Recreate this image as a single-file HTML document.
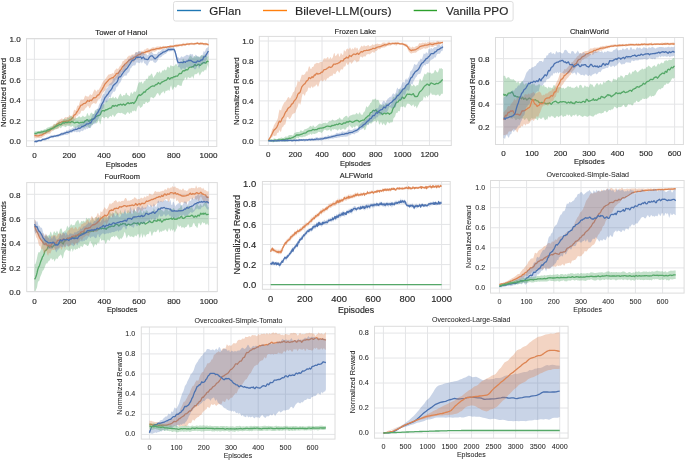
<!DOCTYPE html>
<html><head><meta charset="utf-8"><style>html,body{margin:0;padding:0;background:#fff;width:685px;height:460px;overflow:hidden}svg{display:block}</style></head>
<body><svg width="685" height="460" viewBox="0 0 685 460" style="font-family:'Liberation Sans', sans-serif"><rect width="685" height="460" fill="#fff"/><g opacity="0.999"><clipPath id="clip1"><rect x="26.50" y="38.50" width="190.30" height="108.00"/></clipPath>
<line x1="34.40" y1="38.50" x2="34.40" y2="146.50" stroke="#e4e5e7" stroke-width="1.00"/>
<line x1="69.22" y1="38.50" x2="69.22" y2="146.50" stroke="#e4e5e7" stroke-width="1.00"/>
<line x1="104.04" y1="38.50" x2="104.04" y2="146.50" stroke="#e4e5e7" stroke-width="1.00"/>
<line x1="138.86" y1="38.50" x2="138.86" y2="146.50" stroke="#e4e5e7" stroke-width="1.00"/>
<line x1="173.68" y1="38.50" x2="173.68" y2="146.50" stroke="#e4e5e7" stroke-width="1.00"/>
<line x1="208.50" y1="38.50" x2="208.50" y2="146.50" stroke="#e4e5e7" stroke-width="1.00"/>
<line x1="26.50" y1="140.80" x2="216.80" y2="140.80" stroke="#e4e5e7" stroke-width="1.00"/>
<line x1="26.50" y1="120.42" x2="216.80" y2="120.42" stroke="#e4e5e7" stroke-width="1.00"/>
<line x1="26.50" y1="100.04" x2="216.80" y2="100.04" stroke="#e4e5e7" stroke-width="1.00"/>
<line x1="26.50" y1="79.66" x2="216.80" y2="79.66" stroke="#e4e5e7" stroke-width="1.00"/>
<line x1="26.50" y1="59.28" x2="216.80" y2="59.28" stroke="#e4e5e7" stroke-width="1.00"/>
<line x1="26.50" y1="38.90" x2="216.80" y2="38.90" stroke="#e4e5e7" stroke-width="1.00"/>
<g clip-path="url(#clip1)">
<polygon points="34.4,133.8 35.2,134.0 36.0,133.7 36.8,133.7 37.6,133.5 38.4,133.6 39.2,133.7 40.0,133.0 40.8,133.1 41.6,132.9 42.3,132.2 43.1,131.6 43.9,131.2 44.7,131.4 45.5,130.9 46.3,129.7 47.1,129.0 47.9,128.9 48.7,128.7 49.5,128.6 50.3,127.8 51.1,126.8 51.9,127.0 52.7,126.0 53.5,124.0 54.3,123.8 55.1,124.4 55.9,123.4 56.7,122.2 57.5,121.0 58.2,120.5 59.0,120.6 59.8,119.5 60.6,119.3 61.4,118.6 62.2,118.5 63.0,119.3 63.8,119.1 64.6,117.7 65.4,117.0 66.2,117.4 67.0,117.0 67.8,117.1 68.6,116.8 69.4,114.9 70.2,115.4 71.0,116.7 71.8,115.4 72.6,114.8 73.4,112.2 74.1,109.4 74.9,110.2 75.7,110.6 76.5,108.5 77.3,105.6 78.1,105.9 78.9,105.0 79.7,102.3 80.5,100.1 81.3,99.4 82.1,100.0 82.9,99.6 83.7,99.5 84.5,97.1 85.3,95.5 86.1,96.0 86.9,96.4 87.7,96.6 88.5,96.7 89.3,95.6 90.0,94.2 90.8,94.4 91.6,95.3 92.4,94.2 93.2,92.3 94.0,90.6 94.8,89.3 95.6,90.3 96.4,91.7 97.2,90.3 98.0,89.5 98.8,89.9 99.6,88.2 100.4,87.0 101.2,85.2 102.0,83.4 102.8,82.1 103.6,80.8 104.4,80.0 105.2,79.1 105.9,78.2 106.7,77.0 107.5,75.9 108.3,74.5 109.1,74.7 109.9,74.1 110.7,73.9 111.5,73.9 112.3,72.7 113.1,74.0 113.9,72.8 114.7,70.3 115.5,69.8 116.3,68.6 117.1,68.5 117.9,69.2 118.7,68.1 119.5,66.6 120.3,65.5 121.1,65.0 121.8,63.5 122.6,61.3 123.4,61.0 124.2,60.6 125.0,59.1 125.8,59.4 126.6,58.8 127.4,57.0 128.2,56.4 129.0,55.5 129.8,55.8 130.6,55.8 131.4,54.8 132.2,54.4 133.0,54.5 133.8,54.4 134.6,54.1 135.4,52.5 136.2,51.9 137.0,52.0 137.7,52.6 138.5,52.0 139.3,51.0 140.1,52.5 140.9,51.8 141.7,50.6 142.5,51.1 143.3,50.9 144.1,49.7 144.9,49.5 145.7,49.4 146.5,48.4 147.3,48.0 148.1,48.4 148.9,48.8 149.7,49.0 150.5,48.7 151.3,47.9 152.1,47.4 152.9,47.3 153.6,47.2 154.4,47.4 155.2,47.5 156.0,46.9 156.8,46.6 157.6,46.4 158.4,46.5 159.2,46.7 160.0,46.3 160.8,46.3 161.6,47.0 162.4,46.4 163.2,45.7 164.0,45.9 164.8,46.3 165.6,46.3 166.4,46.1 167.2,46.0 168.0,46.1 168.8,46.0 169.5,45.2 170.3,44.9 171.1,45.2 171.9,45.2 172.7,44.9 173.5,45.5 174.3,45.4 175.1,44.4 175.9,44.3 176.7,43.9 177.5,43.7 178.3,44.0 179.1,44.0 179.9,43.8 180.7,43.9 181.5,44.0 182.3,43.4 183.1,42.8 183.9,43.0 184.7,43.5 185.4,43.6 186.2,43.0 187.0,42.7 187.8,42.7 188.6,42.9 189.4,43.1 190.2,42.9 191.0,42.6 191.8,42.4 192.6,42.8 193.4,43.3 194.2,42.9 195.0,42.6 195.8,43.0 196.6,42.4 197.4,41.8 198.2,42.3 199.0,42.8 199.8,42.4 200.6,42.3 201.3,42.4 202.1,42.3 202.9,43.0 203.7,43.2 204.5,43.0 205.3,42.8 206.1,42.8 206.9,43.3 207.7,43.6 208.5,43.8 208.5,46.1 207.7,45.6 206.9,45.0 206.1,45.3 205.3,45.4 204.5,45.3 203.7,45.3 202.9,45.0 202.1,44.6 201.3,44.7 200.6,44.8 199.8,45.0 199.0,45.0 198.2,44.2 197.4,44.3 196.6,44.4 195.8,44.4 195.0,45.1 194.2,45.2 193.4,45.0 192.6,44.6 191.8,44.6 191.0,44.3 190.2,44.6 189.4,45.4 188.6,45.4 187.8,45.0 187.0,44.8 186.2,45.1 185.4,46.0 184.7,46.1 183.9,45.4 183.1,45.7 182.3,46.4 181.5,46.4 180.7,46.0 179.9,46.2 179.1,46.5 178.3,46.6 177.5,46.9 176.7,47.4 175.9,47.1 175.1,46.7 174.3,47.1 173.5,47.4 172.7,47.7 171.9,48.2 171.1,48.0 170.3,47.9 169.5,48.1 168.8,47.9 168.0,48.0 167.2,48.2 166.4,48.2 165.6,48.2 164.8,48.9 164.0,49.1 163.2,49.1 162.4,49.6 161.6,49.6 160.8,49.7 160.0,50.1 159.2,50.3 158.4,49.7 157.6,49.7 156.8,50.6 156.0,51.1 155.2,51.6 154.4,51.8 153.6,51.4 152.9,51.2 152.1,52.0 151.3,53.0 150.5,53.0 149.7,53.5 148.9,53.8 148.1,53.4 147.3,53.1 146.5,53.3 145.7,54.3 144.9,55.0 144.1,55.2 143.3,55.7 142.5,55.7 141.7,55.7 140.9,56.8 140.1,57.3 139.3,57.4 138.5,58.5 137.7,59.1 137.0,59.0 136.2,58.5 135.4,59.4 134.6,61.3 133.8,62.0 133.0,62.6 132.2,61.7 131.4,61.6 130.6,63.1 129.8,63.0 129.0,63.0 128.2,65.4 127.4,66.2 126.6,67.2 125.8,69.6 125.0,69.3 124.2,70.5 123.4,71.8 122.6,71.9 121.8,71.9 121.1,72.9 120.3,75.8 119.5,77.1 118.7,77.6 117.9,79.1 117.1,79.2 116.3,78.1 115.5,79.2 114.7,81.5 113.9,82.2 113.1,83.3 112.3,83.9 111.5,84.9 110.7,85.2 109.9,84.5 109.1,85.4 108.3,86.5 107.5,86.7 106.7,87.3 105.9,89.7 105.2,90.5 104.4,91.1 103.6,92.1 102.8,92.4 102.0,94.8 101.2,97.6 100.4,98.5 99.6,99.1 98.8,99.2 98.0,99.8 97.2,101.7 96.4,103.4 95.6,103.7 94.8,103.5 94.0,103.1 93.2,103.2 92.4,104.0 91.6,104.6 90.8,106.6 90.0,108.0 89.3,108.2 88.5,106.3 87.7,105.5 86.9,107.3 86.1,107.4 85.3,108.6 84.5,109.8 83.7,110.7 82.9,110.8 82.1,110.7 81.3,110.7 80.5,113.0 79.7,114.6 78.9,113.5 78.1,115.4 77.3,116.0 76.5,115.5 75.7,118.8 74.9,120.5 74.1,119.8 73.4,121.8 72.6,122.5 71.8,122.5 71.0,123.9 70.2,124.4 69.4,124.5 68.6,124.6 67.8,124.4 67.0,124.5 66.2,125.0 65.4,125.3 64.6,125.0 63.8,124.4 63.0,125.4 62.2,126.3 61.4,125.9 60.6,125.4 59.8,125.8 59.0,128.1 58.2,128.9 57.5,128.1 56.7,128.9 55.9,129.7 55.1,129.0 54.3,129.3 53.5,130.2 52.7,131.0 51.9,131.3 51.1,132.0 50.3,133.4 49.5,133.8 48.7,133.7 47.9,133.8 47.1,134.5 46.3,134.4 45.5,134.6 44.7,135.6 43.9,136.2 43.1,136.6 42.3,137.1 41.6,137.9 40.8,137.8 40.0,137.9 39.2,138.1 38.4,137.9 37.6,137.9 36.8,138.3 36.0,138.5 35.2,138.0 34.4,137.8" fill="#dd8452" fill-opacity="0.35"/>
<polyline points="34.4,135.7 35.2,135.7 36.0,135.7 36.8,135.9 37.6,135.9 38.4,135.9 39.2,135.7 40.0,135.2 40.8,135.1 41.6,135.1 42.3,134.6 43.1,134.1 43.9,133.7 44.7,133.4 45.5,132.9 46.3,132.2 47.1,131.8 47.9,131.5 48.7,131.0 49.5,130.6 50.3,130.1 51.1,129.4 51.9,128.8 52.7,128.1 53.5,127.2 54.3,126.6 55.1,126.4 55.9,125.8 56.7,124.6 57.5,123.8 58.2,123.6 59.0,123.2 59.8,122.8 60.6,122.6 61.4,121.9 62.2,121.8 63.0,121.9 63.8,121.4 64.6,121.4 65.4,121.5 66.2,121.2 67.0,121.0 67.8,121.2 68.6,120.9 69.4,120.0 70.2,120.0 71.0,119.5 71.8,118.4 72.6,117.9 73.4,116.5 74.1,115.0 74.9,114.9 75.7,114.1 76.5,112.5 77.3,111.5 78.1,110.3 78.9,108.9 79.7,107.5 80.5,105.7 81.3,105.1 82.1,104.9 82.9,104.2 83.7,103.6 84.5,103.4 85.3,103.3 86.1,102.5 86.9,101.5 87.7,100.5 88.5,101.0 89.3,101.4 90.0,100.2 90.8,100.4 91.6,100.5 92.4,99.4 93.2,98.3 94.0,97.6 94.8,97.8 95.6,97.6 96.4,97.0 97.2,95.6 98.0,95.0 98.8,94.8 99.6,93.5 100.4,92.1 101.2,90.8 102.0,89.6 102.8,88.1 103.6,86.7 104.4,85.1 105.2,83.7 105.9,83.1 106.7,82.1 107.5,81.3 108.3,80.3 109.1,79.4 109.9,78.8 110.7,78.6 111.5,78.0 112.3,77.6 113.1,77.9 113.9,76.8 114.7,75.9 115.5,75.2 116.3,73.6 117.1,73.3 117.9,73.6 118.7,72.5 119.5,71.2 120.3,70.3 121.1,69.4 121.8,68.0 122.6,66.6 123.4,66.0 124.2,65.2 125.0,64.0 125.8,63.5 126.6,62.7 127.4,61.9 128.2,61.1 129.0,60.2 129.8,59.8 130.6,59.4 131.4,58.9 132.2,58.8 133.0,58.5 133.8,57.4 134.6,57.2 135.4,56.7 136.2,56.2 137.0,55.8 137.7,55.2 138.5,54.9 139.3,54.3 140.1,54.4 140.9,53.9 141.7,53.0 142.5,52.9 143.3,52.9 144.1,52.6 144.9,52.4 145.7,51.9 146.5,51.6 147.3,51.5 148.1,51.2 148.9,51.0 149.7,50.8 150.5,50.3 151.3,49.9 152.1,49.8 152.9,49.5 153.6,49.5 154.4,49.4 155.2,49.2 156.0,48.9 156.8,48.7 157.6,48.6 158.4,48.6 159.2,48.5 160.0,48.0 160.8,47.8 161.6,48.0 162.4,47.7 163.2,47.3 164.0,47.4 164.8,47.4 165.6,47.2 166.4,47.3 167.2,47.0 168.0,46.7 168.8,46.7 169.5,46.7 170.3,46.5 171.1,46.4 171.9,46.3 172.7,46.3 173.5,46.3 174.3,45.9 175.1,45.7 175.9,45.8 176.7,45.6 177.5,45.6 178.3,45.5 179.1,45.3 179.9,45.2 180.7,45.1 181.5,45.0 182.3,44.8 183.1,44.6 183.9,44.6 184.7,44.6 185.4,44.7 186.2,44.5 187.0,44.1 187.8,44.2 188.6,44.1 189.4,44.0 190.2,43.9 191.0,43.8 191.8,43.9 192.6,43.8 193.4,43.8 194.2,43.8 195.0,43.6 195.8,43.5 196.6,43.3 197.4,43.2 198.2,43.5 199.0,43.9 199.8,43.6 200.6,43.5 201.3,43.6 202.1,43.4 202.9,43.6 203.7,44.0 204.5,43.9 205.3,43.8 206.1,44.0 206.9,44.2 207.7,44.4 208.5,44.8" fill="none" stroke="#dd8452" stroke-width="1.30" stroke-linejoin="round"/>
<polygon points="34.4,132.0 35.2,131.3 36.0,131.2 36.8,131.3 37.6,131.0 38.4,130.9 39.2,130.9 40.0,130.9 40.8,130.2 41.6,129.9 42.3,130.3 43.1,130.2 43.9,129.6 44.7,129.3 45.5,129.3 46.3,128.6 47.1,127.8 47.9,127.5 48.7,127.3 49.5,126.9 50.3,126.6 51.1,126.4 51.9,125.8 52.7,125.7 53.5,125.2 54.3,124.3 55.1,124.3 55.9,123.8 56.7,123.6 57.5,122.9 58.2,122.3 59.0,121.3 59.8,121.3 60.6,122.8 61.4,122.2 62.2,121.0 63.0,120.1 63.8,119.1 64.6,118.5 65.4,118.9 66.2,119.5 67.0,118.4 67.8,117.3 68.6,117.9 69.4,117.5 70.2,116.4 71.0,115.8 71.8,116.3 72.6,117.1 73.4,117.0 74.1,118.2 74.9,119.2 75.7,118.1 76.5,118.0 77.3,117.7 78.1,117.2 78.9,116.2 79.7,116.5 80.5,117.6 81.3,117.2 82.1,116.5 82.9,115.4 83.7,116.4 84.5,116.9 85.3,116.6 86.1,116.4 86.9,113.7 87.7,113.1 88.5,115.5 89.3,115.9 90.0,114.4 90.8,113.1 91.6,112.6 92.4,113.4 93.2,113.9 94.0,113.9 94.8,110.5 95.6,110.2 96.4,111.7 97.2,108.9 98.0,108.5 98.8,109.0 99.6,108.6 100.4,107.0 101.2,104.8 102.0,105.0 102.8,104.8 103.6,103.9 104.4,104.6 105.2,102.7 105.9,100.8 106.7,100.4 107.5,101.0 108.3,100.3 109.1,98.4 109.9,97.8 110.7,97.4 111.5,98.2 112.3,97.7 113.1,96.3 113.9,98.2 114.7,98.3 115.5,96.8 116.3,97.8 117.1,99.1 117.9,98.5 118.7,96.5 119.5,95.1 120.3,93.4 121.1,94.5 121.8,96.0 122.6,96.4 123.4,95.1 124.2,95.0 125.0,95.6 125.8,92.9 126.6,92.7 127.4,94.9 128.2,95.1 129.0,95.9 129.8,96.3 130.6,92.9 131.4,92.0 132.2,93.9 133.0,93.3 133.8,91.6 134.6,91.6 135.4,92.1 136.2,90.9 137.0,87.9 137.7,85.4 138.5,83.1 139.3,82.0 140.1,82.7 140.9,82.1 141.7,81.6 142.5,83.8 143.3,83.3 144.1,80.8 144.9,81.5 145.7,79.8 146.5,78.4 147.3,79.6 148.1,77.4 148.9,75.2 149.7,75.9 150.5,74.9 151.3,73.4 152.1,73.9 152.9,76.6 153.6,77.9 154.4,75.9 155.2,75.2 156.0,74.1 156.8,72.2 157.6,71.8 158.4,72.9 159.2,71.5 160.0,71.4 160.8,73.6 161.6,71.9 162.4,70.3 163.2,70.7 164.0,70.0 164.8,69.3 165.6,70.6 166.4,69.9 167.2,67.3 168.0,66.6 168.8,67.6 169.5,68.2 170.3,65.5 171.1,65.2 171.9,66.3 172.7,66.0 173.5,66.5 174.3,65.7 175.1,64.9 175.9,63.8 176.7,64.4 177.5,66.2 178.3,65.8 179.1,63.7 179.9,62.2 180.7,61.8 181.5,61.7 182.3,60.5 183.1,58.6 183.9,59.4 184.7,62.4 185.4,63.0 186.2,62.4 187.0,60.4 187.8,59.6 188.6,58.5 189.4,56.4 190.2,55.8 191.0,55.5 191.8,57.0 192.6,58.0 193.4,58.1 194.2,56.1 195.0,56.0 195.8,57.4 196.6,55.7 197.4,56.6 198.2,57.1 199.0,56.6 199.8,57.8 200.6,56.0 201.3,55.3 202.1,55.1 202.9,55.8 203.7,55.3 204.5,54.5 205.3,55.5 206.1,54.7 206.9,56.1 207.7,57.0 208.5,55.2 208.5,68.2 207.7,64.5 206.9,67.4 206.1,70.7 205.3,69.6 204.5,70.2 203.7,71.8 202.9,71.4 202.1,71.4 201.3,72.7 200.6,74.0 199.8,75.7 199.0,73.7 198.2,71.9 197.4,73.6 196.6,74.0 195.8,74.4 195.0,73.8 194.2,75.4 193.4,79.1 192.6,76.6 191.8,76.2 191.0,77.9 190.2,77.4 189.4,78.2 188.6,77.2 187.8,77.3 187.0,79.8 186.2,79.2 185.4,77.1 184.7,78.5 183.9,80.6 183.1,80.5 182.3,82.9 181.5,86.0 180.7,85.7 179.9,85.8 179.1,85.3 178.3,84.8 177.5,84.9 176.7,86.4 175.9,87.9 175.1,87.0 174.3,86.7 173.5,88.6 172.7,90.2 171.9,88.2 171.1,85.3 170.3,87.2 169.5,91.1 168.8,90.5 168.0,89.4 167.2,91.1 166.4,90.7 165.6,90.8 164.8,93.7 164.0,92.4 163.2,91.1 162.4,92.4 161.6,92.7 160.8,94.1 160.0,95.5 159.2,95.5 158.4,93.5 157.6,93.1 156.8,93.8 156.0,95.3 155.2,96.7 154.4,97.3 153.6,98.4 152.9,97.7 152.1,97.8 151.3,97.0 150.5,97.6 149.7,101.6 148.9,102.1 148.1,102.4 147.3,103.3 146.5,101.8 145.7,102.1 144.9,104.1 144.1,103.9 143.3,103.7 142.5,106.2 141.7,107.1 140.9,107.5 140.1,107.9 139.3,105.5 138.5,105.6 137.7,106.6 137.0,108.5 136.2,111.5 135.4,111.3 134.6,110.3 133.8,111.6 133.0,110.5 132.2,111.3 131.4,113.3 130.6,112.1 129.8,113.9 129.0,113.6 128.2,112.3 127.4,112.2 126.6,113.2 125.8,114.8 125.0,114.8 124.2,114.2 123.4,113.8 122.6,113.4 121.8,112.7 121.1,113.1 120.3,113.3 119.5,113.0 118.7,112.8 117.9,113.1 117.1,113.6 116.3,114.2 115.5,115.4 114.7,116.8 113.9,116.6 113.1,114.5 112.3,114.9 111.5,117.2 110.7,115.7 109.9,116.5 109.1,117.1 108.3,118.5 107.5,118.6 106.7,116.9 105.9,117.0 105.2,117.2 104.4,118.6 103.6,117.8 102.8,116.9 102.0,117.1 101.2,120.1 100.4,124.5 99.6,122.8 98.8,119.3 98.0,121.4 97.2,122.7 96.4,123.6 95.6,122.4 94.8,122.2 94.0,123.5 93.2,123.8 92.4,125.1 91.6,124.7 90.8,126.1 90.0,127.9 89.3,128.0 88.5,127.3 87.7,126.3 86.9,126.5 86.1,127.0 85.3,126.4 84.5,127.9 83.7,128.3 82.9,127.0 82.1,127.9 81.3,127.4 80.5,126.3 79.7,127.7 78.9,129.4 78.1,128.3 77.3,126.4 76.5,127.2 75.7,128.2 74.9,127.2 74.1,127.6 73.4,126.7 72.6,125.7 71.8,126.3 71.0,127.0 70.2,126.3 69.4,125.7 68.6,125.9 67.8,125.8 67.0,125.9 66.2,126.7 65.4,127.2 64.6,126.6 63.8,126.5 63.0,125.9 62.2,126.3 61.4,127.8 60.6,128.3 59.8,127.3 59.0,127.3 58.2,127.9 57.5,128.9 56.7,129.0 55.9,128.5 55.1,129.6 54.3,130.1 53.5,130.6 52.7,130.3 51.9,129.7 51.1,130.2 50.3,131.5 49.5,132.1 48.7,132.5 47.9,132.5 47.1,132.6 46.3,133.6 45.5,133.4 44.7,133.0 43.9,133.7 43.1,134.1 42.3,134.0 41.6,133.9 40.8,134.0 40.0,134.3 39.2,134.2 38.4,133.9 37.6,134.3 36.8,135.0 36.0,134.9 35.2,134.6 34.4,135.1" fill="#55a868" fill-opacity="0.36"/>
<polyline points="34.4,133.6 35.2,133.5 36.0,133.5 36.8,133.2 37.6,132.7 38.4,132.4 39.2,132.5 40.0,132.5 40.8,132.1 41.6,131.9 42.3,132.0 43.1,131.7 43.9,131.3 44.7,131.2 45.5,131.2 46.3,131.0 47.1,130.4 47.9,130.0 48.7,129.9 49.5,129.4 50.3,129.0 51.1,128.8 51.9,128.5 52.7,128.3 53.5,128.0 54.3,127.6 55.1,126.9 55.9,126.2 56.7,126.1 57.5,125.7 58.2,125.2 59.0,124.7 59.8,124.7 60.6,124.8 61.4,124.3 62.2,123.3 63.0,122.7 63.8,123.1 64.6,123.0 65.4,122.3 66.2,122.3 67.0,122.8 67.8,122.3 68.6,122.0 69.4,122.2 70.2,122.4 71.0,122.1 71.8,121.5 72.6,121.8 73.4,122.1 74.1,122.9 74.9,122.9 75.7,122.3 76.5,122.4 77.3,122.1 78.1,122.3 78.9,123.1 79.7,122.8 80.5,122.3 81.3,122.5 82.1,122.3 82.9,122.1 83.7,122.6 84.5,121.8 85.3,120.7 86.1,120.5 86.9,119.6 87.7,119.8 88.5,121.1 89.3,121.2 90.0,120.6 90.8,120.1 91.6,119.2 92.4,119.4 93.2,118.9 94.0,118.2 94.8,117.8 95.6,116.7 96.4,116.5 97.2,116.0 98.0,115.6 98.8,115.3 99.6,115.2 100.4,114.4 101.2,112.3 102.0,110.9 102.8,110.6 103.6,110.7 104.4,111.1 105.2,110.3 105.9,109.6 106.7,109.8 107.5,109.4 108.3,108.9 109.1,108.5 109.9,108.1 110.7,108.0 111.5,107.8 112.3,105.9 113.1,105.5 113.9,106.4 114.7,105.9 115.5,105.3 116.3,105.8 117.1,106.1 117.9,105.0 118.7,104.7 119.5,104.9 120.3,104.2 121.1,104.4 121.8,105.0 122.6,104.8 123.4,104.0 124.2,104.5 125.0,105.3 125.8,104.5 126.6,103.8 127.4,103.1 128.2,102.7 129.0,103.5 129.8,103.6 130.6,102.9 131.4,103.3 132.2,102.7 133.0,102.6 133.8,103.5 134.6,102.6 135.4,101.4 136.2,100.3 137.0,98.2 137.7,96.6 138.5,95.2 139.3,94.7 140.1,95.5 140.9,95.1 141.7,94.2 142.5,93.8 143.3,92.6 144.1,91.8 144.9,92.3 145.7,91.2 146.5,89.8 147.3,89.5 148.1,88.9 148.9,88.2 149.7,87.8 150.5,87.0 151.3,86.4 152.1,86.3 152.9,85.8 153.6,86.2 154.4,86.1 155.2,85.1 156.0,84.5 156.8,84.7 157.6,83.6 158.4,82.6 159.2,83.5 160.0,84.0 160.8,83.2 161.6,82.1 162.4,82.0 163.2,81.5 164.0,81.2 164.8,80.6 165.6,80.3 166.4,80.2 167.2,79.1 168.0,77.6 168.8,78.1 169.5,79.2 170.3,78.7 171.1,77.8 171.9,77.6 172.7,77.8 173.5,76.9 174.3,76.7 175.1,76.8 175.9,76.1 176.7,76.2 177.5,76.2 178.3,75.0 179.1,73.8 179.9,73.3 180.7,73.7 181.5,73.3 182.3,71.7 183.1,70.8 183.9,70.7 184.7,70.9 185.4,70.2 186.2,69.6 187.0,70.0 187.8,69.7 188.6,68.2 189.4,67.4 190.2,67.1 191.0,67.2 191.8,67.0 192.6,66.7 193.4,66.9 194.2,65.2 195.0,64.5 195.8,65.6 196.6,65.7 197.4,65.1 198.2,64.3 199.0,64.4 199.8,65.5 200.6,65.1 201.3,64.1 202.1,63.7 202.9,62.9 203.7,62.6 204.5,62.7 205.3,63.1 206.1,62.9 206.9,61.3 207.7,61.2 208.5,61.9" fill="none" stroke="#55a868" stroke-width="1.30" stroke-linejoin="round"/>
<polygon points="34.4,140.8 35.2,140.4 36.0,139.8 36.8,139.9 37.6,140.3 38.4,139.8 39.2,139.2 40.0,139.4 40.8,139.8 41.6,139.2 42.3,138.2 43.1,138.5 43.9,138.5 44.7,138.2 45.5,138.0 46.3,137.4 47.1,136.9 47.9,136.6 48.7,136.7 49.5,136.4 50.3,135.5 51.1,135.2 51.9,135.1 52.7,135.2 53.5,135.4 54.3,134.7 55.1,134.7 55.9,135.2 56.7,134.5 57.5,134.0 58.2,134.1 59.0,134.0 59.8,133.8 60.6,133.3 61.4,132.6 62.2,132.2 63.0,132.6 63.8,132.0 64.6,131.4 65.4,131.7 66.2,130.7 67.0,130.1 67.8,130.7 68.6,130.1 69.4,129.4 70.2,129.3 71.0,128.9 71.8,128.4 72.6,128.0 73.4,127.5 74.1,127.4 74.9,127.0 75.7,126.4 76.5,127.0 77.3,125.8 78.1,124.7 78.9,125.0 79.7,124.3 80.5,123.6 81.3,123.8 82.1,122.8 82.9,123.1 83.7,122.2 84.5,120.3 85.3,121.0 86.1,120.8 86.9,119.9 87.7,119.2 88.5,119.9 89.3,118.8 90.0,118.7 90.8,119.7 91.6,116.8 92.4,114.9 93.2,113.8 94.0,114.1 94.8,112.9 95.6,109.9 96.4,109.2 97.2,108.9 98.0,108.4 98.8,105.3 99.6,103.6 100.4,102.7 101.2,98.7 102.0,96.2 102.8,94.6 103.6,94.0 104.4,94.0 105.2,91.1 105.9,89.6 106.7,88.2 107.5,87.5 108.3,86.8 109.1,84.3 109.9,83.8 110.7,83.3 111.5,82.5 112.3,81.4 113.1,79.3 113.9,78.0 114.7,78.0 115.5,76.5 116.3,75.7 117.1,75.3 117.9,73.3 118.7,71.9 119.5,69.6 120.3,69.8 121.1,71.1 121.8,70.3 122.6,68.5 123.4,65.2 124.2,64.0 125.0,63.8 125.8,63.9 126.6,63.6 127.4,61.6 128.2,59.4 129.0,59.1 129.8,58.6 130.6,56.7 131.4,56.8 132.2,55.7 133.0,55.0 133.8,56.5 134.6,55.4 135.4,52.6 136.2,52.1 137.0,53.0 137.7,52.2 138.5,50.8 139.3,51.4 140.1,50.7 140.9,51.5 141.7,53.5 142.5,52.6 143.3,52.2 144.1,53.7 144.9,54.5 145.7,53.9 146.5,54.1 147.3,55.2 148.1,55.2 148.9,53.7 149.7,53.1 150.5,52.7 151.3,52.2 152.1,52.2 152.9,53.0 153.6,54.2 154.4,54.1 155.2,53.9 156.0,54.0 156.8,54.0 157.6,52.7 158.4,51.5 159.2,51.9 160.0,51.4 160.8,50.8 161.6,50.0 162.4,49.6 163.2,48.8 164.0,49.0 164.8,49.4 165.6,49.0 166.4,48.2 167.2,47.7 168.0,47.6 168.8,47.0 169.5,46.9 170.3,47.4 171.1,47.8 171.9,47.8 172.7,47.7 173.5,47.2 174.3,47.8 175.1,49.6 175.9,52.3 176.7,55.3 177.5,57.5 178.3,57.3 179.1,58.1 179.9,58.6 180.7,57.0 181.5,56.3 182.3,56.8 183.1,57.5 183.9,56.2 184.7,56.2 185.4,55.7 186.2,55.1 187.0,54.8 187.8,54.9 188.6,55.6 189.4,55.1 190.2,53.8 191.0,54.3 191.8,54.4 192.6,53.9 193.4,56.0 194.2,57.7 195.0,55.5 195.8,54.4 196.6,55.5 197.4,56.3 198.2,56.6 199.0,56.4 199.8,57.1 200.6,55.9 201.3,55.0 202.1,56.2 202.9,53.8 203.7,51.1 204.5,51.9 205.3,50.7 206.1,48.3 206.9,48.2 207.7,47.2 208.5,46.5 208.5,54.6 207.7,56.3 206.9,58.9 206.1,60.3 205.3,63.9 204.5,63.4 203.7,63.1 202.9,64.7 202.1,64.3 201.3,64.2 200.6,64.6 199.8,67.6 199.0,69.0 198.2,66.2 197.4,64.5 196.6,67.8 195.8,69.6 195.0,68.8 194.2,69.5 193.4,67.0 192.6,66.4 191.8,68.4 191.0,66.7 190.2,66.2 189.4,66.2 188.6,67.3 187.8,67.9 187.0,67.0 186.2,67.2 185.4,69.9 184.7,69.9 183.9,68.1 183.1,68.9 182.3,68.3 181.5,70.1 180.7,69.4 179.9,67.4 179.1,66.9 178.3,67.3 177.5,65.1 176.7,61.0 175.9,57.7 175.1,54.2 174.3,51.8 173.5,50.9 172.7,51.1 171.9,51.2 171.1,50.9 170.3,51.3 169.5,51.4 168.8,51.2 168.0,51.5 167.2,52.2 166.4,53.3 165.6,54.1 164.8,54.0 164.0,54.7 163.2,55.3 162.4,55.6 161.6,56.8 160.8,57.3 160.0,57.5 159.2,57.6 158.4,58.5 157.6,60.4 156.8,61.8 156.0,62.6 155.2,63.1 154.4,62.4 153.6,62.2 152.9,60.7 152.1,60.5 151.3,60.9 150.5,60.4 149.7,61.5 148.9,62.6 148.1,64.6 147.3,65.7 146.5,65.6 145.7,64.1 144.9,63.6 144.1,62.9 143.3,60.2 142.5,62.4 141.7,63.4 140.9,61.3 140.1,62.9 139.3,63.3 138.5,62.8 137.7,62.8 137.0,61.9 136.2,63.0 135.4,65.3 134.6,65.4 133.8,65.3 133.0,65.8 132.2,66.2 131.4,67.7 130.6,67.9 129.8,70.4 129.0,72.5 128.2,72.4 127.4,73.6 126.6,75.4 125.8,75.7 125.0,75.3 124.2,75.9 123.4,76.8 122.6,77.6 121.8,78.7 121.1,81.0 120.3,82.4 119.5,83.2 118.7,84.2 117.9,86.5 117.1,86.5 116.3,87.5 115.5,90.4 114.7,91.8 113.9,91.6 113.1,91.9 112.3,93.5 111.5,94.5 110.7,97.2 109.9,97.1 109.1,97.1 108.3,100.5 107.5,101.4 106.7,102.1 105.9,103.1 105.2,101.7 104.4,103.7 103.6,107.7 102.8,109.1 102.0,109.6 101.2,112.2 100.4,114.4 99.6,115.5 98.8,117.7 98.0,119.6 97.2,120.5 96.4,121.3 95.6,123.6 94.8,124.3 94.0,123.3 93.2,124.5 92.4,125.2 91.6,125.9 90.8,127.7 90.0,128.2 89.3,127.6 88.5,127.9 87.7,129.1 86.9,128.6 86.1,128.8 85.3,130.0 84.5,129.3 83.7,130.0 82.9,131.2 82.1,130.8 81.3,130.8 80.5,131.5 79.7,132.4 78.9,132.1 78.1,131.4 77.3,132.3 76.5,132.2 75.7,131.4 74.9,132.0 74.1,132.3 73.4,131.5 72.6,132.2 71.8,133.1 71.0,132.8 70.2,132.9 69.4,133.8 68.6,134.1 67.8,134.4 67.0,134.9 66.2,134.8 65.4,135.0 64.6,135.1 63.8,135.1 63.0,135.4 62.2,135.6 61.4,136.0 60.6,136.3 59.8,136.0 59.0,136.5 58.2,137.2 57.5,137.1 56.7,137.2 55.9,137.2 55.1,137.0 54.3,137.3 53.5,138.0 52.7,138.2 51.9,137.6 51.1,137.8 50.3,138.0 49.5,138.5 48.7,139.5 47.9,139.4 47.1,139.3 46.3,140.2 45.5,140.4 44.7,140.8 43.9,141.1 43.1,140.4 42.3,140.8 41.6,141.5 40.8,141.7 40.0,141.5 39.2,141.4 38.4,141.7 37.6,142.3 36.8,142.7 36.0,142.2 35.2,142.1 34.4,142.6" fill="#4c72b0" fill-opacity="0.30"/>
<polyline points="34.4,141.6 35.2,141.5 36.0,141.5 36.8,141.5 37.6,141.2 38.4,140.6 39.2,140.6 40.0,140.6 40.8,140.6 41.6,140.3 42.3,139.6 43.1,139.4 43.9,139.3 44.7,139.1 45.5,139.0 46.3,138.7 47.1,138.4 47.9,138.3 48.7,137.8 49.5,137.4 50.3,137.1 51.1,136.9 51.9,136.7 52.7,136.7 53.5,136.4 54.3,136.1 55.1,136.1 55.9,136.0 56.7,135.7 57.5,135.6 58.2,135.5 59.0,135.2 59.8,134.8 60.6,134.4 61.4,133.9 62.2,133.9 63.0,134.0 63.8,133.4 64.6,133.1 65.4,133.0 66.2,132.5 67.0,132.2 67.8,132.3 68.6,132.2 69.4,131.7 70.2,131.2 71.0,131.2 71.8,131.1 72.6,130.5 73.4,130.0 74.1,129.9 74.9,129.6 75.7,129.2 76.5,129.3 77.3,129.1 78.1,128.4 78.9,128.2 79.7,128.4 80.5,128.0 81.3,127.1 82.1,126.3 82.9,126.6 83.7,126.0 84.5,125.4 85.3,125.4 86.1,124.4 86.9,123.9 87.7,123.8 88.5,123.9 89.3,123.3 90.0,122.6 90.8,123.1 91.6,121.3 92.4,119.6 93.2,119.1 94.0,118.8 94.8,118.0 95.6,115.8 96.4,114.3 97.2,113.1 98.0,112.3 98.8,110.5 99.6,109.1 100.4,108.0 101.2,105.6 102.0,103.9 102.8,102.7 103.6,101.1 104.4,99.0 105.2,97.2 105.9,96.7 106.7,95.5 107.5,94.5 108.3,93.8 109.1,92.0 109.9,91.1 110.7,90.3 111.5,89.2 112.3,87.9 113.1,85.7 113.9,84.9 114.7,84.4 115.5,83.4 116.3,82.8 117.1,81.9 117.9,79.9 118.7,77.5 119.5,76.8 120.3,76.9 121.1,75.8 121.8,74.6 122.6,73.5 123.4,72.3 124.2,71.4 125.0,70.3 125.8,69.5 126.6,68.7 127.4,67.9 128.2,66.7 129.0,65.3 129.8,64.1 130.6,62.8 131.4,61.7 132.2,60.3 133.0,60.1 133.8,60.1 134.6,59.5 135.4,58.6 136.2,57.4 137.0,57.0 137.7,57.5 138.5,57.1 139.3,57.3 140.1,57.2 140.9,57.0 141.7,58.6 142.5,57.8 143.3,56.9 144.1,58.3 144.9,59.1 145.7,59.1 146.5,59.3 147.3,59.6 148.1,59.3 148.9,58.0 149.7,56.9 150.5,56.1 151.3,55.9 152.1,55.8 152.9,56.5 153.6,57.5 154.4,58.3 155.2,58.9 156.0,58.1 156.8,57.5 157.6,56.8 158.4,55.6 159.2,55.0 160.0,54.4 160.8,53.8 161.6,53.4 162.4,52.8 163.2,52.1 164.0,51.9 164.8,51.8 165.6,51.3 166.4,50.8 167.2,50.4 168.0,49.7 168.8,49.4 169.5,49.6 170.3,49.5 171.1,49.5 171.9,49.4 172.7,49.4 173.5,49.3 174.3,49.8 175.1,51.7 175.9,54.6 176.7,58.0 177.5,61.1 178.3,62.7 179.1,62.7 179.9,62.6 180.7,62.3 181.5,62.3 182.3,62.6 183.1,62.7 183.9,61.4 184.7,62.0 185.4,62.4 186.2,61.1 187.0,61.1 187.8,61.1 188.6,60.3 189.4,60.5 190.2,60.5 191.0,60.5 191.8,61.1 192.6,61.6 193.4,62.1 194.2,62.3 195.0,62.1 195.8,62.7 196.6,62.0 197.4,60.8 198.2,61.1 199.0,61.4 199.8,61.3 200.6,60.5 201.3,59.8 202.1,60.1 202.9,59.3 203.7,56.8 204.5,56.9 205.3,56.5 206.1,54.7 206.9,53.8 207.7,52.2 208.5,51.1" fill="none" stroke="#4c72b0" stroke-width="1.30" stroke-linejoin="round"/>
</g>
<rect x="26.50" y="38.50" width="190.30" height="108.00" fill="none" stroke="#dcdcdc" stroke-width="1.00"/>
<text x="34.40" y="158.10" font-size="8.10" text-anchor="middle" textLength="4.5" lengthAdjust="spacingAndGlyphs" fill="#262626" stroke="#262626" stroke-width="0.15">0</text>
<text x="69.22" y="158.10" font-size="8.10" text-anchor="middle" textLength="13.5" lengthAdjust="spacingAndGlyphs" fill="#262626" stroke="#262626" stroke-width="0.15">200</text>
<text x="104.04" y="158.10" font-size="8.10" text-anchor="middle" textLength="13.5" lengthAdjust="spacingAndGlyphs" fill="#262626" stroke="#262626" stroke-width="0.15">400</text>
<text x="138.86" y="158.10" font-size="8.10" text-anchor="middle" textLength="13.5" lengthAdjust="spacingAndGlyphs" fill="#262626" stroke="#262626" stroke-width="0.15">600</text>
<text x="173.68" y="158.10" font-size="8.10" text-anchor="middle" textLength="13.5" lengthAdjust="spacingAndGlyphs" fill="#262626" stroke="#262626" stroke-width="0.15">800</text>
<text x="208.50" y="158.10" font-size="8.10" text-anchor="middle" textLength="18.0" lengthAdjust="spacingAndGlyphs" fill="#262626" stroke="#262626" stroke-width="0.15">1000</text>
<text x="20.70" y="144.00" font-size="8.10" text-anchor="end" textLength="11.3" lengthAdjust="spacingAndGlyphs" fill="#262626" stroke="#262626" stroke-width="0.15">0.0</text>
<text x="20.70" y="123.62" font-size="8.10" text-anchor="end" textLength="11.3" lengthAdjust="spacingAndGlyphs" fill="#262626" stroke="#262626" stroke-width="0.15">0.2</text>
<text x="20.70" y="103.24" font-size="8.10" text-anchor="end" textLength="11.3" lengthAdjust="spacingAndGlyphs" fill="#262626" stroke="#262626" stroke-width="0.15">0.4</text>
<text x="20.70" y="82.86" font-size="8.10" text-anchor="end" textLength="11.3" lengthAdjust="spacingAndGlyphs" fill="#262626" stroke="#262626" stroke-width="0.15">0.6</text>
<text x="20.70" y="62.48" font-size="8.10" text-anchor="end" textLength="11.3" lengthAdjust="spacingAndGlyphs" fill="#262626" stroke="#262626" stroke-width="0.15">0.8</text>
<text x="20.70" y="42.10" font-size="8.10" text-anchor="end" textLength="11.3" lengthAdjust="spacingAndGlyphs" fill="#262626" stroke="#262626" stroke-width="0.15">1.0</text>
<text x="121.35" y="34.60" font-size="8.10" text-anchor="middle" textLength="52.1" lengthAdjust="spacingAndGlyphs" fill="#262626" stroke="#262626" stroke-width="0.15">Tower of Hanoi</text>
<text x="121.50" y="167.00" font-size="8.10" text-anchor="middle" textLength="31.4" lengthAdjust="spacingAndGlyphs" fill="#262626" stroke="#262626" stroke-width="0.15">Episodes</text>
<text x="0" y="0" font-size="8.10" text-anchor="middle" textLength="69.0" lengthAdjust="spacingAndGlyphs" fill="#262626" stroke="#262626" stroke-width="0.15" transform="translate(5.92,92.40) rotate(-90)">Normalized Reward</text>
<clipPath id="clip2"><rect x="259.30" y="36.40" width="192.00" height="109.10"/></clipPath>
<line x1="268.30" y1="36.40" x2="268.30" y2="145.50" stroke="#e4e5e7" stroke-width="1.00"/>
<line x1="295.16" y1="36.40" x2="295.16" y2="145.50" stroke="#e4e5e7" stroke-width="1.00"/>
<line x1="322.02" y1="36.40" x2="322.02" y2="145.50" stroke="#e4e5e7" stroke-width="1.00"/>
<line x1="348.88" y1="36.40" x2="348.88" y2="145.50" stroke="#e4e5e7" stroke-width="1.00"/>
<line x1="375.74" y1="36.40" x2="375.74" y2="145.50" stroke="#e4e5e7" stroke-width="1.00"/>
<line x1="402.60" y1="36.40" x2="402.60" y2="145.50" stroke="#e4e5e7" stroke-width="1.00"/>
<line x1="429.46" y1="36.40" x2="429.46" y2="145.50" stroke="#e4e5e7" stroke-width="1.00"/>
<line x1="259.30" y1="140.80" x2="451.30" y2="140.80" stroke="#e4e5e7" stroke-width="1.00"/>
<line x1="259.30" y1="120.84" x2="451.30" y2="120.84" stroke="#e4e5e7" stroke-width="1.00"/>
<line x1="259.30" y1="100.88" x2="451.30" y2="100.88" stroke="#e4e5e7" stroke-width="1.00"/>
<line x1="259.30" y1="80.92" x2="451.30" y2="80.92" stroke="#e4e5e7" stroke-width="1.00"/>
<line x1="259.30" y1="60.96" x2="451.30" y2="60.96" stroke="#e4e5e7" stroke-width="1.00"/>
<line x1="259.30" y1="41.00" x2="451.30" y2="41.00" stroke="#e4e5e7" stroke-width="1.00"/>
<g clip-path="url(#clip2)">
<polygon points="268.3,140.5 269.1,138.7 269.9,136.9 270.7,134.4 271.5,131.6 272.3,129.1 273.1,127.9 273.9,125.6 274.7,123.9 275.5,122.8 276.3,121.6 277.1,120.3 277.9,118.0 278.7,113.2 279.5,109.6 280.3,110.1 281.1,110.4 281.9,107.6 282.6,105.8 283.4,104.3 284.2,102.4 285.0,102.0 285.8,101.2 286.6,100.1 287.4,98.3 288.2,96.9 289.0,97.3 289.8,98.7 290.6,97.8 291.4,95.9 292.2,94.7 293.0,92.3 293.8,91.9 294.6,90.4 295.4,87.2 296.2,86.8 297.0,84.2 297.8,80.2 298.6,81.7 299.4,82.1 300.2,79.7 301.0,77.6 301.8,74.7 302.6,74.8 303.4,75.1 304.2,74.4 305.0,74.0 305.8,71.9 306.6,71.3 307.4,71.8 308.2,69.0 309.0,66.2 309.8,66.7 310.6,69.0 311.3,68.9 312.1,67.0 312.9,67.1 313.7,66.2 314.5,63.9 315.3,63.7 316.1,63.3 316.9,62.7 317.7,63.1 318.5,63.3 319.3,62.8 320.1,62.1 320.9,62.0 321.7,62.0 322.5,61.7 323.3,59.5 324.1,58.1 324.9,58.7 325.7,58.5 326.5,58.4 327.3,57.2 328.1,57.1 328.9,59.5 329.7,58.2 330.5,56.8 331.3,58.8 332.1,58.6 332.9,57.1 333.7,53.9 334.5,52.8 335.3,56.3 336.1,55.8 336.9,54.7 337.7,53.5 338.5,53.4 339.3,57.0 340.0,55.7 340.8,52.9 341.6,53.4 342.4,55.1 343.2,54.4 344.0,49.4 344.8,51.2 345.6,51.6 346.4,49.2 347.2,48.8 348.0,48.4 348.8,49.8 349.6,47.8 350.4,47.8 351.2,49.9 352.0,48.7 352.8,48.2 353.6,49.6 354.4,47.7 355.2,47.0 356.0,49.1 356.8,47.8 357.6,48.1 358.4,50.8 359.2,49.6 360.0,48.0 360.8,46.8 361.6,45.5 362.4,46.4 363.2,46.4 364.0,45.0 364.8,46.1 365.6,46.3 366.4,45.9 367.2,45.7 368.0,44.9 368.7,45.3 369.5,46.4 370.3,45.9 371.1,45.6 371.9,45.2 372.7,44.1 373.5,45.1 374.3,44.9 375.1,44.1 375.9,44.4 376.7,43.8 377.5,43.6 378.3,44.0 379.1,43.9 379.9,44.1 380.7,44.3 381.5,43.8 382.3,42.8 383.1,42.4 383.9,42.6 384.7,42.4 385.5,42.7 386.3,43.0 387.1,42.5 387.9,42.4 388.7,41.5 389.5,41.7 390.3,42.7 391.1,42.4 391.9,42.2 392.7,42.4 393.5,42.8 394.3,42.7 395.1,41.9 395.9,41.9 396.7,42.1 397.4,41.7 398.2,41.9 399.0,42.4 399.8,42.8 400.6,43.1 401.4,42.7 402.2,42.5 403.0,43.3 403.8,43.5 404.6,43.2 405.4,43.7 406.2,43.8 407.0,43.9 407.8,45.2 408.6,46.5 409.4,46.3 410.2,46.8 411.0,48.0 411.8,47.2 412.6,46.5 413.4,47.3 414.2,47.5 415.0,47.0 415.8,46.2 416.6,45.9 417.4,46.1 418.2,45.2 419.0,43.6 419.8,43.1 420.6,43.6 421.4,43.3 422.2,42.8 423.0,42.6 423.8,42.9 424.6,42.8 425.4,42.3 426.1,42.9 426.9,42.7 427.7,42.1 428.5,42.2 429.3,41.6 430.1,41.8 430.9,42.2 431.7,41.9 432.5,41.9 433.3,41.7 434.1,41.7 434.9,42.3 435.7,41.9 436.5,41.4 437.3,40.9 438.1,40.7 438.9,41.4 439.7,41.6 440.5,41.6 441.3,42.0 442.1,41.2 442.9,41.1 442.9,43.7 442.1,43.3 441.3,43.3 440.5,44.4 439.7,44.8 438.9,44.6 438.1,44.7 437.3,45.5 436.5,45.9 435.7,45.8 434.9,45.7 434.1,46.0 433.3,46.9 432.5,47.0 431.7,46.9 430.9,46.7 430.1,46.5 429.3,46.6 428.5,47.5 427.7,48.3 426.9,48.3 426.1,48.5 425.4,48.8 424.6,48.5 423.8,48.0 423.0,48.8 422.2,48.9 421.4,49.3 420.6,50.0 419.8,49.6 419.0,50.4 418.2,50.8 417.4,51.2 416.6,52.2 415.8,52.6 415.0,52.9 414.2,52.5 413.4,52.9 412.6,52.9 411.8,53.4 411.0,53.5 410.2,52.9 409.4,52.3 408.6,51.3 407.8,49.6 407.0,47.6 406.2,46.7 405.4,46.6 404.6,46.3 403.8,45.9 403.0,45.0 402.2,44.4 401.4,44.7 400.6,44.7 399.8,44.6 399.0,44.3 398.2,44.2 397.4,44.6 396.7,45.6 395.9,45.5 395.1,44.9 394.3,44.7 393.5,43.8 392.7,43.9 391.9,44.6 391.1,45.3 390.3,45.8 389.5,45.6 388.7,45.8 387.9,46.1 387.1,46.1 386.3,46.4 385.5,47.1 384.7,47.4 383.9,47.6 383.1,47.6 382.3,47.7 381.5,47.8 380.7,48.5 379.9,49.4 379.1,49.1 378.3,49.0 377.5,49.9 376.7,51.0 375.9,50.7 375.1,51.6 374.3,53.0 373.5,52.4 372.7,51.7 371.9,52.5 371.1,53.3 370.3,53.7 369.5,54.4 368.7,54.0 368.0,54.3 367.2,54.3 366.4,54.8 365.6,56.4 364.8,56.4 364.0,56.2 363.2,56.8 362.4,57.7 361.6,57.1 360.8,56.3 360.0,57.4 359.2,60.7 358.4,61.4 357.6,61.6 356.8,62.7 356.0,60.9 355.2,60.4 354.4,60.1 353.6,60.9 352.8,62.2 352.0,62.9 351.2,64.0 350.4,62.0 349.6,62.0 348.8,64.0 348.0,64.9 347.2,64.5 346.4,62.4 345.6,65.7 344.8,67.1 344.0,66.0 343.2,68.4 342.4,69.7 341.6,69.2 340.8,69.4 340.0,71.2 339.3,72.9 338.5,71.8 337.7,70.6 336.9,71.2 336.1,72.4 335.3,74.3 334.5,74.0 333.7,73.3 332.9,74.7 332.1,76.3 331.3,75.6 330.5,76.2 329.7,76.4 328.9,77.2 328.1,78.6 327.3,77.9 326.5,79.4 325.7,80.9 324.9,80.1 324.1,79.4 323.3,81.1 322.5,81.5 321.7,80.5 320.9,80.4 320.1,80.7 319.3,83.3 318.5,86.3 317.7,86.8 316.9,84.7 316.1,84.4 315.3,86.3 314.5,86.6 313.7,86.4 312.9,88.2 312.1,87.1 311.3,86.3 310.6,88.3 309.8,88.3 309.0,87.3 308.2,88.0 307.4,91.1 306.6,91.7 305.8,92.6 305.0,95.5 304.2,95.4 303.4,93.7 302.6,94.0 301.8,97.5 301.0,102.0 300.2,105.0 299.4,103.3 298.6,103.2 297.8,106.5 297.0,108.3 296.2,109.7 295.4,112.4 294.6,113.3 293.8,113.2 293.0,114.1 292.2,114.5 291.4,116.5 290.6,117.9 289.8,119.1 289.0,118.7 288.2,117.0 287.4,117.1 286.6,118.3 285.8,122.8 285.0,124.9 284.2,124.5 283.4,126.6 282.6,127.0 281.9,128.0 281.1,131.4 280.3,131.8 279.5,129.7 278.7,132.4 277.9,132.8 277.1,133.0 276.3,135.7 275.5,135.6 274.7,136.3 273.9,135.8 273.1,135.6 272.3,137.3 271.5,137.5 270.7,138.1 269.9,139.8 269.1,140.5 268.3,140.9" fill="#dd8452" fill-opacity="0.35"/>
<polyline points="268.3,140.6 269.1,139.1 269.9,137.9 270.7,136.6 271.5,135.0 272.3,133.5 273.1,131.8 273.9,130.1 274.7,129.6 275.5,128.8 276.3,127.9 277.1,126.6 277.9,124.7 278.7,122.4 279.5,121.2 280.3,122.1 281.1,121.1 281.9,118.9 282.6,117.8 283.4,116.9 284.2,115.2 285.0,113.3 285.8,111.8 286.6,111.1 287.4,109.4 288.2,108.1 289.0,107.6 289.8,107.0 290.6,106.2 291.4,104.4 292.2,103.9 293.0,103.3 293.8,101.4 294.6,100.5 295.4,99.6 296.2,98.6 297.0,96.8 297.8,94.3 298.6,93.2 299.4,93.0 300.2,92.0 301.0,89.4 301.8,86.9 302.6,85.9 303.4,84.9 304.2,84.1 305.0,83.6 305.8,82.2 306.6,80.9 307.4,80.6 308.2,79.6 309.0,77.6 309.8,78.0 310.6,78.6 311.3,77.5 312.1,76.7 312.9,77.5 313.7,76.4 314.5,74.9 315.3,75.1 316.1,73.8 316.9,73.2 317.7,74.1 318.5,73.8 319.3,73.6 320.1,73.6 320.9,72.6 321.7,72.2 322.5,72.1 323.3,70.7 324.1,69.7 324.9,69.6 325.7,69.3 326.5,69.0 327.3,68.1 328.1,67.8 328.9,67.1 329.7,67.0 330.5,67.5 331.3,67.2 332.1,66.7 332.9,65.4 333.7,64.1 334.5,64.2 335.3,64.3 336.1,63.8 336.9,63.7 337.7,63.6 338.5,62.8 339.3,62.6 340.0,62.1 340.8,60.9 341.6,60.8 342.4,60.9 343.2,60.8 344.0,59.1 344.8,58.6 345.6,58.4 346.4,57.1 347.2,57.6 348.0,58.0 348.8,57.0 349.6,55.4 350.4,56.0 351.2,56.5 352.0,55.4 352.8,54.8 353.6,54.1 354.4,54.2 355.2,54.5 356.0,54.4 356.8,53.5 357.6,53.1 358.4,54.4 359.2,53.9 360.0,52.9 360.8,51.9 361.6,51.7 362.4,52.1 363.2,51.5 364.0,50.7 364.8,50.7 365.6,50.7 366.4,50.2 367.2,50.4 368.0,50.3 368.7,50.0 369.5,50.0 370.3,49.5 371.1,49.4 371.9,49.1 372.7,48.3 373.5,48.4 374.3,48.6 375.1,48.4 375.9,47.9 376.7,47.4 377.5,47.2 378.3,46.9 379.1,46.8 379.9,46.6 380.7,46.5 381.5,46.1 382.3,45.6 383.1,45.5 383.9,45.1 384.7,44.7 385.5,45.0 386.3,44.8 387.1,44.5 387.9,44.2 388.7,43.7 389.5,43.7 390.3,43.9 391.1,43.8 391.9,43.7 392.7,43.5 393.5,43.4 394.3,43.5 395.1,43.4 395.9,43.4 396.7,43.6 397.4,43.4 398.2,43.4 399.0,43.6 399.8,43.9 400.6,43.9 401.4,43.9 402.2,43.8 403.0,44.1 403.8,44.4 404.6,44.6 405.4,45.1 406.2,45.6 407.0,46.1 407.8,47.0 408.6,48.3 409.4,49.4 410.2,49.9 411.0,50.5 411.8,50.5 412.6,50.0 413.4,50.1 414.2,49.9 415.0,49.9 415.8,49.5 416.6,49.0 417.4,48.4 418.2,48.1 419.0,47.4 419.8,46.6 420.6,46.4 421.4,46.2 422.2,45.9 423.0,45.8 423.8,45.6 424.6,45.2 425.4,45.1 426.1,45.2 426.9,45.1 427.7,44.9 428.5,44.7 429.3,44.2 430.1,44.0 430.9,44.2 431.7,44.5 432.5,44.5 433.3,44.4 434.1,43.9 434.9,43.7 435.7,43.7 436.5,43.5 437.3,43.4 438.1,43.0 438.9,43.0 439.7,43.1 440.5,43.0 441.3,42.7 442.1,42.6 442.9,42.7" fill="none" stroke="#dd8452" stroke-width="1.30" stroke-linejoin="round"/>
<polygon points="268.3,140.3 269.1,140.0 269.9,139.5 270.7,139.5 271.5,139.2 272.3,139.2 273.1,139.1 273.9,138.4 274.7,138.6 275.5,138.8 276.3,139.6 277.1,139.4 277.9,138.7 278.7,137.9 279.5,137.9 280.3,137.9 281.1,137.5 281.9,137.5 282.6,137.9 283.4,138.0 284.2,137.4 285.0,137.1 285.8,136.3 286.6,136.8 287.4,136.7 288.2,135.7 289.0,135.3 289.8,135.0 290.6,134.9 291.4,134.9 292.2,135.3 293.0,135.7 293.8,134.0 294.6,132.7 295.4,132.8 296.2,132.2 297.0,131.9 297.8,131.9 298.6,132.0 299.4,132.2 300.2,130.9 301.0,130.1 301.8,131.0 302.6,131.3 303.4,130.8 304.2,129.7 305.0,129.0 305.8,129.2 306.6,128.8 307.4,128.2 308.2,128.3 309.0,127.1 309.8,126.5 310.6,125.8 311.3,126.3 312.1,126.9 312.9,125.3 313.7,125.7 314.5,127.1 315.3,127.0 316.1,126.3 316.9,125.7 317.7,124.9 318.5,124.2 319.3,123.7 320.1,123.6 320.9,124.0 321.7,124.2 322.5,123.6 323.3,123.1 324.1,122.8 324.9,122.9 325.7,122.5 326.5,123.2 327.3,123.3 328.1,122.0 328.9,121.4 329.7,120.7 330.5,121.3 331.3,121.1 332.1,119.6 332.9,119.7 333.7,120.4 334.5,120.8 335.3,120.4 336.1,120.3 336.9,119.7 337.7,118.9 338.5,119.0 339.3,117.4 340.0,117.7 340.8,119.3 341.6,119.5 342.4,119.7 343.2,118.3 344.0,117.2 344.8,116.7 345.6,116.1 346.4,115.7 347.2,116.0 348.0,117.9 348.8,117.0 349.6,116.0 350.4,115.6 351.2,115.2 352.0,115.1 352.8,114.5 353.6,114.6 354.4,114.4 355.2,114.4 356.0,113.6 356.8,112.8 357.6,113.9 358.4,114.6 359.2,112.6 360.0,112.6 360.8,114.3 361.6,114.7 362.4,115.1 363.2,113.3 364.0,111.8 364.8,111.4 365.6,108.5 366.4,105.9 367.2,107.2 368.0,107.3 368.7,105.7 369.5,105.1 370.3,103.0 371.1,102.8 371.9,101.3 372.7,99.1 373.5,99.5 374.3,99.5 375.1,98.5 375.9,98.7 376.7,100.4 377.5,99.8 378.3,99.7 379.1,101.7 379.9,103.8 380.7,103.9 381.5,104.7 382.3,105.5 383.1,103.7 383.9,104.8 384.7,104.9 385.5,103.3 386.3,103.1 387.1,103.9 387.9,102.6 388.7,103.1 389.5,106.0 390.3,105.4 391.1,104.2 391.9,101.2 392.7,97.5 393.5,96.4 394.3,97.8 395.1,96.6 395.9,94.5 396.7,93.1 397.4,93.9 398.2,93.3 399.0,89.6 399.8,89.4 400.6,89.7 401.4,89.2 402.2,89.2 403.0,89.3 403.8,88.2 404.6,86.2 405.4,86.3 406.2,84.9 407.0,83.6 407.8,82.9 408.6,82.5 409.4,84.0 410.2,83.9 411.0,84.5 411.8,86.2 412.6,85.9 413.4,84.5 414.2,85.0 415.0,86.3 415.8,86.6 416.6,85.3 417.4,84.9 418.2,85.5 419.0,82.1 419.8,78.7 420.6,78.9 421.4,80.9 422.2,80.8 423.0,77.4 423.8,75.7 424.6,73.6 425.4,74.3 426.1,74.5 426.9,72.8 427.7,72.3 428.5,72.4 429.3,73.1 430.1,72.3 430.9,73.2 431.7,73.7 432.5,73.2 433.3,73.3 434.1,72.1 434.9,70.1 435.7,70.2 436.5,71.8 437.3,72.4 438.1,72.0 438.9,69.8 439.7,68.0 440.5,68.8 441.3,68.1 442.1,69.0 442.9,69.3 442.9,94.0 442.1,93.5 441.3,94.0 440.5,95.2 439.7,96.2 438.9,95.6 438.1,94.2 437.3,94.7 436.5,95.3 435.7,95.4 434.9,95.0 434.1,94.6 433.3,94.7 432.5,94.8 431.7,94.4 430.9,92.3 430.1,94.2 429.3,95.3 428.5,95.6 427.7,97.7 426.9,95.9 426.1,95.7 425.4,98.6 424.6,97.2 423.8,96.3 423.0,99.7 422.2,100.8 421.4,100.8 420.6,101.7 419.8,102.0 419.0,103.9 418.2,105.2 417.4,107.0 416.6,108.5 415.8,105.6 415.0,106.6 414.2,107.0 413.4,104.2 412.6,104.9 411.8,106.2 411.0,105.4 410.2,104.8 409.4,104.0 408.6,103.7 407.8,103.4 407.0,104.1 406.2,105.7 405.4,107.8 404.6,107.5 403.8,106.3 403.0,106.7 402.2,107.1 401.4,106.6 400.6,107.1 399.8,111.3 399.0,111.3 398.2,111.0 397.4,113.0 396.7,112.7 395.9,113.4 395.1,116.4 394.3,117.4 393.5,118.3 392.7,122.0 391.9,122.5 391.1,122.3 390.3,122.4 389.5,123.4 388.7,123.1 387.9,121.6 387.1,122.6 386.3,124.5 385.5,125.4 384.7,124.7 383.9,123.0 383.1,124.1 382.3,125.2 381.5,122.5 380.7,122.1 379.9,124.2 379.1,124.5 378.3,120.8 377.5,120.2 376.7,122.8 375.9,121.4 375.1,120.7 374.3,121.3 373.5,121.5 372.7,122.2 371.9,122.7 371.1,123.9 370.3,123.3 369.5,122.9 368.7,124.3 368.0,124.5 367.2,124.7 366.4,126.7 365.6,129.2 364.8,130.3 364.0,129.4 363.2,127.4 362.4,128.2 361.6,128.6 360.8,125.8 360.0,127.6 359.2,130.5 358.4,128.1 357.6,125.8 356.8,125.7 356.0,125.6 355.2,127.3 354.4,127.6 353.6,126.3 352.8,127.7 352.0,128.1 351.2,127.0 350.4,126.3 349.6,124.9 348.8,125.7 348.0,127.6 347.2,126.7 346.4,128.2 345.6,129.5 344.8,129.7 344.0,129.1 343.2,128.5 342.4,128.9 341.6,129.4 340.8,129.9 340.0,129.8 339.3,128.4 338.5,129.8 337.7,131.0 336.9,129.4 336.1,129.7 335.3,129.3 334.5,129.0 333.7,129.8 332.9,129.2 332.1,129.4 331.3,131.4 330.5,131.0 329.7,129.3 328.9,129.9 328.1,130.3 327.3,130.4 326.5,130.6 325.7,130.1 324.9,129.6 324.1,129.9 323.3,131.1 322.5,132.1 321.7,132.9 320.9,132.6 320.1,131.9 319.3,132.0 318.5,131.8 317.7,132.5 316.9,133.3 316.1,133.2 315.3,133.7 314.5,133.9 313.7,134.0 312.9,133.3 312.1,134.4 311.3,134.8 310.6,133.5 309.8,134.4 309.0,134.8 308.2,134.8 307.4,135.7 306.6,135.7 305.8,136.0 305.0,137.1 304.2,136.6 303.4,136.7 302.6,137.3 301.8,137.3 301.0,137.3 300.2,136.9 299.4,137.0 298.6,138.6 297.8,138.1 297.0,137.6 296.2,138.6 295.4,139.1 294.6,140.7 293.8,140.2 293.0,140.1 292.2,141.3 291.4,141.1 290.6,141.0 289.8,141.2 289.0,141.0 288.2,141.1 287.4,141.5 286.6,141.4 285.8,141.4 285.0,141.9 284.2,141.5 283.4,141.5 282.6,141.5 281.9,141.3 281.1,141.2 280.3,141.1 279.5,141.3 278.7,141.7 277.9,142.1 277.1,142.1 276.3,141.7 275.5,141.8 274.7,141.5 273.9,141.9 273.1,142.5 272.3,142.0 271.5,141.5 270.7,141.2 269.9,141.0 269.1,140.7 268.3,140.9" fill="#55a868" fill-opacity="0.36"/>
<polyline points="268.3,140.7 269.1,140.6 269.9,140.5 270.7,140.5 271.5,140.5 272.3,140.6 273.1,140.8 273.9,140.5 274.7,140.1 275.5,140.2 276.3,140.2 277.1,140.2 277.9,140.2 278.7,140.0 279.5,139.8 280.3,139.8 281.1,139.8 281.9,139.6 282.6,139.5 283.4,139.4 284.2,139.6 285.0,139.5 285.8,138.9 286.6,138.9 287.4,139.1 288.2,138.7 289.0,138.4 289.8,138.2 290.6,138.3 291.4,138.0 292.2,137.6 293.0,137.5 293.8,136.9 294.6,136.5 295.4,136.1 296.2,135.1 297.0,134.8 297.8,135.0 298.6,135.0 299.4,135.0 300.2,134.7 301.0,134.4 301.8,134.1 302.6,133.8 303.4,133.3 304.2,133.1 305.0,133.1 305.8,132.9 306.6,132.2 307.4,131.6 308.2,131.2 309.0,130.7 309.8,130.8 310.6,130.7 311.3,130.7 312.1,130.1 312.9,129.3 313.7,129.6 314.5,130.0 315.3,129.6 316.1,129.6 316.9,129.7 317.7,128.9 318.5,128.5 319.3,128.6 320.1,128.2 320.9,128.1 321.7,128.1 322.5,127.8 323.3,127.9 324.1,127.4 324.9,127.3 325.7,126.7 326.5,126.4 327.3,126.2 328.1,126.2 328.9,126.4 329.7,126.3 330.5,126.6 331.3,126.1 332.1,125.3 332.9,125.6 333.7,125.3 334.5,124.9 335.3,125.1 336.1,124.5 336.9,124.2 337.7,124.7 338.5,124.2 339.3,123.3 340.0,123.7 340.8,124.0 341.6,124.3 342.4,124.2 343.2,123.3 344.0,122.8 344.8,123.1 345.6,123.0 346.4,122.0 347.2,121.7 348.0,122.3 348.8,121.6 349.6,121.1 350.4,121.4 351.2,121.7 352.0,122.2 352.8,122.3 353.6,121.8 354.4,121.4 355.2,120.9 356.0,120.5 356.8,120.5 357.6,120.5 358.4,120.9 359.2,121.8 360.0,121.5 360.8,120.8 361.6,120.7 362.4,120.2 363.2,120.2 364.0,120.2 364.8,119.2 365.6,118.1 366.4,117.6 367.2,116.8 368.0,115.8 368.7,115.8 369.5,114.9 370.3,112.9 371.1,112.5 371.9,112.2 372.7,110.7 373.5,110.2 374.3,110.8 375.1,110.4 375.9,109.9 376.7,111.1 377.5,111.6 378.3,111.7 379.1,112.1 379.9,112.9 380.7,112.9 381.5,113.4 382.3,114.6 383.1,114.0 383.9,113.2 384.7,113.1 385.5,113.8 386.3,113.8 387.1,113.2 387.9,112.9 388.7,113.6 389.5,114.3 390.3,113.3 391.1,113.2 391.9,112.1 392.7,109.3 393.5,107.6 394.3,106.9 395.1,104.9 395.9,103.1 396.7,102.2 397.4,102.1 398.2,101.8 399.0,100.3 399.8,99.9 400.6,100.0 401.4,98.7 402.2,97.1 403.0,97.4 403.8,98.6 404.6,98.1 405.4,96.8 406.2,95.6 407.0,94.4 407.8,94.0 408.6,94.3 409.4,94.1 410.2,94.3 411.0,94.7 411.8,94.8 412.6,94.0 413.4,93.7 414.2,95.5 415.0,96.6 415.8,96.5 416.6,96.7 417.4,96.3 418.2,95.0 419.0,93.1 419.8,91.7 420.6,91.2 421.4,90.4 422.2,89.6 423.0,88.3 423.8,87.2 424.6,86.0 425.4,85.6 426.1,85.0 426.9,84.1 427.7,84.2 428.5,84.9 429.3,85.4 430.1,84.2 430.9,83.0 431.7,83.2 432.5,83.5 433.3,83.8 434.1,84.3 434.9,84.4 435.7,83.8 436.5,83.3 437.3,83.7 438.1,83.7 438.9,83.0 439.7,82.2 440.5,82.2 441.3,80.9 442.1,79.8 442.9,79.8" fill="none" stroke="#55a868" stroke-width="1.30" stroke-linejoin="round"/>
<polygon points="268.3,140.6 269.1,140.8 269.9,140.4 270.7,140.5 271.5,140.0 272.3,139.9 273.1,140.3 273.9,140.0 274.7,140.5 275.5,141.1 276.3,140.5 277.1,140.1 277.9,139.8 278.7,139.7 279.5,140.0 280.3,140.3 281.1,140.8 281.9,140.5 282.6,140.1 283.4,139.9 284.2,139.6 285.0,140.1 285.8,139.7 286.6,139.1 287.4,139.3 288.2,139.6 289.0,139.9 289.8,139.8 290.6,139.8 291.4,140.0 292.2,139.8 293.0,139.5 293.8,139.4 294.6,139.5 295.4,139.4 296.2,139.1 297.0,139.7 297.8,140.1 298.6,139.3 299.4,138.7 300.2,138.9 301.0,139.1 301.8,139.1 302.6,139.0 303.4,138.7 304.2,139.0 305.0,139.2 305.8,138.7 306.6,138.7 307.4,139.2 308.2,138.8 309.0,138.2 309.8,138.4 310.6,138.3 311.3,137.9 312.1,137.7 312.9,138.2 313.7,138.4 314.5,138.3 315.3,137.8 316.1,137.2 316.9,137.2 317.7,137.3 318.5,138.1 319.3,137.7 320.1,137.2 320.9,137.3 321.7,137.2 322.5,137.0 323.3,136.8 324.1,137.0 324.9,136.4 325.7,136.2 326.5,136.5 327.3,135.8 328.1,135.1 328.9,135.3 329.7,135.9 330.5,135.6 331.3,134.8 332.1,134.7 332.9,134.9 333.7,134.8 334.5,134.6 335.3,134.0 336.1,133.2 336.9,132.8 337.7,133.1 338.5,133.2 339.3,132.7 340.0,132.6 340.8,132.7 341.6,131.7 342.4,131.3 343.2,131.8 344.0,131.8 344.8,131.8 345.6,131.8 346.4,131.7 347.2,131.0 348.0,130.1 348.8,129.4 349.6,129.6 350.4,129.9 351.2,130.0 352.0,130.1 352.8,129.4 353.6,129.0 354.4,128.5 355.2,128.2 356.0,128.8 356.8,128.5 357.6,127.9 358.4,127.4 359.2,125.3 360.0,124.2 360.8,124.1 361.6,123.0 362.4,122.1 363.2,121.7 364.0,121.0 364.8,120.3 365.6,119.9 366.4,118.9 367.2,118.3 368.0,118.4 368.7,117.4 369.5,115.2 370.3,114.8 371.1,114.7 371.9,112.8 372.7,110.6 373.5,110.2 374.3,110.3 375.1,109.6 375.9,108.9 376.7,108.1 377.5,108.5 378.3,107.8 379.1,105.2 379.9,104.4 380.7,105.4 381.5,104.8 382.3,102.4 383.1,101.3 383.9,100.4 384.7,101.4 385.5,102.8 386.3,100.9 387.1,99.8 387.9,98.4 388.7,98.3 389.5,97.3 390.3,96.5 391.1,97.4 391.9,95.3 392.7,93.8 393.5,93.3 394.3,94.5 395.1,93.9 395.9,92.3 396.7,89.1 397.4,87.4 398.2,89.1 399.0,88.9 399.8,88.4 400.6,87.4 401.4,85.2 402.2,83.1 403.0,82.1 403.8,82.2 404.6,82.8 405.4,79.5 406.2,78.3 407.0,80.2 407.8,78.5 408.6,77.4 409.4,76.1 410.2,71.8 411.0,70.7 411.8,70.3 412.6,68.8 413.4,66.7 414.2,64.0 415.0,64.2 415.8,65.1 416.6,64.8 417.4,64.0 418.2,61.4 419.0,61.8 419.8,60.4 420.6,58.6 421.4,59.0 422.2,58.4 423.0,55.7 423.8,53.3 424.6,54.0 425.4,53.7 426.1,52.1 426.9,53.1 427.7,53.4 428.5,49.1 429.3,49.0 430.1,49.8 430.9,47.8 431.7,48.3 432.5,49.0 433.3,48.0 434.1,47.4 434.9,46.7 435.7,47.3 436.5,46.7 437.3,45.3 438.1,44.7 438.9,44.3 439.7,45.0 440.5,45.9 441.3,45.3 442.1,43.9 442.9,43.7 442.9,49.9 442.1,51.2 441.3,51.0 440.5,52.7 439.7,54.0 438.9,53.5 438.1,54.1 437.3,53.9 436.5,55.2 435.7,57.7 434.9,57.1 434.1,58.1 433.3,58.8 432.5,59.2 431.7,59.7 430.9,59.8 430.1,60.9 429.3,62.0 428.5,63.5 427.7,64.0 426.9,63.9 426.1,64.0 425.4,65.7 424.6,65.0 423.8,65.2 423.0,66.8 422.2,67.7 421.4,70.7 420.6,73.3 419.8,73.9 419.0,74.1 418.2,74.3 417.4,75.1 416.6,76.8 415.8,77.2 415.0,78.8 414.2,80.3 413.4,81.4 412.6,84.6 411.8,84.2 411.0,83.7 410.2,86.6 409.4,89.8 408.6,91.0 407.8,90.3 407.0,90.2 406.2,91.4 405.4,94.8 404.6,95.7 403.8,93.8 403.0,96.1 402.2,99.1 401.4,99.7 400.6,99.6 399.8,100.1 399.0,100.9 398.2,99.3 397.4,100.1 396.7,103.0 395.9,106.4 395.1,107.7 394.3,106.8 393.5,107.3 392.7,108.0 391.9,108.6 391.1,108.2 390.3,107.2 389.5,106.7 388.7,108.5 387.9,110.4 387.1,111.7 386.3,113.1 385.5,112.8 384.7,112.3 383.9,111.5 383.1,113.5 382.3,114.5 381.5,113.2 380.7,114.9 379.9,116.0 379.1,114.5 378.3,116.2 377.5,117.6 376.7,117.0 375.9,118.4 375.1,118.5 374.3,118.9 373.5,119.7 372.7,121.0 371.9,122.0 371.1,122.3 370.3,122.6 369.5,122.5 368.7,125.0 368.0,125.3 367.2,124.2 366.4,125.1 365.6,125.7 364.8,126.5 364.0,127.4 363.2,128.1 362.4,129.1 361.6,129.5 360.8,129.7 360.0,130.0 359.2,131.1 358.4,132.2 357.6,132.5 356.8,133.1 356.0,132.9 355.2,133.5 354.4,134.6 353.6,134.1 352.8,134.0 352.0,134.0 351.2,134.4 350.4,135.3 349.6,135.2 348.8,135.2 348.0,135.7 347.2,136.7 346.4,136.5 345.6,136.8 344.8,136.7 344.0,136.4 343.2,136.9 342.4,136.9 341.6,136.9 340.8,136.8 340.0,137.3 339.3,137.5 338.5,137.4 337.7,137.6 336.9,137.9 336.1,138.0 335.3,137.9 334.5,138.0 333.7,138.4 332.9,138.7 332.1,138.4 331.3,138.4 330.5,138.7 329.7,139.0 328.9,139.3 328.1,139.4 327.3,138.9 326.5,139.2 325.7,139.8 324.9,139.5 324.1,140.0 323.3,140.1 322.5,140.1 321.7,140.7 320.9,140.8 320.1,140.3 319.3,140.2 318.5,141.1 317.7,140.8 316.9,140.5 316.1,140.9 315.3,141.0 314.5,141.0 313.7,140.9 312.9,140.9 312.1,140.6 311.3,140.7 310.6,141.1 309.8,140.9 309.0,140.6 308.2,140.7 307.4,141.0 306.6,140.7 305.8,140.9 305.0,141.7 304.2,141.4 303.4,141.1 302.6,140.9 301.8,140.7 301.0,140.8 300.2,141.0 299.4,141.4 298.6,141.7 297.8,141.6 297.0,141.3 296.2,141.7 295.4,141.6 294.6,141.3 293.8,141.2 293.0,141.5 292.2,141.7 291.4,141.5 290.6,141.3 289.8,141.3 289.0,141.7 288.2,141.9 287.4,141.5 286.6,141.1 285.8,141.1 285.0,141.5 284.2,141.4 283.4,141.2 282.6,141.6 281.9,141.8 281.1,141.4 280.3,141.0 279.5,141.1 278.7,141.4 277.9,141.6 277.1,141.9 276.3,141.6 275.5,140.9 274.7,141.1 273.9,141.7 273.1,141.4 272.3,141.1 271.5,141.7 270.7,141.7 269.9,141.2 269.1,141.3 268.3,141.4" fill="#4c72b0" fill-opacity="0.30"/>
<polyline points="268.3,140.9 269.1,140.9 269.9,140.7 270.7,140.9 271.5,140.9 272.3,140.6 273.1,140.7 273.9,141.0 274.7,140.9 275.5,140.8 276.3,140.8 277.1,140.7 277.9,140.4 278.7,140.7 279.5,140.9 280.3,140.6 281.1,140.6 281.9,140.6 282.6,140.7 283.4,140.5 284.2,140.5 285.0,140.6 285.8,140.5 286.6,140.5 287.4,140.5 288.2,140.4 289.0,140.3 289.8,140.4 290.6,140.4 291.4,140.5 292.2,140.6 293.0,140.6 293.8,140.4 294.6,140.4 295.4,140.5 296.2,140.4 297.0,140.2 297.8,140.4 298.6,140.2 299.4,140.0 300.2,140.2 301.0,140.0 301.8,140.0 302.6,140.1 303.4,139.9 304.2,139.9 305.0,140.1 305.8,139.9 306.6,139.9 307.4,140.0 308.2,139.8 309.0,139.5 309.8,139.6 310.6,139.8 311.3,139.6 312.1,139.5 312.9,139.7 313.7,139.6 314.5,139.4 315.3,139.3 316.1,139.2 316.9,139.0 317.7,139.1 318.5,139.1 319.3,139.2 320.1,139.1 320.9,138.9 321.7,138.9 322.5,138.8 323.3,138.7 324.1,138.4 324.9,137.9 325.7,138.0 326.5,138.0 327.3,137.8 328.1,137.5 328.9,137.3 329.7,137.2 330.5,137.1 331.3,136.9 332.1,136.7 332.9,136.5 333.7,136.2 334.5,136.1 335.3,135.8 336.1,135.5 336.9,135.4 337.7,135.2 338.5,135.1 339.3,135.0 340.0,134.8 340.8,134.7 341.6,134.4 342.4,134.2 343.2,134.3 344.0,134.2 344.8,134.0 345.6,133.6 346.4,133.5 347.2,133.7 348.0,133.4 348.8,132.8 349.6,132.6 350.4,132.6 351.2,132.3 352.0,132.4 352.8,132.1 353.6,131.5 354.4,131.2 355.2,130.9 356.0,130.5 356.8,130.3 357.6,129.7 358.4,129.1 359.2,128.1 360.0,127.4 360.8,127.0 361.6,126.5 362.4,126.0 363.2,125.0 364.0,124.4 364.8,124.2 365.6,123.3 366.4,122.4 367.2,121.3 368.0,120.9 368.7,120.6 369.5,119.1 370.3,118.7 371.1,118.3 371.9,117.2 372.7,115.9 373.5,115.5 374.3,115.7 375.1,114.5 375.9,113.0 376.7,112.7 377.5,113.2 378.3,112.1 379.1,110.9 379.9,110.4 380.7,109.8 381.5,109.7 382.3,109.3 383.1,108.1 383.9,106.9 384.7,107.6 385.5,107.9 386.3,105.8 387.1,105.0 387.9,105.6 388.7,104.8 389.5,103.7 390.3,103.0 391.1,102.5 391.9,101.9 392.7,101.2 393.5,100.2 394.3,99.6 395.1,99.2 395.9,98.1 396.7,96.7 397.4,95.7 398.2,95.5 399.0,94.6 399.8,93.6 400.6,92.5 401.4,91.6 402.2,90.4 403.0,89.0 403.8,88.8 404.6,88.5 405.4,87.0 406.2,85.4 407.0,84.6 407.8,84.2 408.6,83.7 409.4,81.6 410.2,79.2 411.0,77.7 411.8,77.3 412.6,76.0 413.4,74.4 414.2,73.5 415.0,72.0 415.8,71.4 416.6,70.9 417.4,70.4 418.2,69.5 419.0,68.4 419.8,66.8 420.6,65.1 421.4,63.9 422.2,62.8 423.0,62.6 423.8,61.7 424.6,60.7 425.4,59.8 426.1,58.7 426.9,58.5 427.7,57.9 428.5,56.7 429.3,56.2 430.1,55.2 430.9,53.8 431.7,53.7 432.5,53.7 433.3,53.7 434.1,53.0 434.9,51.9 435.7,51.9 436.5,51.1 437.3,49.8 438.1,49.6 438.9,49.4 439.7,48.9 440.5,48.2 441.3,47.9 442.1,47.7 442.9,46.7" fill="none" stroke="#4c72b0" stroke-width="1.30" stroke-linejoin="round"/>
</g>
<rect x="259.30" y="36.40" width="192.00" height="109.10" fill="none" stroke="#dcdcdc" stroke-width="1.00"/>
<text x="268.30" y="157.10" font-size="8.10" text-anchor="middle" textLength="4.5" lengthAdjust="spacingAndGlyphs" fill="#262626" stroke="#262626" stroke-width="0.15">0</text>
<text x="295.16" y="157.10" font-size="8.10" text-anchor="middle" textLength="13.5" lengthAdjust="spacingAndGlyphs" fill="#262626" stroke="#262626" stroke-width="0.15">200</text>
<text x="322.02" y="157.10" font-size="8.10" text-anchor="middle" textLength="13.5" lengthAdjust="spacingAndGlyphs" fill="#262626" stroke="#262626" stroke-width="0.15">400</text>
<text x="348.88" y="157.10" font-size="8.10" text-anchor="middle" textLength="13.5" lengthAdjust="spacingAndGlyphs" fill="#262626" stroke="#262626" stroke-width="0.15">600</text>
<text x="375.74" y="157.10" font-size="8.10" text-anchor="middle" textLength="13.5" lengthAdjust="spacingAndGlyphs" fill="#262626" stroke="#262626" stroke-width="0.15">800</text>
<text x="402.60" y="157.10" font-size="8.10" text-anchor="middle" textLength="18.0" lengthAdjust="spacingAndGlyphs" fill="#262626" stroke="#262626" stroke-width="0.15">1000</text>
<text x="429.46" y="157.10" font-size="8.10" text-anchor="middle" textLength="18.0" lengthAdjust="spacingAndGlyphs" fill="#262626" stroke="#262626" stroke-width="0.15">1200</text>
<text x="253.60" y="144.00" font-size="8.10" text-anchor="end" textLength="11.3" lengthAdjust="spacingAndGlyphs" fill="#262626" stroke="#262626" stroke-width="0.15">0.0</text>
<text x="253.60" y="124.04" font-size="8.10" text-anchor="end" textLength="11.3" lengthAdjust="spacingAndGlyphs" fill="#262626" stroke="#262626" stroke-width="0.15">0.2</text>
<text x="253.60" y="104.08" font-size="8.10" text-anchor="end" textLength="11.3" lengthAdjust="spacingAndGlyphs" fill="#262626" stroke="#262626" stroke-width="0.15">0.4</text>
<text x="253.60" y="84.12" font-size="8.10" text-anchor="end" textLength="11.3" lengthAdjust="spacingAndGlyphs" fill="#262626" stroke="#262626" stroke-width="0.15">0.6</text>
<text x="253.60" y="64.16" font-size="8.10" text-anchor="end" textLength="11.3" lengthAdjust="spacingAndGlyphs" fill="#262626" stroke="#262626" stroke-width="0.15">0.8</text>
<text x="253.60" y="44.20" font-size="8.10" text-anchor="end" textLength="11.3" lengthAdjust="spacingAndGlyphs" fill="#262626" stroke="#262626" stroke-width="0.15">1.0</text>
<text x="355.40" y="33.60" font-size="8.10" text-anchor="middle" textLength="41.6" lengthAdjust="spacingAndGlyphs" fill="#262626" stroke="#262626" stroke-width="0.15">Frozen Lake</text>
<text x="355.40" y="165.90" font-size="8.10" text-anchor="middle" textLength="31.0" lengthAdjust="spacingAndGlyphs" fill="#262626" stroke="#262626" stroke-width="0.15">Episodes</text>
<text x="0" y="0" font-size="8.10" text-anchor="middle" textLength="67.8" lengthAdjust="spacingAndGlyphs" fill="#262626" stroke="#262626" stroke-width="0.15" transform="translate(238.92,91.10) rotate(-90)">Normalized Reward</text>
<clipPath id="clip3"><rect x="495.50" y="37.50" width="187.90" height="107.00"/></clipPath>
<line x1="503.50" y1="37.50" x2="503.50" y2="144.50" stroke="#e4e5e7" stroke-width="1.00"/>
<line x1="532.02" y1="37.50" x2="532.02" y2="144.50" stroke="#e4e5e7" stroke-width="1.00"/>
<line x1="560.54" y1="37.50" x2="560.54" y2="144.50" stroke="#e4e5e7" stroke-width="1.00"/>
<line x1="589.06" y1="37.50" x2="589.06" y2="144.50" stroke="#e4e5e7" stroke-width="1.00"/>
<line x1="617.58" y1="37.50" x2="617.58" y2="144.50" stroke="#e4e5e7" stroke-width="1.00"/>
<line x1="646.10" y1="37.50" x2="646.10" y2="144.50" stroke="#e4e5e7" stroke-width="1.00"/>
<line x1="674.62" y1="37.50" x2="674.62" y2="144.50" stroke="#e4e5e7" stroke-width="1.00"/>
<line x1="495.50" y1="126.94" x2="683.40" y2="126.94" stroke="#e4e5e7" stroke-width="1.00"/>
<line x1="495.50" y1="104.18" x2="683.40" y2="104.18" stroke="#e4e5e7" stroke-width="1.00"/>
<line x1="495.50" y1="81.42" x2="683.40" y2="81.42" stroke="#e4e5e7" stroke-width="1.00"/>
<line x1="495.50" y1="58.66" x2="683.40" y2="58.66" stroke="#e4e5e7" stroke-width="1.00"/>
<g clip-path="url(#clip3)">
<polygon points="503.5,75.7 504.3,75.7 505.1,75.9 505.8,77.9 506.6,78.7 507.4,77.4 508.2,77.3 509.0,77.2 509.8,78.5 510.5,79.3 511.3,79.2 512.1,79.7 512.9,79.3 513.7,79.3 514.4,80.2 515.2,80.8 516.0,81.5 516.8,82.9 517.6,82.0 518.3,81.3 519.1,83.1 519.9,83.8 520.7,83.0 521.5,81.6 522.3,81.1 523.0,81.8 523.8,84.0 524.6,84.8 525.4,83.4 526.2,83.3 526.9,83.5 527.7,84.1 528.5,83.3 529.3,82.3 530.1,83.7 530.8,85.5 531.6,84.1 532.4,83.9 533.2,84.6 534.0,83.1 534.8,84.6 535.5,85.8 536.3,85.5 537.1,85.4 537.9,85.1 538.7,84.2 539.4,84.1 540.2,85.5 541.0,85.2 541.8,85.5 542.6,86.6 543.3,85.0 544.1,85.3 544.9,87.3 545.7,86.8 546.5,87.2 547.3,88.7 548.0,87.4 548.8,86.5 549.6,87.7 550.4,87.4 551.2,87.8 551.9,88.3 552.7,87.6 553.5,85.3 554.3,84.9 555.1,86.1 555.9,87.6 556.6,88.2 557.4,88.0 558.2,87.4 559.0,86.8 559.8,87.3 560.5,87.2 561.3,87.6 562.1,88.6 562.9,87.8 563.7,87.7 564.4,88.9 565.2,88.2 566.0,87.8 566.8,87.4 567.6,86.2 568.4,86.2 569.1,86.8 569.9,86.9 570.7,86.4 571.5,87.7 572.3,88.0 573.0,87.3 573.8,88.4 574.6,87.7 575.4,87.1 576.2,86.7 576.9,85.6 577.7,87.6 578.5,88.3 579.3,85.4 580.1,84.7 580.9,85.0 581.6,85.5 582.4,87.4 583.2,88.2 584.0,86.7 584.8,85.2 585.5,86.1 586.3,86.9 587.1,86.2 587.9,87.1 588.7,87.5 589.5,85.2 590.2,83.4 591.0,84.5 591.8,84.6 592.6,84.8 593.4,86.4 594.1,87.4 594.9,86.1 595.7,84.7 596.5,83.6 597.3,82.9 598.0,84.1 598.8,85.4 599.6,84.3 600.4,83.1 601.2,84.0 602.0,85.0 602.7,84.0 603.5,81.6 604.3,82.4 605.1,82.7 605.9,81.8 606.6,80.9 607.4,80.8 608.2,80.0 609.0,80.0 609.8,81.3 610.5,81.2 611.3,82.2 612.1,82.2 612.9,79.5 613.7,78.5 614.5,79.5 615.2,79.2 616.0,79.7 616.8,79.9 617.6,77.9 618.4,77.0 619.1,77.6 619.9,77.2 620.7,75.2 621.5,75.8 622.3,76.3 623.0,76.8 623.8,78.4 624.6,76.6 625.4,75.0 626.2,75.0 627.0,75.1 627.7,75.2 628.5,73.9 629.3,72.3 630.1,72.7 630.9,74.7 631.6,73.4 632.4,71.6 633.2,71.7 634.0,71.6 634.8,70.2 635.6,70.0 636.3,71.0 637.1,72.0 637.9,72.4 638.7,71.3 639.5,70.7 640.2,69.7 641.0,69.9 641.8,68.7 642.6,68.6 643.4,69.8 644.1,68.6 644.9,68.9 645.7,68.4 646.5,66.9 647.3,67.2 648.1,66.1 648.8,65.6 649.6,66.4 650.4,66.9 651.2,67.9 652.0,67.4 652.7,66.3 653.5,65.9 654.3,64.9 655.1,65.9 655.9,67.0 656.6,66.3 657.4,64.4 658.2,63.3 659.0,64.3 659.8,64.4 660.6,63.2 661.3,62.5 662.1,62.7 662.9,63.6 663.7,62.7 664.5,60.8 665.2,61.0 666.0,60.1 666.8,60.4 667.6,61.1 668.4,60.3 669.2,59.6 669.9,60.0 670.7,60.0 671.5,60.0 672.3,59.3 673.1,58.1 673.8,58.3 674.6,57.5 674.6,77.8 673.8,78.3 673.1,78.7 672.3,77.9 671.5,79.5 670.7,81.1 669.9,82.1 669.2,83.0 668.4,83.8 667.6,83.9 666.8,83.1 666.0,84.3 665.2,84.9 664.5,84.7 663.7,86.3 662.9,88.3 662.1,87.8 661.3,88.4 660.6,89.4 659.8,88.9 659.0,89.3 658.2,90.0 657.4,90.9 656.6,92.3 655.9,93.7 655.1,95.2 654.3,95.6 653.5,96.3 652.7,96.1 652.0,95.9 651.2,97.2 650.4,95.6 649.6,95.9 648.8,97.7 648.1,97.2 647.3,98.5 646.5,98.9 645.7,98.5 644.9,98.9 644.1,99.0 643.4,98.7 642.6,98.6 641.8,99.7 641.0,100.2 640.2,100.5 639.5,101.6 638.7,101.9 637.9,101.9 637.1,101.2 636.3,100.5 635.6,102.6 634.8,102.7 634.0,102.6 633.2,104.8 632.4,105.4 631.6,105.2 630.9,104.3 630.1,104.4 629.3,104.5 628.5,103.9 627.7,105.0 627.0,106.6 626.2,107.0 625.4,107.2 624.6,106.5 623.8,104.7 623.0,104.9 622.3,106.2 621.5,106.7 620.7,107.1 619.9,107.2 619.1,107.0 618.4,107.0 617.6,107.9 616.8,108.4 616.0,107.5 615.2,107.0 614.5,106.5 613.7,107.9 612.9,109.6 612.1,109.3 611.3,109.4 610.5,110.5 609.8,109.9 609.0,110.0 608.2,111.1 607.4,112.1 606.6,112.6 605.9,111.5 605.1,110.8 604.3,111.3 603.5,112.7 602.7,113.0 602.0,113.1 601.2,113.7 600.4,113.2 599.6,113.0 598.8,113.6 598.0,113.6 597.3,114.1 596.5,114.7 595.7,114.4 594.9,115.0 594.1,115.8 593.4,116.8 592.6,116.5 591.8,116.2 591.0,116.0 590.2,115.6 589.5,115.4 588.7,115.9 587.9,117.0 587.1,116.6 586.3,116.6 585.5,116.0 584.8,115.7 584.0,116.0 583.2,116.8 582.4,117.1 581.6,116.3 580.9,116.2 580.1,115.3 579.3,115.0 578.5,115.5 577.7,116.5 576.9,115.9 576.2,114.1 575.4,114.7 574.6,115.7 573.8,115.3 573.0,115.0 572.3,116.0 571.5,116.9 570.7,116.6 569.9,115.1 569.1,114.6 568.4,115.9 567.6,114.7 566.8,114.2 566.0,116.0 565.2,116.2 564.4,115.9 563.7,116.8 562.9,116.9 562.1,115.5 561.3,115.2 560.5,115.7 559.8,116.1 559.0,117.0 558.2,117.3 557.4,116.0 556.6,115.9 555.9,117.5 555.1,117.7 554.3,117.9 553.5,116.7 552.7,116.2 551.9,116.5 551.2,115.5 550.4,117.3 549.6,117.5 548.8,115.8 548.0,117.6 547.3,119.7 546.5,118.9 545.7,119.9 544.9,120.3 544.1,118.5 543.3,117.2 542.6,117.5 541.8,118.8 541.0,118.7 540.2,118.7 539.4,117.7 538.7,117.8 537.9,120.3 537.1,120.1 536.3,118.4 535.5,118.8 534.8,118.6 534.0,118.3 533.2,118.9 532.4,118.6 531.6,117.9 530.8,118.9 530.1,121.0 529.3,121.5 528.5,121.5 527.7,119.7 526.9,118.2 526.2,118.2 525.4,119.3 524.6,120.2 523.8,118.8 523.0,118.2 522.3,118.6 521.5,118.3 520.7,118.4 519.9,119.9 519.1,119.3 518.3,118.9 517.6,118.8 516.8,119.5 516.0,120.2 515.2,119.7 514.4,118.3 513.7,117.6 512.9,118.5 512.1,118.9 511.3,118.3 510.5,118.6 509.8,117.5 509.0,116.6 508.2,117.7 507.4,116.6 506.6,116.7 505.8,118.8 505.1,119.2 504.3,117.2 503.5,116.9" fill="#55a868" fill-opacity="0.36"/>
<polyline points="503.5,93.8 504.3,95.4 505.1,94.6 505.8,95.1 506.6,95.8 507.4,94.9 508.2,93.4 509.0,93.0 509.8,93.1 510.5,93.1 511.3,92.4 512.1,91.9 512.9,93.2 513.7,95.1 514.4,96.2 515.2,95.8 516.0,96.5 516.8,96.8 517.6,96.7 518.3,97.2 519.1,97.2 519.9,97.3 520.7,98.2 521.5,98.8 522.3,97.3 523.0,97.8 523.8,99.4 524.6,98.3 525.4,98.2 526.2,99.3 526.9,100.0 527.7,99.4 528.5,98.3 529.3,98.0 530.1,98.6 530.8,98.9 531.6,99.5 532.4,100.1 533.2,100.1 534.0,100.3 534.8,99.8 535.5,99.6 536.3,100.7 537.1,100.9 537.9,100.9 538.7,102.3 539.4,102.4 540.2,102.8 541.0,103.0 541.8,102.3 542.6,102.6 543.3,102.6 544.1,102.8 544.9,103.1 545.7,103.8 546.5,103.8 547.3,103.4 548.0,103.7 548.8,103.2 549.6,102.8 550.4,103.6 551.2,104.4 551.9,103.6 552.7,102.5 553.5,102.0 554.3,101.7 555.1,101.2 555.9,101.3 556.6,101.9 557.4,102.6 558.2,103.0 559.0,102.7 559.8,102.0 560.5,101.7 561.3,101.8 562.1,102.0 562.9,101.7 563.7,101.6 564.4,101.9 565.2,101.9 566.0,102.4 566.8,103.2 567.6,102.7 568.4,102.1 569.1,102.5 569.9,103.1 570.7,101.9 571.5,102.1 572.3,103.4 573.0,103.0 573.8,103.5 574.6,103.6 575.4,102.1 576.2,101.6 576.9,102.2 577.7,102.3 578.5,102.4 579.3,102.1 580.1,102.2 580.9,102.7 581.6,102.5 582.4,101.6 583.2,101.4 584.0,101.3 584.8,102.3 585.5,101.9 586.3,99.5 587.1,99.3 587.9,100.5 588.7,101.4 589.5,101.0 590.2,100.9 591.0,100.5 591.8,100.1 592.6,99.8 593.4,98.7 594.1,100.1 594.9,100.4 595.7,99.6 596.5,100.3 597.3,100.0 598.0,99.3 598.8,98.2 599.6,98.7 600.4,98.5 601.2,96.5 602.0,96.6 602.7,97.1 603.5,97.2 604.3,97.9 605.1,97.4 605.9,96.4 606.6,96.1 607.4,94.8 608.2,94.6 609.0,95.5 609.8,94.9 610.5,95.6 611.3,96.8 612.1,96.1 612.9,95.6 613.7,94.9 614.5,94.5 615.2,93.8 616.0,92.7 616.8,93.0 617.6,93.7 618.4,93.6 619.1,92.9 619.9,93.5 620.7,93.6 621.5,92.5 622.3,92.4 623.0,91.8 623.8,91.2 624.6,92.2 625.4,92.6 626.2,92.4 627.0,92.0 627.7,91.9 628.5,91.5 629.3,90.6 630.1,90.4 630.9,90.4 631.6,91.4 632.4,90.2 633.2,89.2 634.0,89.1 634.8,88.4 635.6,88.3 636.3,87.2 637.1,86.9 637.9,86.7 638.7,87.2 639.5,86.9 640.2,85.8 641.0,85.8 641.8,85.2 642.6,84.5 643.4,83.2 644.1,83.8 644.9,84.1 645.7,83.1 646.5,82.1 647.3,81.5 648.1,81.4 648.8,81.0 649.6,80.5 650.4,79.3 651.2,79.4 652.0,79.5 652.7,79.5 653.5,79.0 654.3,77.4 655.1,77.4 655.9,76.8 656.6,77.1 657.4,78.2 658.2,77.4 659.0,76.3 659.8,75.2 660.6,74.5 661.3,74.1 662.1,73.3 662.9,73.0 663.7,73.6 664.5,73.6 665.2,71.4 666.0,71.5 666.8,72.3 667.6,69.9 668.4,69.1 669.2,69.9 669.9,69.7 670.7,68.4 671.5,67.3 672.3,67.8 673.1,67.6 673.8,66.5 674.6,65.9" fill="none" stroke="#55a868" stroke-width="1.30" stroke-linejoin="round"/>
<polygon points="503.5,112.5 504.3,111.6 505.1,110.1 505.8,110.3 506.6,109.1 507.4,106.7 508.2,106.0 509.0,106.1 509.8,106.2 510.5,105.1 511.3,103.7 512.1,102.5 512.9,101.9 513.7,100.0 514.4,98.6 515.2,99.7 516.0,100.5 516.8,98.3 517.6,97.6 518.3,97.4 519.1,95.7 519.9,96.5 520.7,97.3 521.5,96.5 522.3,96.5 523.0,96.8 523.8,96.1 524.6,94.4 525.4,94.1 526.2,94.5 526.9,94.2 527.7,94.7 528.5,93.2 529.3,93.7 530.1,95.0 530.8,92.9 531.6,93.3 532.4,93.3 533.2,91.5 534.0,92.5 534.8,93.2 535.5,93.4 536.3,93.2 537.1,92.4 537.9,92.6 538.7,91.7 539.4,91.6 540.2,92.3 541.0,93.1 541.8,95.3 542.6,95.5 543.3,94.5 544.1,95.2 544.9,94.5 545.7,93.4 546.5,93.4 547.3,93.4 548.0,93.0 548.8,91.8 549.6,91.4 550.4,90.9 551.2,91.2 551.9,89.8 552.7,88.5 553.5,89.3 554.3,88.0 555.1,85.8 555.9,83.5 556.6,81.9 557.4,80.5 558.2,79.0 559.0,76.4 559.8,74.1 560.5,73.1 561.3,73.0 562.1,72.7 562.9,71.7 563.7,70.8 564.4,69.0 565.2,69.3 566.0,69.4 566.8,68.3 567.6,67.6 568.4,66.6 569.1,65.5 569.9,65.1 570.7,63.8 571.5,62.2 572.3,62.1 573.0,61.8 573.8,60.5 574.6,59.6 575.4,59.1 576.2,58.0 576.9,56.7 577.7,56.0 578.5,55.7 579.3,54.5 580.1,53.2 580.9,53.4 581.6,53.4 582.4,52.3 583.2,52.1 584.0,51.8 584.8,51.2 585.5,51.1 586.3,50.9 587.1,50.9 587.9,50.7 588.7,50.5 589.5,49.5 590.2,48.4 591.0,48.5 591.8,48.5 592.6,48.4 593.4,47.9 594.1,47.7 594.9,47.6 595.7,47.8 596.5,47.7 597.3,47.5 598.0,47.6 598.8,47.5 599.6,47.0 600.4,46.5 601.2,46.6 602.0,46.4 602.7,45.7 603.5,45.9 604.3,46.1 605.1,45.9 605.9,45.6 606.6,45.5 607.4,45.7 608.2,45.5 609.0,45.5 609.8,45.5 610.5,44.8 611.3,44.7 612.1,44.7 612.9,44.6 613.7,44.5 614.5,44.5 615.2,44.7 616.0,44.7 616.8,44.5 617.6,44.2 618.4,43.9 619.1,44.0 619.9,44.4 620.7,44.5 621.5,44.4 622.3,44.0 623.0,43.8 623.8,44.1 624.6,44.2 625.4,44.0 626.2,43.8 627.0,43.9 627.7,43.9 628.5,43.6 629.3,43.6 630.1,43.5 630.9,43.3 631.6,43.5 632.4,43.5 633.2,43.5 634.0,43.8 634.8,43.8 635.6,43.8 636.3,43.6 637.1,43.4 637.9,43.4 638.7,43.2 639.5,43.8 640.2,43.9 641.0,43.6 641.8,43.6 642.6,43.4 643.4,43.4 644.1,43.0 644.9,43.3 645.7,43.5 646.5,43.2 647.3,43.5 648.1,43.3 648.8,43.0 649.6,43.2 650.4,43.3 651.2,42.6 652.0,42.5 652.7,43.4 653.5,43.4 654.3,43.2 655.1,43.1 655.9,43.0 656.6,43.1 657.4,43.0 658.2,42.9 659.0,43.2 659.8,43.2 660.6,43.0 661.3,42.8 662.1,42.6 662.9,42.8 663.7,42.9 664.5,42.7 665.2,42.4 666.0,42.5 666.8,42.8 667.6,42.6 668.4,42.8 669.2,42.9 669.9,42.7 670.7,42.8 671.5,42.7 672.3,42.5 673.1,42.4 673.8,42.6 674.6,42.7 674.6,44.9 673.8,45.2 673.1,45.1 672.3,44.6 671.5,44.7 670.7,45.1 669.9,45.2 669.2,45.3 668.4,45.0 667.6,44.6 666.8,44.7 666.0,44.7 665.2,44.7 664.5,44.9 663.7,45.1 662.9,45.0 662.1,44.6 661.3,44.8 660.6,45.1 659.8,44.9 659.0,45.1 658.2,45.1 657.4,44.9 656.6,44.8 655.9,45.1 655.1,45.2 654.3,44.9 653.5,45.1 652.7,44.9 652.0,45.0 651.2,45.3 650.4,45.3 649.6,45.4 648.8,45.5 648.1,45.2 647.3,45.3 646.5,45.6 645.7,45.7 644.9,45.7 644.1,45.3 643.4,45.5 642.6,45.7 641.8,45.7 641.0,45.7 640.2,45.8 639.5,45.9 638.7,46.1 637.9,45.9 637.1,45.7 636.3,45.8 635.6,45.8 634.8,45.7 634.0,45.8 633.2,45.9 632.4,46.1 631.6,46.1 630.9,46.0 630.1,45.9 629.3,45.8 628.5,46.0 627.7,46.0 627.0,46.0 626.2,46.5 625.4,46.5 624.6,46.0 623.8,46.0 623.0,46.4 622.3,46.4 621.5,46.5 620.7,46.7 619.9,46.8 619.1,46.7 618.4,46.6 617.6,46.9 616.8,46.8 616.0,46.8 615.2,46.8 614.5,46.9 613.7,47.1 612.9,47.0 612.1,47.3 611.3,47.3 610.5,47.3 609.8,47.7 609.0,48.0 608.2,48.3 607.4,48.6 606.6,48.4 605.9,48.7 605.1,48.9 604.3,49.1 603.5,49.7 602.7,49.8 602.0,50.4 601.2,50.9 600.4,50.5 599.6,50.8 598.8,51.1 598.0,51.7 597.3,52.4 596.5,52.7 595.7,52.9 594.9,52.8 594.1,53.6 593.4,54.8 592.6,54.8 591.8,54.3 591.0,54.8 590.2,55.4 589.5,55.4 588.7,56.2 587.9,56.9 587.1,57.8 586.3,58.1 585.5,58.2 584.8,58.6 584.0,59.1 583.2,59.9 582.4,60.1 581.6,61.1 580.9,62.9 580.1,63.0 579.3,63.4 578.5,64.3 577.7,65.3 576.9,66.5 576.2,67.1 575.4,68.1 574.6,69.1 573.8,70.1 573.0,71.1 572.3,71.5 571.5,72.9 570.7,74.8 569.9,75.3 569.1,76.1 568.4,77.3 567.6,78.0 566.8,78.8 566.0,80.0 565.2,81.0 564.4,81.7 563.7,83.3 562.9,84.6 562.1,85.1 561.3,86.5 560.5,88.5 559.8,89.5 559.0,91.8 558.2,93.2 557.4,92.6 556.6,94.0 555.9,96.7 555.1,97.2 554.3,98.1 553.5,100.3 552.7,100.9 551.9,101.1 551.2,102.0 550.4,103.1 549.6,103.9 548.8,104.6 548.0,106.0 547.3,105.5 546.5,103.9 545.7,104.4 544.9,105.3 544.1,105.6 543.3,105.6 542.6,106.4 541.8,107.8 541.0,110.2 540.2,112.2 539.4,113.8 538.7,115.8 537.9,117.6 537.1,116.0 536.3,116.8 535.5,118.7 534.8,119.1 534.0,120.7 533.2,120.7 532.4,119.8 531.6,120.2 530.8,120.8 530.1,122.2 529.3,123.3 528.5,123.7 527.7,124.3 526.9,123.6 526.2,124.6 525.4,125.7 524.6,124.3 523.8,124.0 523.0,125.9 522.3,126.4 521.5,125.8 520.7,127.4 519.9,128.2 519.1,128.1 518.3,129.9 517.6,132.6 516.8,132.1 516.0,129.9 515.2,130.4 514.4,129.3 513.7,128.7 512.9,130.1 512.1,130.6 511.3,131.4 510.5,131.5 509.8,131.4 509.0,131.3 508.2,132.6 507.4,134.6 506.6,134.2 505.8,134.6 505.1,135.2 504.3,135.1 503.5,135.2" fill="#dd8452" fill-opacity="0.35"/>
<polyline points="503.5,119.8 504.3,118.8 505.1,116.1 505.8,115.2 506.6,115.9 507.4,114.1 508.2,112.2 509.0,112.7 509.8,111.9 510.5,110.9 511.3,111.4 512.1,110.7 512.9,110.8 513.7,112.5 514.4,113.6 515.2,114.2 516.0,114.4 516.8,114.3 517.6,114.1 518.3,114.3 519.1,115.0 519.9,115.0 520.7,113.9 521.5,111.9 522.3,110.7 523.0,111.2 523.8,110.7 524.6,110.6 525.4,110.1 526.2,109.4 526.9,109.1 527.7,108.1 528.5,108.1 529.3,107.5 530.1,106.3 530.8,104.3 531.6,101.7 532.4,99.4 533.2,99.9 534.0,102.5 534.8,104.0 535.5,104.2 536.3,105.1 537.1,106.5 537.9,105.6 538.7,105.7 539.4,104.8 540.2,103.1 541.0,103.7 541.8,103.8 542.6,103.4 543.3,103.0 544.1,101.5 544.9,99.7 545.7,98.7 546.5,98.2 547.3,98.1 548.0,97.8 548.8,97.9 549.6,97.8 550.4,96.4 551.2,95.6 551.9,95.9 552.7,96.0 553.5,94.3 554.3,92.2 555.1,92.0 555.9,91.4 556.6,89.1 557.4,86.7 558.2,85.5 559.0,84.2 559.8,82.6 560.5,80.6 561.3,79.1 562.1,79.1 562.9,78.3 563.7,76.8 564.4,75.4 565.2,75.2 566.0,74.4 566.8,73.5 567.6,72.9 568.4,72.0 569.1,71.3 569.9,70.1 570.7,69.1 571.5,67.9 572.3,66.5 573.0,65.9 573.8,65.6 574.6,64.5 575.4,63.9 576.2,63.9 576.9,62.2 577.7,60.7 578.5,59.8 579.3,59.3 580.1,59.2 580.9,58.5 581.6,57.3 582.4,56.8 583.2,56.4 584.0,56.0 584.8,55.6 585.5,54.6 586.3,53.8 587.1,53.8 587.9,53.7 588.7,53.2 589.5,52.5 590.2,52.3 591.0,52.1 591.8,51.9 592.6,51.8 593.4,51.0 594.1,50.3 594.9,50.3 595.7,50.3 596.5,49.7 597.3,49.4 598.0,49.4 598.8,49.0 599.6,48.7 600.4,48.4 601.2,48.1 602.0,48.1 602.7,48.1 603.5,47.8 604.3,47.8 605.1,47.8 605.9,47.3 606.6,47.2 607.4,47.1 608.2,46.7 609.0,46.7 609.8,46.5 610.5,46.3 611.3,46.1 612.1,46.1 612.9,46.2 613.7,46.0 614.5,45.7 615.2,45.4 616.0,45.7 616.8,45.8 617.6,45.7 618.4,45.6 619.1,45.5 619.9,45.1 620.7,45.3 621.5,45.4 622.3,45.1 623.0,45.3 623.8,45.3 624.6,45.3 625.4,45.2 626.2,45.0 627.0,45.1 627.7,45.1 628.5,44.9 629.3,44.8 630.1,44.7 630.9,44.7 631.6,44.6 632.4,44.6 633.2,44.7 634.0,44.9 634.8,44.8 635.6,44.6 636.3,44.4 637.1,44.7 637.9,44.9 638.7,44.5 639.5,44.6 640.2,44.8 641.0,44.3 641.8,44.1 642.6,44.5 643.4,44.4 644.1,44.2 644.9,44.2 645.7,44.3 646.5,44.4 647.3,44.5 648.1,44.6 648.8,44.3 649.6,44.2 650.4,44.1 651.2,44.1 652.0,44.6 652.7,44.6 653.5,44.3 654.3,44.2 655.1,44.2 655.9,44.3 656.6,44.1 657.4,44.1 658.2,44.1 659.0,44.1 659.8,44.3 660.6,44.1 661.3,44.2 662.1,44.5 662.9,44.1 663.7,44.0 664.5,44.0 665.2,43.9 666.0,44.1 666.8,43.8 667.6,43.7 668.4,44.0 669.2,44.1 669.9,44.2 670.7,43.9 671.5,43.8 672.3,43.8 673.1,44.0 673.8,43.9 674.6,44.0" fill="none" stroke="#dd8452" stroke-width="1.30" stroke-linejoin="round"/>
<polygon points="503.5,98.1 504.3,97.0 505.1,96.4 505.8,95.5 506.6,95.3 507.4,95.3 508.2,94.0 509.0,94.1 509.8,93.4 510.5,91.4 511.3,91.4 512.1,90.7 512.9,89.9 513.7,91.1 514.4,90.2 515.2,88.6 516.0,88.3 516.8,87.7 517.6,86.3 518.3,85.2 519.1,85.7 519.9,84.7 520.7,82.7 521.5,82.4 522.3,82.0 523.0,80.6 523.8,79.5 524.6,77.8 525.4,75.4 526.2,73.2 526.9,71.9 527.7,71.3 528.5,70.2 529.3,69.0 530.1,69.1 530.8,68.7 531.6,67.4 532.4,67.3 533.2,67.2 534.0,66.8 534.8,66.0 535.5,65.9 536.3,64.7 537.1,63.2 537.9,62.9 538.7,62.0 539.4,61.0 540.2,61.0 541.0,61.0 541.8,61.1 542.6,61.9 543.3,61.6 544.1,58.5 544.9,57.9 545.7,58.1 546.5,55.4 547.3,55.5 548.0,55.0 548.8,53.0 549.6,53.0 550.4,52.3 551.2,52.1 551.9,53.9 552.7,53.6 553.5,53.1 554.3,54.1 555.1,54.4 555.9,51.7 556.6,51.1 557.4,52.5 558.2,52.4 559.0,52.2 559.8,51.9 560.5,52.3 561.3,52.9 562.1,53.6 562.9,53.3 563.7,52.2 564.4,50.3 565.2,49.8 566.0,50.0 566.8,50.4 567.6,51.7 568.4,53.0 569.1,53.0 569.9,53.5 570.7,53.8 571.5,51.3 572.3,50.9 573.0,51.3 573.8,51.8 574.6,53.6 575.4,53.7 576.2,53.0 576.9,52.0 577.7,50.4 578.5,51.8 579.3,53.4 580.1,53.0 580.9,53.0 581.6,53.8 582.4,53.6 583.2,52.5 584.0,52.3 584.8,53.4 585.5,53.8 586.3,54.2 587.1,53.5 587.9,53.0 588.7,53.8 589.5,53.4 590.2,53.6 591.0,54.0 591.8,54.8 592.6,52.8 593.4,51.4 594.1,52.3 594.9,51.0 595.7,51.2 596.5,52.1 597.3,52.0 598.0,51.4 598.8,51.0 599.6,51.5 600.4,51.9 601.2,51.8 602.0,50.7 602.7,52.2 603.5,52.9 604.3,51.7 605.1,51.6 605.9,52.6 606.6,51.7 607.4,50.8 608.2,51.4 609.0,51.0 609.8,51.9 610.5,51.7 611.3,51.7 612.1,51.9 612.9,50.8 613.7,50.1 614.5,49.8 615.2,49.8 616.0,48.4 616.8,47.9 617.6,50.0 618.4,50.6 619.1,50.2 619.9,49.9 620.7,49.8 621.5,50.2 622.3,48.7 623.0,48.2 623.8,49.3 624.6,49.4 625.4,49.3 626.2,48.3 627.0,47.9 627.7,48.0 628.5,50.0 629.3,50.3 630.1,48.0 630.9,47.1 631.6,47.6 632.4,49.5 633.2,49.2 634.0,48.5 634.8,49.7 635.6,49.7 636.3,48.2 637.1,47.2 637.9,47.4 638.7,48.4 639.5,47.5 640.2,47.5 641.0,48.8 641.8,48.9 642.6,48.2 643.4,47.2 644.1,47.4 644.9,47.5 645.7,47.9 646.5,47.9 647.3,48.7 648.1,48.3 648.8,47.0 649.6,47.6 650.4,47.9 651.2,47.6 652.0,46.9 652.7,46.8 653.5,47.4 654.3,47.8 655.1,48.4 655.9,48.4 656.6,47.8 657.4,47.6 658.2,47.6 659.0,47.1 659.8,47.0 660.6,47.1 661.3,47.0 662.1,47.0 662.9,47.3 663.7,47.2 664.5,47.8 665.2,47.5 666.0,47.3 666.8,47.5 667.6,47.0 668.4,46.8 669.2,46.8 669.9,47.6 670.7,47.2 671.5,46.8 672.3,47.1 673.1,47.2 673.8,46.8 674.6,46.5 674.6,56.9 673.8,56.1 673.1,56.1 672.3,56.5 671.5,56.2 670.7,56.4 669.9,57.2 669.2,56.8 668.4,56.1 667.6,56.6 666.8,56.9 666.0,56.3 665.2,56.4 664.5,56.2 663.7,56.5 662.9,56.8 662.1,56.0 661.3,56.6 660.6,57.5 659.8,56.3 659.0,56.6 658.2,57.7 657.4,57.4 656.6,57.3 655.9,58.2 655.1,59.4 654.3,58.9 653.5,58.5 652.7,59.3 652.0,58.9 651.2,58.8 650.4,58.4 649.6,57.8 648.8,58.7 648.1,59.1 647.3,59.7 646.5,59.8 645.7,59.2 644.9,59.2 644.1,59.1 643.4,59.3 642.6,59.6 641.8,59.4 641.0,59.4 640.2,59.7 639.5,59.5 638.7,60.1 637.9,60.7 637.1,59.9 636.3,60.5 635.6,60.3 634.8,60.6 634.0,61.3 633.2,60.9 632.4,60.4 631.6,60.5 630.9,62.5 630.1,63.0 629.3,62.6 628.5,62.4 627.7,62.4 627.0,62.2 626.2,62.2 625.4,62.7 624.6,64.0 623.8,64.2 623.0,63.6 622.3,64.5 621.5,64.6 620.7,63.8 619.9,62.6 619.1,62.3 618.4,63.4 617.6,64.1 616.8,65.4 616.0,65.6 615.2,66.1 614.5,67.2 613.7,66.1 612.9,65.6 612.1,66.4 611.3,66.8 610.5,66.9 609.8,65.5 609.0,65.7 608.2,67.7 607.4,67.9 606.6,67.7 605.9,67.9 605.1,68.5 604.3,68.7 603.5,68.9 602.7,69.2 602.0,69.5 601.2,70.9 600.4,72.2 599.6,71.8 598.8,72.1 598.0,72.9 597.3,74.0 596.5,74.4 595.7,73.2 594.9,73.5 594.1,73.8 593.4,74.3 592.6,74.5 591.8,75.3 591.0,76.5 590.2,75.5 589.5,74.8 588.7,76.1 587.9,76.0 587.1,74.9 586.3,74.5 585.5,74.3 584.8,75.6 584.0,75.8 583.2,74.9 582.4,74.7 581.6,75.1 580.9,75.2 580.1,74.2 579.3,73.6 578.5,73.1 577.7,71.7 576.9,73.7 576.2,75.4 575.4,73.4 574.6,72.4 573.8,72.8 573.0,73.5 572.3,73.6 571.5,72.7 570.7,71.9 569.9,72.4 569.1,73.0 568.4,73.5 567.6,74.1 566.8,72.4 566.0,72.3 565.2,73.6 564.4,73.4 563.7,73.8 562.9,72.9 562.1,72.8 561.3,73.1 560.5,72.4 559.8,71.7 559.0,73.3 558.2,73.3 557.4,71.8 556.6,73.5 555.9,72.5 555.1,72.7 554.3,73.8 553.5,72.9 552.7,75.0 551.9,76.3 551.2,75.1 550.4,76.9 549.6,78.2 548.8,78.6 548.0,79.4 547.3,79.1 546.5,79.8 545.7,82.0 544.9,82.7 544.1,82.3 543.3,84.6 542.6,85.8 541.8,85.7 541.0,85.4 540.2,85.6 539.4,88.3 538.7,91.5 537.9,91.4 537.1,91.3 536.3,92.3 535.5,93.0 534.8,94.9 534.0,96.0 533.2,96.7 532.4,97.6 531.6,98.5 530.8,99.7 530.1,102.2 529.3,104.5 528.5,104.5 527.7,105.8 526.9,107.2 526.2,107.6 525.4,110.3 524.6,114.2 523.8,115.7 523.0,116.1 522.3,118.7 521.5,120.8 520.7,122.1 519.9,124.7 519.1,125.7 518.3,125.5 517.6,126.7 516.8,128.3 516.0,129.3 515.2,129.8 514.4,131.1 513.7,132.2 512.9,130.3 512.1,130.9 511.3,134.0 510.5,134.3 509.8,134.9 509.0,137.5 508.2,137.6 507.4,135.4 506.6,135.0 505.8,136.3 505.1,138.8 504.3,138.4 503.5,137.7" fill="#4c72b0" fill-opacity="0.30"/>
<polyline points="503.5,117.8 504.3,118.3 505.1,119.3 505.8,118.2 506.6,118.0 507.4,118.0 508.2,117.7 509.0,117.4 509.8,116.6 510.5,116.7 511.3,116.8 512.1,116.1 512.9,115.8 513.7,115.0 514.4,114.4 515.2,113.0 516.0,109.9 516.8,107.0 517.6,104.5 518.3,103.0 519.1,100.1 519.9,97.6 520.7,96.4 521.5,93.6 522.3,92.7 523.0,91.9 523.8,89.9 524.6,89.3 525.4,88.8 526.2,87.5 526.9,86.3 527.7,85.0 528.5,83.2 529.3,83.5 530.1,83.6 530.8,82.4 531.6,82.3 532.4,82.5 533.2,81.7 534.0,81.1 534.8,81.9 535.5,82.0 536.3,80.8 537.1,81.0 537.9,81.6 538.7,80.1 539.4,78.7 540.2,79.9 541.0,80.7 541.8,78.9 542.6,78.0 543.3,77.4 544.1,76.1 544.9,74.8 545.7,75.0 546.5,75.7 547.3,74.2 548.0,71.8 548.8,70.4 549.6,70.9 550.4,69.6 551.2,67.5 551.9,67.0 552.7,66.6 553.5,65.4 554.3,63.8 555.1,63.2 555.9,62.8 556.6,62.3 557.4,62.2 558.2,62.2 559.0,61.5 559.8,61.0 560.5,61.2 561.3,60.6 562.1,60.3 562.9,60.5 563.7,61.7 564.4,62.1 565.2,61.8 566.0,62.7 566.8,63.1 567.6,62.4 568.4,61.9 569.1,63.3 569.9,64.7 570.7,64.7 571.5,64.8 572.3,64.3 573.0,65.1 573.8,67.1 574.6,66.5 575.4,65.6 576.2,65.4 576.9,65.0 577.7,64.1 578.5,64.6 579.3,65.9 580.1,66.7 580.9,66.3 581.6,64.9 582.4,65.2 583.2,65.0 584.0,64.9 584.8,64.7 585.5,64.6 586.3,65.9 587.1,66.3 587.9,66.6 588.7,67.1 589.5,66.2 590.2,65.0 591.0,64.2 591.8,64.8 592.6,66.1 593.4,66.7 594.1,66.3 594.9,65.7 595.7,66.6 596.5,66.5 597.3,66.0 598.0,67.3 598.8,67.1 599.6,66.0 600.4,66.4 601.2,66.5 602.0,65.2 602.7,63.9 603.5,63.5 604.3,64.6 605.1,65.4 605.9,64.0 606.6,63.9 607.4,64.3 608.2,64.2 609.0,62.4 609.8,60.6 610.5,60.8 611.3,60.9 612.1,60.9 612.9,60.8 613.7,59.9 614.5,59.8 615.2,59.1 616.0,58.8 616.8,59.5 617.6,58.5 618.4,57.9 619.1,58.1 619.9,58.1 620.7,59.2 621.5,58.6 622.3,58.0 623.0,57.6 623.8,57.5 624.6,58.7 625.4,57.7 626.2,56.6 627.0,56.5 627.7,57.1 628.5,56.6 629.3,56.6 630.1,57.0 630.9,56.6 631.6,56.4 632.4,55.6 633.2,55.6 634.0,55.6 634.8,55.0 635.6,55.8 636.3,56.4 637.1,55.8 637.9,55.4 638.7,55.1 639.5,55.5 640.2,55.2 641.0,54.1 641.8,54.4 642.6,55.1 643.4,54.9 644.1,54.5 644.9,54.2 645.7,54.0 646.5,53.8 647.3,53.9 648.1,53.6 648.8,54.1 649.6,54.9 650.4,53.8 651.2,53.9 652.0,53.8 652.7,53.6 653.5,53.7 654.3,53.5 655.1,53.6 655.9,53.2 656.6,53.0 657.4,53.1 658.2,52.4 659.0,52.2 659.8,53.1 660.6,52.7 661.3,52.1 662.1,52.0 662.9,51.6 663.7,52.2 664.5,52.4 665.2,51.7 666.0,52.0 666.8,52.2 667.6,53.0 668.4,53.2 669.2,51.7 669.9,52.1 670.7,52.7 671.5,52.0 672.3,51.7 673.1,51.3 673.8,51.9 674.6,52.3" fill="none" stroke="#4c72b0" stroke-width="1.30" stroke-linejoin="round"/>
</g>
<rect x="495.50" y="37.50" width="187.90" height="107.00" fill="none" stroke="#dcdcdc" stroke-width="1.00"/>
<text x="503.50" y="155.80" font-size="8.10" text-anchor="middle" textLength="4.5" lengthAdjust="spacingAndGlyphs" fill="#262626" stroke="#262626" stroke-width="0.15">0</text>
<text x="532.02" y="155.80" font-size="8.10" text-anchor="middle" textLength="13.5" lengthAdjust="spacingAndGlyphs" fill="#262626" stroke="#262626" stroke-width="0.15">100</text>
<text x="560.54" y="155.80" font-size="8.10" text-anchor="middle" textLength="13.5" lengthAdjust="spacingAndGlyphs" fill="#262626" stroke="#262626" stroke-width="0.15">200</text>
<text x="589.06" y="155.80" font-size="8.10" text-anchor="middle" textLength="13.5" lengthAdjust="spacingAndGlyphs" fill="#262626" stroke="#262626" stroke-width="0.15">300</text>
<text x="617.58" y="155.80" font-size="8.10" text-anchor="middle" textLength="13.5" lengthAdjust="spacingAndGlyphs" fill="#262626" stroke="#262626" stroke-width="0.15">400</text>
<text x="646.10" y="155.80" font-size="8.10" text-anchor="middle" textLength="13.5" lengthAdjust="spacingAndGlyphs" fill="#262626" stroke="#262626" stroke-width="0.15">500</text>
<text x="674.62" y="155.80" font-size="8.10" text-anchor="middle" textLength="13.5" lengthAdjust="spacingAndGlyphs" fill="#262626" stroke="#262626" stroke-width="0.15">600</text>
<text x="489.60" y="130.14" font-size="8.10" text-anchor="end" textLength="11.3" lengthAdjust="spacingAndGlyphs" fill="#262626" stroke="#262626" stroke-width="0.15">0.2</text>
<text x="489.60" y="107.38" font-size="8.10" text-anchor="end" textLength="11.3" lengthAdjust="spacingAndGlyphs" fill="#262626" stroke="#262626" stroke-width="0.15">0.4</text>
<text x="489.60" y="84.62" font-size="8.10" text-anchor="end" textLength="11.3" lengthAdjust="spacingAndGlyphs" fill="#262626" stroke="#262626" stroke-width="0.15">0.6</text>
<text x="489.60" y="61.86" font-size="8.10" text-anchor="end" textLength="11.3" lengthAdjust="spacingAndGlyphs" fill="#262626" stroke="#262626" stroke-width="0.15">0.8</text>
<text x="589.40" y="34.30" font-size="8.10" text-anchor="middle" textLength="39.0" lengthAdjust="spacingAndGlyphs" fill="#262626" stroke="#262626" stroke-width="0.15">ChainWorld</text>
<text x="589.30" y="164.40" font-size="8.10" text-anchor="middle" textLength="30.6" lengthAdjust="spacingAndGlyphs" fill="#262626" stroke="#262626" stroke-width="0.15">Episodes</text>
<text x="0" y="0" font-size="8.10" text-anchor="middle" textLength="65.8" lengthAdjust="spacingAndGlyphs" fill="#262626" stroke="#262626" stroke-width="0.15" transform="translate(474.72,90.90) rotate(-90)">Normalized Reward</text>
<clipPath id="clip4"><rect x="26.70" y="182.60" width="190.60" height="109.00"/></clipPath>
<line x1="34.60" y1="182.60" x2="34.60" y2="291.60" stroke="#e4e5e7" stroke-width="1.00"/>
<line x1="69.42" y1="182.60" x2="69.42" y2="291.60" stroke="#e4e5e7" stroke-width="1.00"/>
<line x1="104.24" y1="182.60" x2="104.24" y2="291.60" stroke="#e4e5e7" stroke-width="1.00"/>
<line x1="139.06" y1="182.60" x2="139.06" y2="291.60" stroke="#e4e5e7" stroke-width="1.00"/>
<line x1="173.88" y1="182.60" x2="173.88" y2="291.60" stroke="#e4e5e7" stroke-width="1.00"/>
<line x1="208.70" y1="182.60" x2="208.70" y2="291.60" stroke="#e4e5e7" stroke-width="1.00"/>
<line x1="26.70" y1="291.70" x2="217.30" y2="291.70" stroke="#e4e5e7" stroke-width="1.00"/>
<line x1="26.70" y1="267.35" x2="217.30" y2="267.35" stroke="#e4e5e7" stroke-width="1.00"/>
<line x1="26.70" y1="243.00" x2="217.30" y2="243.00" stroke="#e4e5e7" stroke-width="1.00"/>
<line x1="26.70" y1="218.65" x2="217.30" y2="218.65" stroke="#e4e5e7" stroke-width="1.00"/>
<line x1="26.70" y1="194.30" x2="217.30" y2="194.30" stroke="#e4e5e7" stroke-width="1.00"/>
<g clip-path="url(#clip4)">
<polygon points="34.6,264.6 35.4,264.1 36.2,261.8 37.0,258.1 37.8,254.2 38.6,251.9 39.4,252.6 40.2,251.5 41.0,249.6 41.8,245.0 42.5,238.2 43.3,239.3 44.1,241.7 44.9,237.5 45.7,235.4 46.5,236.4 47.3,235.9 48.1,235.1 48.9,235.8 49.7,234.2 50.5,231.4 51.3,232.6 52.1,235.8 52.9,234.2 53.7,231.7 54.5,231.3 55.3,233.1 56.1,232.7 56.9,230.5 57.7,232.0 58.4,234.4 59.2,232.2 60.0,229.3 60.8,228.4 61.6,228.5 62.4,232.1 63.2,233.1 64.0,231.4 64.8,230.8 65.6,230.5 66.4,228.8 67.2,225.5 68.0,226.9 68.8,227.9 69.6,226.7 70.4,225.3 71.2,223.7 72.0,225.3 72.8,225.5 73.6,225.0 74.3,225.4 75.1,223.9 75.9,221.7 76.7,221.3 77.5,220.3 78.3,220.0 79.1,222.2 79.9,224.3 80.7,222.2 81.5,220.7 82.3,221.6 83.1,221.2 83.9,220.5 84.7,222.1 85.5,221.1 86.3,217.6 87.1,218.8 87.9,219.8 88.7,218.0 89.5,218.5 90.2,219.7 91.0,221.1 91.8,218.8 92.6,217.4 93.4,219.6 94.2,220.7 95.0,220.0 95.8,216.9 96.6,216.9 97.4,218.5 98.2,217.3 99.0,217.7 99.8,217.5 100.6,215.8 101.4,217.0 102.2,217.6 103.0,216.8 103.8,216.4 104.6,216.6 105.4,216.5 106.1,216.8 106.9,216.7 107.7,217.5 108.5,215.5 109.3,212.6 110.1,212.1 110.9,213.8 111.7,213.8 112.5,212.1 113.3,213.6 114.1,213.6 114.9,211.7 115.7,209.5 116.5,211.2 117.3,212.8 118.1,212.5 118.9,214.3 119.7,212.4 120.5,209.8 121.3,212.6 122.0,213.7 122.8,211.4 123.6,212.9 124.4,212.3 125.2,210.7 126.0,212.9 126.8,212.8 127.6,210.3 128.4,210.1 129.2,212.6 130.0,211.3 130.8,211.5 131.6,213.7 132.4,214.0 133.2,211.7 134.0,209.5 134.8,210.6 135.6,211.0 136.4,211.7 137.2,212.7 137.9,212.6 138.7,212.7 139.5,212.6 140.3,209.7 141.1,209.9 141.9,212.9 142.7,213.5 143.5,210.4 144.3,211.0 145.1,213.1 145.9,210.1 146.7,210.6 147.5,210.7 148.3,212.6 149.1,213.1 149.9,212.0 150.7,212.7 151.5,211.2 152.3,212.2 153.1,210.7 153.8,208.0 154.6,209.8 155.4,210.9 156.2,212.3 157.0,212.2 157.8,206.5 158.6,207.9 159.4,210.2 160.2,208.6 161.0,209.8 161.8,210.0 162.6,210.6 163.4,211.6 164.2,211.5 165.0,208.8 165.8,207.9 166.6,208.2 167.4,208.7 168.2,211.5 169.0,210.0 169.7,207.8 170.5,208.5 171.3,208.9 172.1,209.3 172.9,208.9 173.7,208.1 174.5,209.0 175.3,212.0 176.1,211.5 176.9,210.1 177.7,209.6 178.5,208.5 179.3,208.2 180.1,207.8 180.9,205.1 181.7,205.3 182.5,209.8 183.3,211.2 184.1,208.3 184.9,207.1 185.6,208.4 186.4,207.7 187.2,206.1 188.0,206.1 188.8,205.8 189.6,207.0 190.4,207.9 191.2,206.8 192.0,206.2 192.8,208.8 193.6,210.3 194.4,209.6 195.2,206.7 196.0,204.4 196.8,204.4 197.6,203.6 198.4,205.9 199.2,206.5 200.0,204.8 200.8,203.8 201.5,205.6 202.3,206.8 203.1,204.4 203.9,203.2 204.7,202.9 205.5,202.2 206.3,200.7 207.1,204.5 207.9,207.3 208.7,207.0 208.7,225.6 207.9,224.8 207.1,223.2 206.3,224.7 205.5,224.7 204.7,222.5 203.9,223.4 203.1,222.7 202.3,222.1 201.5,224.0 200.8,225.5 200.0,224.4 199.2,222.7 198.4,223.5 197.6,227.7 196.8,227.8 196.0,226.3 195.2,226.0 194.4,223.6 193.6,222.7 192.8,224.6 192.0,227.0 191.2,226.7 190.4,227.2 189.6,227.8 188.8,224.9 188.0,224.0 187.2,225.7 186.4,226.9 185.6,227.1 184.9,227.6 184.1,228.5 183.3,227.1 182.5,227.2 181.7,228.0 180.9,226.2 180.1,225.5 179.3,227.3 178.5,225.9 177.7,224.2 176.9,228.2 176.1,229.2 175.3,231.4 174.5,232.4 173.7,229.0 172.9,230.7 172.1,230.2 171.3,228.8 170.5,231.4 169.7,229.5 169.0,227.7 168.2,230.2 167.4,232.0 166.6,231.1 165.8,229.6 165.0,229.5 164.2,230.8 163.4,230.7 162.6,230.5 161.8,232.0 161.0,231.2 160.2,231.4 159.4,233.1 158.6,229.5 157.8,229.4 157.0,231.0 156.2,232.0 155.4,232.3 154.6,231.2 153.8,232.5 153.1,232.3 152.3,235.4 151.5,235.8 150.7,232.0 149.9,230.8 149.1,233.6 148.3,234.2 147.5,234.0 146.7,234.5 145.9,235.4 145.1,237.4 144.3,234.4 143.5,234.4 142.7,238.2 141.9,236.0 141.1,233.0 140.3,237.0 139.5,237.9 138.7,234.6 137.9,233.8 137.2,235.0 136.4,236.4 135.6,235.4 134.8,235.4 134.0,237.5 133.2,237.1 132.4,236.7 131.6,236.3 130.8,236.5 130.0,237.1 129.2,235.6 128.4,234.7 127.6,236.2 126.8,238.5 126.0,236.3 125.2,232.8 124.4,232.0 123.6,235.5 122.8,237.0 122.0,237.9 121.3,239.0 120.5,238.1 119.7,239.6 118.9,239.5 118.1,238.1 117.3,237.3 116.5,235.8 115.7,235.5 114.9,237.8 114.1,236.6 113.3,235.9 112.5,237.0 111.7,236.7 110.9,237.8 110.1,239.6 109.3,241.2 108.5,239.7 107.7,239.4 106.9,241.2 106.1,243.2 105.4,243.9 104.6,240.5 103.8,240.0 103.0,240.6 102.2,239.8 101.4,241.2 100.6,238.1 99.8,239.8 99.0,244.0 98.2,242.1 97.4,243.3 96.6,245.6 95.8,244.4 95.0,243.9 94.2,246.0 93.4,247.8 92.6,244.9 91.8,243.6 91.0,243.1 90.2,240.8 89.5,242.3 88.7,245.0 87.9,246.0 87.1,246.1 86.3,244.8 85.5,244.7 84.7,244.0 83.9,244.2 83.1,246.3 82.3,247.3 81.5,246.2 80.7,245.8 79.9,248.5 79.1,247.9 78.3,247.5 77.5,249.3 76.7,248.8 75.9,249.6 75.1,250.1 74.3,248.6 73.6,249.4 72.8,251.9 72.0,249.2 71.2,248.6 70.4,251.8 69.6,250.5 68.8,250.7 68.0,250.8 67.2,249.7 66.4,249.6 65.6,250.2 64.8,251.6 64.0,253.1 63.2,257.3 62.4,258.7 61.6,255.7 60.8,254.2 60.0,255.4 59.2,256.1 58.4,256.9 57.7,258.7 56.9,258.9 56.1,258.3 55.3,260.1 54.5,261.8 53.7,259.0 52.9,259.3 52.1,260.1 51.3,258.1 50.5,258.5 49.7,260.6 48.9,260.8 48.1,261.7 47.3,263.4 46.5,263.3 45.7,264.4 44.9,266.8 44.1,269.0 43.3,270.2 42.5,271.1 41.8,273.3 41.0,275.3 40.2,276.9 39.4,280.4 38.6,281.0 37.8,282.6 37.0,287.5 36.2,289.2 35.4,291.3 34.6,293.9" fill="#55a868" fill-opacity="0.36"/>
<polyline points="34.6,279.4 35.4,278.0 36.2,276.1 37.0,273.0 37.8,269.5 38.6,267.2 39.4,265.9 40.2,263.1 41.0,260.7 41.8,259.1 42.5,256.8 43.3,255.8 44.1,253.7 44.9,251.0 45.7,250.3 46.5,249.9 47.3,248.6 48.1,246.6 48.9,246.5 49.7,247.3 50.5,246.4 51.3,246.3 52.1,247.4 52.9,246.5 53.7,245.4 54.5,245.1 55.3,244.8 56.1,244.3 56.9,244.0 57.7,244.3 58.4,244.2 59.2,243.3 60.0,242.3 60.8,241.9 61.6,241.7 62.4,243.5 63.2,244.0 64.0,241.9 64.8,240.7 65.6,240.9 66.4,239.7 67.2,238.2 68.0,238.9 68.8,238.6 69.6,238.1 70.4,238.3 71.2,237.6 72.0,237.2 72.8,238.1 73.6,238.0 74.3,237.1 75.1,237.1 75.9,236.2 76.7,236.0 77.5,235.5 78.3,234.1 79.1,235.3 79.9,235.4 80.7,233.8 81.5,233.6 82.3,234.5 83.1,233.9 83.9,231.9 84.7,232.4 85.5,232.9 86.3,231.8 87.1,232.0 87.9,232.1 88.7,232.0 89.5,231.2 90.2,230.6 91.0,231.6 91.8,231.0 92.6,231.0 93.4,231.4 94.2,230.5 95.0,230.1 95.8,229.9 96.6,229.8 97.4,229.8 98.2,229.6 99.0,229.2 99.8,228.3 100.6,228.6 101.4,228.9 102.2,228.0 103.0,228.3 103.8,228.6 104.6,228.3 105.4,228.6 106.1,229.4 106.9,228.0 107.7,227.9 108.5,227.3 109.3,226.4 110.1,226.9 110.9,226.5 111.7,226.2 112.5,226.2 113.3,226.5 114.1,226.2 114.9,225.3 115.7,224.4 116.5,224.1 117.3,224.4 118.1,225.1 118.9,226.0 119.7,225.5 120.5,224.0 121.3,224.5 122.0,224.4 122.8,223.4 123.6,223.7 124.4,223.8 125.2,223.6 126.0,225.1 126.8,225.4 127.6,224.7 128.4,224.1 129.2,224.3 130.0,224.7 130.8,224.8 131.6,224.5 132.4,223.9 133.2,223.3 134.0,222.9 134.8,223.2 135.6,223.5 136.4,223.5 137.2,223.5 137.9,222.6 138.7,224.0 139.5,224.8 140.3,223.2 141.1,222.4 141.9,223.1 142.7,223.4 143.5,222.3 144.3,222.6 145.1,224.0 145.9,223.8 146.7,223.3 147.5,222.7 148.3,222.4 149.1,221.6 149.9,221.0 150.7,222.2 151.5,222.5 152.3,222.5 153.1,221.9 153.8,220.4 154.6,220.6 155.4,220.8 156.2,221.0 157.0,221.3 157.8,219.4 158.6,220.2 159.4,220.7 160.2,219.2 161.0,220.8 161.8,222.1 162.6,221.5 163.4,220.0 164.2,219.6 165.0,220.1 165.8,219.4 166.6,219.1 167.4,219.3 168.2,219.4 169.0,218.8 169.7,219.0 170.5,218.5 171.3,218.2 172.1,219.4 172.9,218.8 173.7,218.0 174.5,219.3 175.3,219.3 176.1,218.9 176.9,219.3 177.7,218.1 178.5,218.0 179.3,218.1 180.1,217.7 180.9,216.7 181.7,216.5 182.5,218.1 183.3,218.5 184.1,218.2 184.9,217.5 185.6,216.9 186.4,216.3 187.2,216.1 188.0,216.4 188.8,216.2 189.6,216.3 190.4,216.2 191.2,215.6 192.0,215.2 192.8,215.8 193.6,217.1 194.4,217.1 195.2,215.9 196.0,216.7 196.8,217.0 197.6,215.3 198.4,215.2 199.2,216.0 200.0,214.6 200.8,213.1 201.5,214.1 202.3,214.0 203.1,213.1 203.9,214.3 204.7,213.4 205.5,213.2 206.3,214.7 207.1,214.7 207.9,214.4 208.7,214.4" fill="none" stroke="#55a868" stroke-width="1.30" stroke-linejoin="round"/>
<polygon points="34.6,219.8 35.4,220.0 36.2,223.9 37.0,226.9 37.8,228.1 38.6,230.3 39.4,230.2 40.2,231.2 41.0,233.9 41.8,234.0 42.5,233.0 43.3,233.8 44.1,236.4 44.9,235.5 45.7,233.6 46.5,235.0 47.3,236.6 48.1,237.8 48.9,238.1 49.7,239.7 50.5,238.7 51.3,235.4 52.1,236.7 52.9,235.6 53.7,235.1 54.5,235.3 55.3,234.7 56.1,236.6 56.9,236.2 57.7,234.4 58.4,233.5 59.2,234.0 60.0,232.5 60.8,233.5 61.6,235.0 62.4,232.8 63.2,233.4 64.0,233.1 64.8,233.7 65.6,235.9 66.4,234.8 67.2,232.3 68.0,230.3 68.8,230.6 69.6,229.5 70.4,227.9 71.2,228.0 72.0,227.0 72.8,227.6 73.6,228.9 74.3,228.7 75.1,227.2 75.9,226.7 76.7,228.3 77.5,229.7 78.3,228.2 79.1,226.2 79.9,227.2 80.7,226.2 81.5,223.9 82.3,224.0 83.1,223.8 83.9,222.4 84.7,222.7 85.5,222.8 86.3,220.7 87.1,219.7 87.9,219.1 88.7,221.1 89.5,222.2 90.2,219.9 91.0,217.2 91.8,215.8 92.6,217.0 93.4,218.6 94.2,218.9 95.0,217.3 95.8,217.1 96.6,216.1 97.4,213.5 98.2,213.1 99.0,215.4 99.8,215.4 100.6,211.2 101.4,211.7 102.2,212.2 103.0,210.1 103.8,208.9 104.6,207.1 105.4,208.1 106.1,209.4 106.9,209.0 107.7,208.0 108.5,206.2 109.3,203.9 110.1,202.9 110.9,204.6 111.7,203.5 112.5,202.7 113.3,202.7 114.1,201.1 114.9,201.1 115.7,200.1 116.5,200.8 117.3,202.3 118.1,202.2 118.9,201.1 119.7,201.4 120.5,202.0 121.3,201.1 122.0,201.1 122.8,200.8 123.6,201.0 124.4,199.5 125.2,198.0 126.0,198.1 126.8,199.6 127.6,201.2 128.4,200.4 129.2,200.8 130.0,200.4 130.8,200.0 131.6,199.9 132.4,199.0 133.2,199.2 134.0,197.9 134.8,197.0 135.6,198.0 136.4,198.5 137.2,199.5 137.9,199.3 138.7,198.7 139.5,199.3 140.3,198.5 141.1,197.4 141.9,198.1 142.7,198.4 143.5,198.0 144.3,196.6 145.1,196.7 145.9,197.7 146.7,195.5 147.5,196.0 148.3,196.6 149.1,194.1 149.9,193.6 150.7,194.3 151.5,194.4 152.3,194.7 153.1,194.6 153.8,193.2 154.6,191.4 155.4,190.9 156.2,191.4 157.0,192.3 157.8,191.4 158.6,191.7 159.4,192.1 160.2,191.6 161.0,191.5 161.8,191.0 162.6,190.8 163.4,190.9 164.2,190.2 165.0,189.1 165.8,189.4 166.6,190.0 167.4,188.0 168.2,187.4 169.0,188.8 169.7,188.2 170.5,187.5 171.3,187.8 172.1,186.7 172.9,185.9 173.7,187.6 174.5,186.4 175.3,186.4 176.1,188.0 176.9,187.7 177.7,188.3 178.5,188.5 179.3,189.5 180.1,189.5 180.9,189.6 181.7,190.3 182.5,188.7 183.3,188.4 184.1,190.1 184.9,190.4 185.6,190.2 186.4,190.9 187.2,190.8 188.0,190.2 188.8,188.4 189.6,188.5 190.4,188.6 191.2,188.1 192.0,187.8 192.8,188.2 193.6,187.9 194.4,188.2 195.2,188.3 196.0,185.3 196.8,187.0 197.6,188.6 198.4,187.2 199.2,187.2 200.0,187.5 200.8,187.1 201.5,188.3 202.3,189.0 203.1,187.6 203.9,188.9 204.7,190.2 205.5,190.1 206.3,190.7 207.1,191.5 207.9,191.3 208.7,191.5 208.7,202.6 207.9,202.6 207.1,204.0 206.3,202.5 205.5,200.8 204.7,201.4 203.9,201.8 203.1,200.8 202.3,199.2 201.5,197.3 200.8,196.6 200.0,197.8 199.2,200.5 198.4,201.2 197.6,198.3 196.8,199.6 196.0,200.0 195.2,198.8 194.4,198.5 193.6,197.9 192.8,199.8 192.0,199.7 191.2,198.6 190.4,198.9 189.6,200.4 188.8,201.5 188.0,201.0 187.2,202.1 186.4,204.3 185.6,203.4 184.9,202.5 184.1,203.3 183.3,202.6 182.5,202.2 181.7,202.0 180.9,202.4 180.1,203.6 179.3,203.2 178.5,201.7 177.7,200.0 176.9,201.1 176.1,200.4 175.3,197.3 174.5,198.9 173.7,199.2 172.9,198.1 172.1,199.3 171.3,198.2 170.5,198.1 169.7,200.1 169.0,202.0 168.2,201.7 167.4,199.5 166.6,199.1 165.8,199.0 165.0,199.7 164.2,200.6 163.4,201.6 162.6,202.4 161.8,201.4 161.0,202.2 160.2,201.8 159.4,201.4 158.6,203.1 157.8,203.1 157.0,203.3 156.2,204.2 155.4,205.2 154.6,205.7 153.8,206.0 153.1,206.4 152.3,206.5 151.5,206.9 150.7,205.8 149.9,205.5 149.1,204.9 148.3,204.4 147.5,206.0 146.7,207.3 145.9,209.1 145.1,209.0 144.3,208.6 143.5,209.0 142.7,210.4 141.9,211.1 141.1,210.4 140.3,209.9 139.5,209.3 138.7,209.9 137.9,211.9 137.2,213.5 136.4,210.1 135.6,208.3 134.8,210.6 134.0,212.2 133.2,213.1 132.4,209.9 131.6,209.8 130.8,213.2 130.0,213.5 129.2,212.3 128.4,212.7 127.6,213.0 126.8,213.2 126.0,212.0 125.2,211.0 124.4,213.6 123.6,213.7 122.8,212.1 122.0,213.2 121.3,214.9 120.5,214.0 119.7,212.9 118.9,214.0 118.1,215.9 117.3,215.0 116.5,213.7 115.7,213.5 114.9,211.7 114.1,213.7 113.3,217.3 112.5,217.2 111.7,215.4 110.9,216.1 110.1,217.6 109.3,218.8 108.5,220.9 107.7,222.3 106.9,223.9 106.1,224.1 105.4,222.7 104.6,221.3 103.8,223.0 103.0,224.7 102.2,225.4 101.4,226.2 100.6,225.6 99.8,227.7 99.0,229.9 98.2,229.7 97.4,231.8 96.6,232.1 95.8,232.2 95.0,231.7 94.2,231.6 93.4,232.6 92.6,231.7 91.8,231.4 91.0,231.7 90.2,233.2 89.5,234.3 88.7,236.1 87.9,236.3 87.1,235.0 86.3,235.5 85.5,236.0 84.7,237.1 83.9,237.6 83.1,237.7 82.3,240.1 81.5,240.4 80.7,238.5 79.9,239.4 79.1,241.3 78.3,242.0 77.5,243.2 76.7,242.9 75.9,242.9 75.1,244.8 74.3,245.2 73.6,243.9 72.8,243.2 72.0,242.2 71.2,244.3 70.4,245.9 69.6,245.4 68.8,247.0 68.0,246.1 67.2,244.8 66.4,243.4 65.6,246.3 64.8,249.3 64.0,246.1 63.2,244.9 62.4,247.7 61.6,250.2 60.8,248.3 60.0,247.2 59.2,248.5 58.4,247.7 57.7,248.6 56.9,249.1 56.1,248.7 55.3,250.6 54.5,249.6 53.7,250.0 52.9,250.1 52.1,249.4 51.3,251.1 50.5,253.4 49.7,253.3 48.9,253.0 48.1,256.0 47.3,254.6 46.5,250.9 45.7,251.0 44.9,252.9 44.1,253.5 43.3,251.5 42.5,248.7 41.8,249.3 41.0,248.3 40.2,245.8 39.4,246.0 38.6,244.1 37.8,240.3 37.0,238.3 36.2,237.2 35.4,233.9 34.6,230.6" fill="#dd8452" fill-opacity="0.35"/>
<polyline points="34.6,226.0 35.4,228.4 36.2,230.5 37.0,231.9 37.8,233.3 38.6,235.3 39.4,237.2 40.2,238.7 41.0,239.9 41.8,240.9 42.5,242.0 43.3,242.8 44.1,244.0 44.9,244.4 45.7,243.3 46.5,244.0 47.3,245.9 48.1,245.5 48.9,244.9 49.7,246.8 50.5,246.4 51.3,244.4 52.1,243.7 52.9,243.1 53.7,242.5 54.5,242.5 55.3,243.2 56.1,243.2 56.9,241.7 57.7,240.3 58.4,240.4 59.2,240.6 60.0,239.6 60.8,240.0 61.6,240.9 62.4,240.0 63.2,238.9 64.0,238.9 64.8,240.0 65.6,239.7 66.4,239.2 67.2,238.8 68.0,238.1 68.8,238.2 69.6,237.7 70.4,237.9 71.2,237.5 72.0,236.4 72.8,236.3 73.6,236.0 74.3,236.1 75.1,235.9 75.9,235.1 76.7,235.5 77.5,235.3 78.3,234.7 79.1,234.4 79.9,233.6 80.7,232.3 81.5,231.9 82.3,231.8 83.1,231.7 83.9,231.1 84.7,229.3 85.5,228.4 86.3,228.2 87.1,228.3 87.9,228.5 88.7,227.8 89.5,227.6 90.2,227.7 91.0,226.2 91.8,225.7 92.6,224.9 93.4,224.7 94.2,224.8 95.0,224.2 95.8,223.8 96.6,223.1 97.4,222.6 98.2,221.5 99.0,221.0 99.8,220.0 100.6,218.4 101.4,218.1 102.2,217.7 103.0,216.7 103.8,216.5 104.6,215.1 105.4,215.4 106.1,216.1 106.9,215.4 107.7,214.7 108.5,213.5 109.3,211.2 110.1,210.4 110.9,210.7 111.7,209.8 112.5,210.3 113.3,210.1 114.1,208.8 114.9,208.4 115.7,208.6 116.5,208.1 117.3,208.4 118.1,208.6 118.9,207.5 119.7,206.7 120.5,206.9 121.3,207.1 122.0,206.6 122.8,206.3 123.6,205.9 124.4,205.6 125.2,205.7 126.0,206.2 126.8,206.6 127.6,205.8 128.4,205.9 129.2,205.9 130.0,205.4 130.8,205.7 131.6,205.2 132.4,205.0 133.2,205.5 134.0,205.4 134.8,205.0 135.6,203.5 136.4,204.3 137.2,205.2 137.9,204.4 138.7,203.8 139.5,203.7 140.3,204.9 141.1,204.0 141.9,203.2 142.7,203.5 143.5,203.4 144.3,203.5 145.1,202.9 145.9,201.8 146.7,201.0 147.5,201.3 148.3,201.1 149.1,200.7 149.9,200.5 150.7,200.0 151.5,199.5 152.3,199.5 153.1,199.4 153.8,198.8 154.6,198.5 155.4,198.6 156.2,197.7 157.0,197.3 157.8,197.4 158.6,196.9 159.4,196.4 160.2,197.1 161.0,196.4 161.8,195.4 162.6,196.3 163.4,195.9 164.2,194.3 165.0,193.9 165.8,194.9 166.6,195.1 167.4,193.8 168.2,194.0 169.0,194.4 169.7,193.7 170.5,192.7 171.3,192.6 172.1,192.8 172.9,192.9 173.7,193.7 174.5,193.1 175.3,192.7 176.1,193.9 176.9,194.2 177.7,193.6 178.5,194.4 179.3,194.9 180.1,194.9 180.9,195.4 181.7,195.9 182.5,196.0 183.3,195.9 184.1,196.1 184.9,195.9 185.6,195.9 186.4,195.7 187.2,195.0 188.0,195.3 188.8,194.8 189.6,193.5 190.4,193.2 191.2,194.4 192.0,194.3 192.8,193.5 193.6,193.9 194.4,194.0 195.2,193.9 196.0,193.0 196.8,192.6 197.6,193.2 198.4,193.6 199.2,193.5 200.0,193.0 200.8,192.2 201.5,193.0 202.3,194.0 203.1,194.0 203.9,194.7 204.7,194.9 205.5,195.0 206.3,196.3 207.1,197.5 207.9,197.2 208.7,197.4" fill="none" stroke="#dd8452" stroke-width="1.30" stroke-linejoin="round"/>
<polygon points="34.6,218.4 35.4,221.0 36.2,222.2 37.0,220.7 37.8,222.4 38.6,226.0 39.4,225.5 40.2,226.9 41.0,228.0 41.8,227.5 42.5,230.1 43.3,233.0 44.1,234.0 44.9,235.9 45.7,235.2 46.5,234.2 47.3,236.5 48.1,237.9 48.9,236.9 49.7,235.2 50.5,236.3 51.3,238.1 52.1,238.9 52.9,236.9 53.7,235.9 54.5,235.8 55.3,237.2 56.1,239.4 56.9,239.4 57.7,238.9 58.4,238.6 59.2,236.9 60.0,233.8 60.8,234.1 61.6,235.8 62.4,234.7 63.2,231.5 64.0,232.2 64.8,233.7 65.6,232.0 66.4,232.6 67.2,234.0 68.0,235.0 68.8,235.4 69.6,233.6 70.4,233.3 71.2,233.8 72.0,233.6 72.8,234.1 73.6,234.1 74.3,232.4 75.1,232.1 75.9,232.8 76.7,231.9 77.5,231.3 78.3,231.0 79.1,230.7 79.9,229.2 80.7,227.9 81.5,228.9 82.3,228.2 83.1,226.8 83.9,226.3 84.7,226.2 85.5,225.8 86.3,224.7 87.1,224.3 87.9,223.4 88.7,221.7 89.5,223.6 90.2,222.7 91.0,222.0 91.8,224.4 92.6,223.7 93.4,222.5 94.2,220.7 95.0,221.5 95.8,221.0 96.6,219.2 97.4,218.8 98.2,216.9 99.0,218.0 99.8,222.3 100.6,222.3 101.4,220.6 102.2,219.8 103.0,217.5 103.8,218.7 104.6,221.5 105.4,220.1 106.1,217.9 106.9,220.0 107.7,219.4 108.5,216.1 109.3,216.1 110.1,216.2 110.9,217.7 111.7,217.6 112.5,214.6 113.3,212.9 114.1,213.4 114.9,215.8 115.7,216.5 116.5,214.6 117.3,213.0 118.1,214.5 118.9,217.2 119.7,217.0 120.5,216.5 121.3,214.4 122.0,212.5 122.8,214.0 123.6,214.1 124.4,210.6 125.2,208.8 126.0,213.5 126.8,214.5 127.6,212.4 128.4,213.6 129.2,212.4 130.0,208.1 130.8,207.1 131.6,210.0 132.4,211.1 133.2,209.6 134.0,208.1 134.8,209.8 135.6,212.4 136.4,209.3 137.2,207.1 137.9,207.1 138.7,206.9 139.5,207.3 140.3,208.3 141.1,208.3 141.9,205.9 142.7,206.6 143.5,208.1 144.3,207.9 145.1,207.1 145.9,207.7 146.7,206.9 147.5,204.7 148.3,205.0 149.1,207.1 149.9,206.3 150.7,204.6 151.5,205.6 152.3,207.7 153.1,205.9 153.8,203.3 154.6,204.8 155.4,206.6 156.2,207.5 157.0,204.5 157.8,201.0 158.6,200.5 159.4,201.7 160.2,201.6 161.0,200.8 161.8,201.5 162.6,202.1 163.4,200.9 164.2,200.5 165.0,200.4 165.8,199.7 166.6,201.3 167.4,200.6 168.2,200.9 169.0,202.6 169.7,200.8 170.5,199.9 171.3,204.5 172.1,205.2 172.9,202.0 173.7,201.7 174.5,204.3 175.3,206.8 176.1,204.8 176.9,204.7 177.7,203.5 178.5,203.2 179.3,203.4 180.1,202.2 180.9,204.8 181.7,205.9 182.5,205.0 183.3,203.8 184.1,201.7 184.9,201.6 185.6,201.8 186.4,201.7 187.2,204.6 188.0,204.4 188.8,201.3 189.6,200.4 190.4,201.1 191.2,200.3 192.0,197.6 192.8,197.8 193.6,199.3 194.4,199.1 195.2,196.3 196.0,195.8 196.8,196.1 197.6,194.7 198.4,194.6 199.2,195.3 200.0,195.7 200.8,194.3 201.5,194.2 202.3,194.7 203.1,195.4 203.9,195.7 204.7,196.1 205.5,195.9 206.3,195.6 207.1,195.8 207.9,196.7 208.7,198.0 208.7,209.5 207.9,209.5 207.1,209.4 206.3,208.0 205.5,206.8 204.7,205.6 203.9,205.9 203.1,207.3 202.3,206.9 201.5,207.3 200.8,209.0 200.0,209.6 199.2,209.1 198.4,209.6 197.6,208.6 196.8,208.4 196.0,209.6 195.2,209.6 194.4,211.2 193.6,211.7 192.8,212.3 192.0,213.2 191.2,212.3 190.4,212.0 189.6,213.5 188.8,213.8 188.0,215.3 187.2,215.6 186.4,215.1 185.6,216.2 184.9,216.7 184.1,215.6 183.3,214.4 182.5,215.6 181.7,216.8 180.9,215.7 180.1,214.9 179.3,216.7 178.5,217.2 177.7,216.4 176.9,218.0 176.1,218.1 175.3,217.5 174.5,218.6 173.7,218.6 172.9,216.8 172.1,217.6 171.3,218.3 170.5,215.4 169.7,216.3 169.0,214.9 168.2,214.0 167.4,215.1 166.6,215.4 165.8,216.7 165.0,215.5 164.2,214.1 163.4,214.4 162.6,216.2 161.8,216.3 161.0,216.4 160.2,216.4 159.4,213.9 158.6,216.1 157.8,218.7 157.0,217.2 156.2,218.1 155.4,220.4 154.6,221.0 153.8,219.8 153.1,217.7 152.3,219.3 151.5,220.4 150.7,218.1 149.9,221.0 149.1,224.1 148.3,222.8 147.5,220.2 146.7,221.0 145.9,221.3 145.1,222.7 144.3,224.4 143.5,223.1 142.7,224.3 141.9,222.9 141.1,223.7 140.3,225.2 139.5,222.1 138.7,223.7 137.9,225.8 137.2,226.3 136.4,226.3 135.6,223.4 134.8,224.2 134.0,227.4 133.2,227.7 132.4,226.8 131.6,226.7 130.8,225.8 130.0,226.3 129.2,226.6 128.4,224.4 127.6,224.5 126.8,228.5 126.0,229.8 125.2,228.3 124.4,226.6 123.6,226.4 122.8,227.6 122.0,228.9 121.3,229.7 120.5,230.4 119.7,230.0 118.9,231.5 118.1,231.5 117.3,230.1 116.5,231.2 115.7,231.1 114.9,232.0 114.1,231.8 113.3,232.3 112.5,231.9 111.7,232.1 110.9,233.4 110.1,232.4 109.3,233.0 108.5,233.5 107.7,233.3 106.9,233.4 106.1,233.5 105.4,234.1 104.6,234.6 103.8,233.5 103.0,233.6 102.2,233.5 101.4,234.4 100.6,235.3 99.8,237.0 99.0,237.2 98.2,233.7 97.4,234.9 96.6,237.6 95.8,238.2 95.0,238.1 94.2,236.9 93.4,236.3 92.6,236.8 91.8,236.5 91.0,237.5 90.2,238.3 89.5,236.6 88.7,236.7 87.9,238.1 87.1,239.1 86.3,240.3 85.5,239.5 84.7,240.8 83.9,241.4 83.1,240.5 82.3,241.7 81.5,241.6 80.7,240.8 79.9,242.2 79.1,242.6 78.3,242.8 77.5,245.4 76.7,244.7 75.9,242.3 75.1,244.1 74.3,245.7 73.6,246.4 72.8,245.8 72.0,244.9 71.2,245.3 70.4,244.6 69.6,245.6 68.8,246.3 68.0,246.4 67.2,246.1 66.4,245.3 65.6,247.0 64.8,247.1 64.0,246.1 63.2,247.3 62.4,247.2 61.6,247.0 60.8,246.2 60.0,246.6 59.2,249.0 58.4,249.6 57.7,249.7 56.9,251.4 56.1,252.5 55.3,250.1 54.5,247.8 53.7,247.1 52.9,248.3 52.1,249.6 51.3,248.8 50.5,249.0 49.7,248.8 48.9,249.2 48.1,249.0 47.3,246.8 46.5,244.9 45.7,245.3 44.9,246.1 44.1,244.6 43.3,245.6 42.5,242.9 41.8,240.0 41.0,240.3 40.2,238.9 39.4,236.8 38.6,235.7 37.8,234.2 37.0,231.9 36.2,233.0 35.4,233.7 34.6,230.9" fill="#4c72b0" fill-opacity="0.30"/>
<polyline points="34.6,224.1 35.4,226.4 36.2,226.9 37.0,226.6 37.8,228.7 38.6,230.8 39.4,231.5 40.2,232.2 41.0,233.6 41.8,235.0 42.5,236.6 43.3,238.1 44.1,239.0 44.9,240.3 45.7,241.0 46.5,241.4 47.3,242.1 48.1,242.8 48.9,242.8 49.7,242.8 50.5,242.6 51.3,242.8 52.1,243.2 52.9,242.2 53.7,242.6 54.5,243.6 55.3,244.9 56.1,245.1 56.9,244.6 57.7,245.1 58.4,244.1 59.2,242.4 60.0,240.6 60.8,240.0 61.6,240.9 62.4,240.9 63.2,239.7 64.0,239.3 64.8,239.9 65.6,239.8 66.4,239.5 67.2,239.5 68.0,240.0 68.8,240.5 69.6,239.5 70.4,239.1 71.2,239.0 72.0,238.0 72.8,238.1 73.6,238.5 74.3,238.4 75.1,238.5 75.9,238.0 76.7,238.1 77.5,238.6 78.3,237.2 79.1,236.1 79.9,235.8 80.7,235.2 81.5,235.1 82.3,234.4 83.1,233.7 83.9,233.9 84.7,233.3 85.5,232.7 86.3,232.7 87.1,230.8 87.9,230.5 88.7,230.6 89.5,230.4 90.2,230.6 91.0,230.1 91.8,229.9 92.6,230.0 93.4,230.4 94.2,229.5 95.0,229.6 95.8,229.9 96.6,228.6 97.4,228.2 98.2,228.7 99.0,228.7 99.8,227.9 100.6,227.3 101.4,227.0 102.2,226.7 103.0,225.6 103.8,225.5 104.6,227.1 105.4,226.6 106.1,225.4 106.9,225.2 107.7,225.7 108.5,225.0 109.3,224.0 110.1,224.4 110.9,224.9 111.7,224.4 112.5,223.5 113.3,222.8 114.1,222.8 114.9,223.8 115.7,223.3 116.5,223.0 117.3,222.6 118.1,222.5 118.9,222.5 119.7,221.9 120.5,221.6 121.3,221.6 122.0,221.7 122.8,221.3 123.6,220.9 124.4,220.6 125.2,220.2 126.0,221.2 126.8,220.8 127.6,218.9 128.4,218.5 129.2,218.6 130.0,218.3 130.8,218.6 131.6,219.3 132.4,218.4 133.2,217.1 134.0,217.0 134.8,217.0 135.6,216.9 136.4,216.9 137.2,216.7 137.9,216.5 138.7,216.2 139.5,216.5 140.3,216.7 141.1,215.8 141.9,215.4 142.7,216.6 143.5,216.1 144.3,215.8 145.1,214.8 145.9,213.2 146.7,213.5 147.5,213.9 148.3,214.5 149.1,214.1 149.9,213.4 150.7,213.4 151.5,213.2 152.3,212.3 153.1,211.9 153.8,212.4 154.6,213.4 155.4,212.7 156.2,211.8 157.0,211.3 157.8,209.9 158.6,209.0 159.4,209.2 160.2,209.0 161.0,207.9 161.8,208.0 162.6,208.2 163.4,207.6 164.2,207.5 165.0,208.0 165.8,208.4 166.6,208.3 167.4,208.6 168.2,208.7 169.0,209.0 169.7,209.2 170.5,209.1 171.3,210.7 172.1,211.1 172.9,211.0 173.7,211.0 174.5,210.6 175.3,211.2 176.1,211.0 176.9,211.2 177.7,211.2 178.5,210.7 179.3,210.8 180.1,210.6 180.9,210.8 181.7,210.6 182.5,210.5 183.3,210.3 184.1,209.4 184.9,209.0 185.6,209.2 186.4,207.9 187.2,207.4 188.0,208.2 188.8,208.0 189.6,207.1 190.4,206.6 191.2,206.4 192.0,206.1 192.8,205.9 193.6,205.1 194.4,204.3 195.2,203.7 196.0,203.8 196.8,203.0 197.6,202.6 198.4,202.8 199.2,201.8 200.0,202.1 200.8,202.1 201.5,201.5 202.3,202.2 203.1,202.0 203.9,201.4 204.7,201.8 205.5,202.2 206.3,201.9 207.1,201.7 207.9,202.3 208.7,203.2" fill="none" stroke="#4c72b0" stroke-width="1.30" stroke-linejoin="round"/>
</g>
<rect x="26.70" y="182.60" width="190.60" height="109.00" fill="none" stroke="#dcdcdc" stroke-width="1.00"/>
<text x="34.60" y="303.50" font-size="8.10" text-anchor="middle" textLength="4.5" lengthAdjust="spacingAndGlyphs" fill="#262626" stroke="#262626" stroke-width="0.15">0</text>
<text x="69.42" y="303.50" font-size="8.10" text-anchor="middle" textLength="13.5" lengthAdjust="spacingAndGlyphs" fill="#262626" stroke="#262626" stroke-width="0.15">200</text>
<text x="104.24" y="303.50" font-size="8.10" text-anchor="middle" textLength="13.5" lengthAdjust="spacingAndGlyphs" fill="#262626" stroke="#262626" stroke-width="0.15">400</text>
<text x="139.06" y="303.50" font-size="8.10" text-anchor="middle" textLength="13.5" lengthAdjust="spacingAndGlyphs" fill="#262626" stroke="#262626" stroke-width="0.15">600</text>
<text x="173.88" y="303.50" font-size="8.10" text-anchor="middle" textLength="13.5" lengthAdjust="spacingAndGlyphs" fill="#262626" stroke="#262626" stroke-width="0.15">800</text>
<text x="208.70" y="303.50" font-size="8.10" text-anchor="middle" textLength="18.0" lengthAdjust="spacingAndGlyphs" fill="#262626" stroke="#262626" stroke-width="0.15">1000</text>
<text x="20.50" y="294.90" font-size="8.10" text-anchor="end" textLength="11.3" lengthAdjust="spacingAndGlyphs" fill="#262626" stroke="#262626" stroke-width="0.15">0.0</text>
<text x="20.50" y="270.55" font-size="8.10" text-anchor="end" textLength="11.3" lengthAdjust="spacingAndGlyphs" fill="#262626" stroke="#262626" stroke-width="0.15">0.2</text>
<text x="20.50" y="246.20" font-size="8.10" text-anchor="end" textLength="11.3" lengthAdjust="spacingAndGlyphs" fill="#262626" stroke="#262626" stroke-width="0.15">0.4</text>
<text x="20.50" y="221.85" font-size="8.10" text-anchor="end" textLength="11.3" lengthAdjust="spacingAndGlyphs" fill="#262626" stroke="#262626" stroke-width="0.15">0.6</text>
<text x="20.50" y="197.50" font-size="8.10" text-anchor="end" textLength="11.3" lengthAdjust="spacingAndGlyphs" fill="#262626" stroke="#262626" stroke-width="0.15">0.8</text>
<text x="122.20" y="179.30" font-size="8.10" text-anchor="middle" textLength="35.4" lengthAdjust="spacingAndGlyphs" fill="#262626" stroke="#262626" stroke-width="0.15">FourRoom</text>
<text x="122.20" y="312.10" font-size="8.10" text-anchor="middle" textLength="30.6" lengthAdjust="spacingAndGlyphs" fill="#262626" stroke="#262626" stroke-width="0.15">Episodes</text>
<text x="0" y="0" font-size="8.10" text-anchor="middle" textLength="72.3" lengthAdjust="spacingAndGlyphs" fill="#262626" stroke="#262626" stroke-width="0.15" transform="translate(5.92,237.20) rotate(-90)">Normalized Rewards</text>
<clipPath id="clip5"><rect x="262.40" y="181.50" width="187.80" height="107.80"/></clipPath>
<line x1="270.70" y1="181.50" x2="270.70" y2="289.30" stroke="#e4e5e7" stroke-width="1.00"/>
<line x1="304.88" y1="181.50" x2="304.88" y2="289.30" stroke="#e4e5e7" stroke-width="1.00"/>
<line x1="339.06" y1="181.50" x2="339.06" y2="289.30" stroke="#e4e5e7" stroke-width="1.00"/>
<line x1="373.24" y1="181.50" x2="373.24" y2="289.30" stroke="#e4e5e7" stroke-width="1.00"/>
<line x1="407.42" y1="181.50" x2="407.42" y2="289.30" stroke="#e4e5e7" stroke-width="1.00"/>
<line x1="441.60" y1="181.50" x2="441.60" y2="289.30" stroke="#e4e5e7" stroke-width="1.00"/>
<line x1="262.40" y1="284.70" x2="450.20" y2="284.70" stroke="#e4e5e7" stroke-width="1.00"/>
<line x1="262.40" y1="264.60" x2="450.20" y2="264.60" stroke="#e4e5e7" stroke-width="1.00"/>
<line x1="262.40" y1="244.50" x2="450.20" y2="244.50" stroke="#e4e5e7" stroke-width="1.00"/>
<line x1="262.40" y1="224.40" x2="450.20" y2="224.40" stroke="#e4e5e7" stroke-width="1.00"/>
<line x1="262.40" y1="204.30" x2="450.20" y2="204.30" stroke="#e4e5e7" stroke-width="1.00"/>
<line x1="262.40" y1="184.20" x2="450.20" y2="184.20" stroke="#e4e5e7" stroke-width="1.00"/>
<g clip-path="url(#clip5)">
<polygon points="270.7,284.3 271.5,284.3 272.3,284.3 273.0,284.3 273.8,284.3 274.6,284.3 275.4,284.3 276.2,284.3 276.9,284.3 277.7,284.3 278.5,284.3 279.3,284.3 280.1,284.3 280.8,284.3 281.6,284.3 282.4,284.3 283.2,284.3 284.0,284.3 284.7,284.3 285.5,284.3 286.3,284.3 287.1,284.3 287.9,284.3 288.6,284.3 289.4,284.3 290.2,284.3 291.0,284.3 291.8,284.3 292.6,284.3 293.3,284.3 294.1,284.3 294.9,284.3 295.7,284.3 296.5,284.3 297.2,284.3 298.0,284.3 298.8,284.3 299.6,284.3 300.4,284.3 301.1,284.3 301.9,284.3 302.7,284.3 303.5,284.3 304.3,284.3 305.0,284.3 305.8,284.3 306.6,284.3 307.4,284.3 308.2,284.3 308.9,284.3 309.7,284.3 310.5,284.3 311.3,284.3 312.1,284.3 312.8,284.3 313.6,284.3 314.4,284.3 315.2,284.3 316.0,284.3 316.7,284.3 317.5,284.3 318.3,284.3 319.1,284.3 319.9,284.3 320.6,284.3 321.4,284.3 322.2,284.3 323.0,284.3 323.8,284.3 324.5,284.3 325.3,284.3 326.1,284.3 326.9,284.3 327.7,284.3 328.4,284.3 329.2,284.3 330.0,284.3 330.8,284.3 331.6,284.3 332.3,284.3 333.1,284.3 333.9,284.3 334.7,284.3 335.5,284.3 336.3,284.3 337.0,284.3 337.8,284.3 338.6,284.3 339.4,284.3 340.2,284.3 340.9,284.3 341.7,284.3 342.5,284.3 343.3,284.3 344.1,284.3 344.8,284.3 345.6,284.3 346.4,284.3 347.2,284.3 348.0,284.3 348.7,284.3 349.5,284.3 350.3,284.3 351.1,284.3 351.9,284.3 352.6,284.3 353.4,284.3 354.2,284.3 355.0,284.3 355.8,284.3 356.5,284.3 357.3,284.3 358.1,284.3 358.9,284.3 359.7,284.3 360.4,284.3 361.2,284.3 362.0,284.3 362.8,284.3 363.6,284.3 364.3,284.3 365.1,284.3 365.9,284.3 366.7,284.3 367.5,284.3 368.2,284.3 369.0,284.3 369.8,284.3 370.6,284.3 371.4,284.3 372.1,284.3 372.9,284.3 373.7,284.3 374.5,284.3 375.3,284.3 376.0,284.3 376.8,284.3 377.6,284.3 378.4,284.3 379.2,284.3 380.0,284.3 380.7,284.3 381.5,284.3 382.3,284.3 383.1,284.3 383.9,284.3 384.6,284.3 385.4,284.3 386.2,284.3 387.0,284.3 387.8,284.3 388.5,284.3 389.3,284.3 390.1,284.3 390.9,284.3 391.7,284.3 392.4,284.3 393.2,284.3 394.0,284.3 394.8,284.3 395.6,284.3 396.3,284.3 397.1,284.3 397.9,284.3 398.7,284.3 399.5,284.3 400.2,284.3 401.0,284.3 401.8,284.3 402.6,284.3 403.4,284.3 404.1,284.3 404.9,284.3 405.7,284.3 406.5,284.3 407.3,284.3 408.0,284.3 408.8,284.3 409.6,284.3 410.4,284.3 411.2,284.3 411.9,284.3 412.7,284.3 413.5,284.3 414.3,284.3 415.1,284.3 415.8,284.3 416.6,284.3 417.4,284.3 418.2,284.3 419.0,284.3 419.7,284.3 420.5,284.3 421.3,284.3 422.1,284.3 422.9,284.3 423.7,284.3 424.4,284.3 425.2,284.3 426.0,284.3 426.8,284.3 427.6,284.3 428.3,284.3 429.1,284.3 429.9,284.3 430.7,284.3 431.5,284.3 432.2,284.3 433.0,284.3 433.8,284.3 434.6,284.3 435.4,284.3 436.1,284.3 436.9,284.3 437.7,284.3 438.5,284.3 439.3,284.3 440.0,284.3 440.8,284.3 441.6,284.3 441.6,285.1 440.8,285.1 440.0,285.1 439.3,285.1 438.5,285.1 437.7,285.1 436.9,285.1 436.1,285.1 435.4,285.1 434.6,285.1 433.8,285.1 433.0,285.1 432.2,285.1 431.5,285.1 430.7,285.1 429.9,285.1 429.1,285.1 428.3,285.1 427.6,285.1 426.8,285.1 426.0,285.1 425.2,285.1 424.4,285.1 423.7,285.1 422.9,285.1 422.1,285.1 421.3,285.1 420.5,285.1 419.7,285.1 419.0,285.1 418.2,285.1 417.4,285.1 416.6,285.1 415.8,285.1 415.1,285.1 414.3,285.1 413.5,285.1 412.7,285.1 411.9,285.1 411.2,285.1 410.4,285.1 409.6,285.1 408.8,285.1 408.0,285.1 407.3,285.1 406.5,285.1 405.7,285.1 404.9,285.1 404.1,285.1 403.4,285.1 402.6,285.1 401.8,285.1 401.0,285.1 400.2,285.1 399.5,285.1 398.7,285.1 397.9,285.1 397.1,285.1 396.3,285.1 395.6,285.1 394.8,285.1 394.0,285.1 393.2,285.1 392.4,285.1 391.7,285.1 390.9,285.1 390.1,285.1 389.3,285.1 388.5,285.1 387.8,285.1 387.0,285.1 386.2,285.1 385.4,285.1 384.6,285.1 383.9,285.1 383.1,285.1 382.3,285.1 381.5,285.1 380.7,285.1 380.0,285.1 379.2,285.1 378.4,285.1 377.6,285.1 376.8,285.1 376.0,285.1 375.3,285.1 374.5,285.1 373.7,285.1 372.9,285.1 372.1,285.1 371.4,285.1 370.6,285.1 369.8,285.1 369.0,285.1 368.2,285.1 367.5,285.1 366.7,285.1 365.9,285.1 365.1,285.1 364.3,285.1 363.6,285.1 362.8,285.1 362.0,285.1 361.2,285.1 360.4,285.1 359.7,285.1 358.9,285.1 358.1,285.1 357.3,285.1 356.5,285.1 355.8,285.1 355.0,285.1 354.2,285.1 353.4,285.1 352.6,285.1 351.9,285.1 351.1,285.1 350.3,285.1 349.5,285.1 348.7,285.1 348.0,285.1 347.2,285.1 346.4,285.1 345.6,285.1 344.8,285.1 344.1,285.1 343.3,285.1 342.5,285.1 341.7,285.1 340.9,285.1 340.2,285.1 339.4,285.1 338.6,285.1 337.8,285.1 337.0,285.1 336.3,285.1 335.5,285.1 334.7,285.1 333.9,285.1 333.1,285.1 332.3,285.1 331.6,285.1 330.8,285.1 330.0,285.1 329.2,285.1 328.4,285.1 327.7,285.1 326.9,285.1 326.1,285.1 325.3,285.1 324.5,285.1 323.8,285.1 323.0,285.1 322.2,285.1 321.4,285.1 320.6,285.1 319.9,285.1 319.1,285.1 318.3,285.1 317.5,285.1 316.7,285.1 316.0,285.1 315.2,285.1 314.4,285.1 313.6,285.1 312.8,285.1 312.1,285.1 311.3,285.1 310.5,285.1 309.7,285.1 308.9,285.1 308.2,285.1 307.4,285.1 306.6,285.1 305.8,285.1 305.0,285.1 304.3,285.1 303.5,285.1 302.7,285.1 301.9,285.1 301.1,285.1 300.4,285.1 299.6,285.1 298.8,285.1 298.0,285.1 297.2,285.1 296.5,285.1 295.7,285.1 294.9,285.1 294.1,285.1 293.3,285.1 292.6,285.1 291.8,285.1 291.0,285.1 290.2,285.1 289.4,285.1 288.6,285.1 287.9,285.1 287.1,285.1 286.3,285.1 285.5,285.1 284.7,285.1 284.0,285.1 283.2,285.1 282.4,285.1 281.6,285.1 280.8,285.1 280.1,285.1 279.3,285.1 278.5,285.1 277.7,285.1 276.9,285.1 276.2,285.1 275.4,285.1 274.6,285.1 273.8,285.1 273.0,285.1 272.3,285.1 271.5,285.1 270.7,285.1" fill="#55a868" fill-opacity="0.36"/>
<polyline points="270.7,284.7 271.5,284.7 272.3,284.7 273.0,284.7 273.8,284.7 274.6,284.7 275.4,284.7 276.2,284.7 276.9,284.7 277.7,284.7 278.5,284.7 279.3,284.7 280.1,284.7 280.8,284.7 281.6,284.7 282.4,284.7 283.2,284.7 284.0,284.7 284.7,284.7 285.5,284.7 286.3,284.7 287.1,284.7 287.9,284.7 288.6,284.7 289.4,284.7 290.2,284.7 291.0,284.7 291.8,284.7 292.6,284.7 293.3,284.7 294.1,284.7 294.9,284.7 295.7,284.7 296.5,284.7 297.2,284.7 298.0,284.7 298.8,284.7 299.6,284.7 300.4,284.7 301.1,284.7 301.9,284.7 302.7,284.7 303.5,284.7 304.3,284.7 305.0,284.7 305.8,284.7 306.6,284.7 307.4,284.7 308.2,284.7 308.9,284.7 309.7,284.7 310.5,284.7 311.3,284.7 312.1,284.7 312.8,284.7 313.6,284.7 314.4,284.7 315.2,284.7 316.0,284.7 316.7,284.7 317.5,284.7 318.3,284.7 319.1,284.7 319.9,284.7 320.6,284.7 321.4,284.7 322.2,284.7 323.0,284.7 323.8,284.7 324.5,284.7 325.3,284.7 326.1,284.7 326.9,284.7 327.7,284.7 328.4,284.7 329.2,284.7 330.0,284.7 330.8,284.7 331.6,284.7 332.3,284.7 333.1,284.7 333.9,284.7 334.7,284.7 335.5,284.7 336.3,284.7 337.0,284.7 337.8,284.7 338.6,284.7 339.4,284.7 340.2,284.7 340.9,284.7 341.7,284.7 342.5,284.7 343.3,284.7 344.1,284.7 344.8,284.7 345.6,284.7 346.4,284.7 347.2,284.7 348.0,284.7 348.7,284.7 349.5,284.7 350.3,284.7 351.1,284.7 351.9,284.7 352.6,284.7 353.4,284.7 354.2,284.7 355.0,284.7 355.8,284.7 356.5,284.7 357.3,284.7 358.1,284.7 358.9,284.7 359.7,284.7 360.4,284.7 361.2,284.7 362.0,284.7 362.8,284.7 363.6,284.7 364.3,284.7 365.1,284.7 365.9,284.7 366.7,284.7 367.5,284.7 368.2,284.7 369.0,284.7 369.8,284.7 370.6,284.7 371.4,284.7 372.1,284.7 372.9,284.7 373.7,284.7 374.5,284.7 375.3,284.7 376.0,284.7 376.8,284.7 377.6,284.7 378.4,284.7 379.2,284.7 380.0,284.7 380.7,284.7 381.5,284.7 382.3,284.7 383.1,284.7 383.9,284.7 384.6,284.7 385.4,284.7 386.2,284.7 387.0,284.7 387.8,284.7 388.5,284.7 389.3,284.7 390.1,284.7 390.9,284.7 391.7,284.7 392.4,284.7 393.2,284.7 394.0,284.7 394.8,284.7 395.6,284.7 396.3,284.7 397.1,284.7 397.9,284.7 398.7,284.7 399.5,284.7 400.2,284.7 401.0,284.7 401.8,284.7 402.6,284.7 403.4,284.7 404.1,284.7 404.9,284.7 405.7,284.7 406.5,284.7 407.3,284.7 408.0,284.7 408.8,284.7 409.6,284.7 410.4,284.7 411.2,284.7 411.9,284.7 412.7,284.7 413.5,284.7 414.3,284.7 415.1,284.7 415.8,284.7 416.6,284.7 417.4,284.7 418.2,284.7 419.0,284.7 419.7,284.7 420.5,284.7 421.3,284.7 422.1,284.7 422.9,284.7 423.7,284.7 424.4,284.7 425.2,284.7 426.0,284.7 426.8,284.7 427.6,284.7 428.3,284.7 429.1,284.7 429.9,284.7 430.7,284.7 431.5,284.7 432.2,284.7 433.0,284.7 433.8,284.7 434.6,284.7 435.4,284.7 436.1,284.7 436.9,284.7 437.7,284.7 438.5,284.7 439.3,284.7 440.0,284.7 440.8,284.7 441.6,284.7" fill="none" stroke="#55a868" stroke-width="1.30" stroke-linejoin="round"/>
<polygon points="270.7,250.8 271.1,247.9 271.6,247.8 272.0,247.2 272.4,247.6 272.8,248.5 273.3,248.8 273.7,247.9 274.1,248.6 274.6,248.9 275.0,248.7 275.4,248.8 275.8,250.2 276.3,248.7 276.7,250.3 277.1,250.8 277.6,249.8 278.0,249.0 278.4,250.1 278.8,249.6 279.3,250.8 279.7,249.8 280.1,248.7 280.6,249.7 281.0,249.9 281.4,249.2 281.8,248.6 282.3,246.1 282.7,246.6 283.1,246.4 283.5,244.6 284.0,243.7 284.4,241.9 284.8,242.7 285.3,240.9 285.7,240.7 286.1,240.9 286.5,240.2 287.0,238.8 287.4,239.2 287.8,238.4 288.3,238.5 288.7,237.8 289.1,237.6 289.5,236.4 290.0,237.1 290.4,235.9 290.8,235.1 291.3,234.6 291.7,234.7 292.1,234.3 292.5,234.0 293.0,233.5 293.4,233.0 293.8,232.9 294.3,232.2 294.7,230.8 295.1,230.5 295.5,232.4 296.0,231.7 296.4,230.9 296.8,230.7 297.3,229.1 297.7,228.5 298.1,229.4 298.5,229.7 299.0,229.4 299.4,229.1 299.8,228.2 300.3,227.7 300.7,227.0 301.1,227.7 301.5,226.9 302.0,227.0 302.4,225.9 302.8,226.1 303.3,224.6 303.7,225.6 304.1,225.8 304.5,223.9 305.0,223.9 305.4,223.5 305.8,222.5 306.3,222.1 306.7,223.7 307.1,222.3 307.5,222.7 308.0,222.2 308.4,221.2 308.8,221.5 309.2,220.9 309.7,219.8 310.1,219.5 310.5,218.3 311.0,218.7 311.4,218.7 311.8,216.6 312.2,217.4 312.7,217.4 313.1,216.9 313.5,215.9 314.0,215.3 314.4,215.6 314.8,215.7 315.2,215.4 315.7,214.0 316.1,215.1 316.5,213.7 317.0,213.1 317.4,214.3 317.8,213.5 318.2,212.4 318.7,213.9 319.1,211.0 319.5,211.7 320.0,210.7 320.4,209.6 320.8,209.6 321.2,210.4 321.7,209.6 322.1,208.4 322.5,208.3 323.0,208.2 323.4,208.2 323.8,208.6 324.2,208.4 324.7,207.9 325.1,207.7 325.5,206.9 326.0,207.0 326.4,205.8 326.8,206.6 327.2,205.7 327.7,205.8 328.1,206.0 328.5,203.7 329.0,204.0 329.4,203.6 329.8,203.9 330.2,203.3 330.7,203.2 331.1,203.0 331.5,203.4 331.9,203.2 332.4,202.4 332.8,202.0 333.2,202.1 333.7,200.4 334.1,203.0 334.5,201.6 334.9,201.2 335.4,200.7 335.8,200.3 336.2,200.8 336.7,201.4 337.1,198.4 337.5,200.2 337.9,198.3 338.4,199.0 338.8,200.4 339.2,199.1 339.7,198.5 340.1,199.8 340.5,198.6 340.9,198.9 341.4,198.7 341.8,197.8 342.2,199.5 342.7,198.4 343.1,197.6 343.5,197.6 343.9,197.4 344.4,195.6 344.8,197.3 345.2,195.5 345.7,197.4 346.1,195.9 346.5,196.6 346.9,195.2 347.4,196.0 347.8,195.6 348.2,195.3 348.7,194.0 349.1,196.3 349.5,195.5 349.9,193.9 350.4,194.2 350.8,195.3 351.2,195.5 351.7,194.6 352.1,194.5 352.5,194.4 352.9,195.3 353.4,194.0 353.8,194.0 354.2,193.6 354.7,193.3 355.1,194.2 355.5,192.3 355.9,192.7 356.4,193.7 356.8,193.5 357.2,191.8 357.6,192.5 358.1,194.0 358.5,192.5 358.9,193.1 359.4,194.1 359.8,193.3 360.2,193.1 360.6,192.4 361.1,192.6 361.5,192.8 361.9,193.0 362.4,193.2 362.8,193.4 363.2,192.1 363.6,192.3 364.1,191.6 364.5,192.6 364.9,193.0 365.4,193.0 365.8,192.7 366.2,192.9 366.6,192.5 367.1,192.2 367.5,190.1 367.9,192.1 368.4,192.6 368.8,192.6 369.2,191.1 369.6,190.8 370.1,192.5 370.5,192.3 370.9,190.8 371.4,190.4 371.8,190.6 372.2,190.5 372.6,190.7 373.1,191.3 373.5,192.0 373.9,190.2 374.4,190.8 374.8,191.1 375.2,190.4 375.6,191.6 376.1,190.8 376.5,189.5 376.9,190.4 377.4,189.9 377.8,188.9 378.2,189.3 378.6,190.4 379.1,190.3 379.5,190.9 379.9,189.8 380.4,190.0 380.8,189.6 381.2,189.8 381.6,189.6 382.1,189.9 382.5,188.3 382.9,188.1 383.3,189.2 383.8,188.7 384.2,188.0 384.6,188.5 385.1,188.3 385.5,188.0 385.9,188.5 386.3,188.7 386.8,188.2 387.2,188.1 387.6,188.2 388.1,188.8 388.5,188.8 388.9,188.5 389.3,188.7 389.8,188.1 390.2,188.8 390.6,188.6 391.1,188.8 391.5,186.9 391.9,188.3 392.3,187.5 392.8,187.3 393.2,187.7 393.6,187.0 394.1,187.4 394.5,187.7 394.9,188.2 395.3,189.0 395.8,189.1 396.2,187.4 396.6,187.8 397.1,187.1 397.5,187.5 397.9,187.0 398.3,188.0 398.8,187.1 399.2,186.8 399.6,187.4 400.1,187.4 400.5,188.1 400.9,188.6 401.3,187.2 401.8,188.4 402.2,187.6 402.6,186.3 403.1,188.5 403.5,188.1 403.9,187.2 404.3,186.4 404.8,187.3 405.2,186.7 405.6,186.8 406.0,186.2 406.5,185.8 406.9,186.5 407.3,187.9 407.8,187.3 408.2,187.3 408.6,186.2 409.0,187.3 409.5,187.0 409.9,186.7 410.3,187.2 410.8,187.5 411.2,187.7 411.6,187.7 412.0,187.4 412.5,186.0 412.9,186.1 413.3,185.7 413.8,186.5 414.2,187.8 414.6,187.3 415.0,186.8 415.5,187.2 415.9,187.7 416.3,185.6 416.8,187.5 417.2,187.1 417.6,186.4 418.0,186.5 418.5,187.8 418.9,186.3 419.3,186.6 419.8,186.4 420.2,186.1 420.6,186.9 421.0,185.6 421.5,186.4 421.9,186.7 422.3,186.3 422.8,186.0 423.2,187.1 423.6,186.6 424.0,187.4 424.5,186.7 424.9,186.5 425.3,186.5 425.8,185.2 426.2,185.5 426.6,187.8 427.0,186.6 427.5,185.8 427.9,186.5 428.3,185.4 428.8,185.6 429.2,185.2 429.6,186.2 430.0,184.6 430.5,184.7 430.9,185.1 431.3,187.2 431.7,185.8 432.2,186.3 432.6,185.0 433.0,184.7 433.5,185.2 433.9,186.4 434.3,185.5 434.7,185.9 435.2,185.4 435.6,184.5 436.0,185.3 436.5,186.3 436.9,185.3 437.3,185.8 437.7,185.8 438.2,184.1 438.6,185.9 439.0,185.3 439.5,186.6 439.9,185.3 440.3,184.4 440.7,184.2 441.2,185.8 441.6,186.0 441.6,187.3 441.2,186.0 440.7,186.5 440.3,187.4 439.9,186.3 439.5,188.4 439.0,187.8 438.6,187.9 438.2,186.4 437.7,188.3 437.3,187.9 436.9,187.8 436.5,188.6 436.0,186.9 435.6,186.3 435.2,187.4 434.7,188.1 434.3,187.4 433.9,188.3 433.5,186.6 433.0,186.5 432.6,186.6 432.2,188.3 431.7,189.6 431.3,188.9 430.9,187.0 430.5,188.9 430.0,187.4 429.6,186.8 429.2,188.2 428.8,188.4 428.3,187.8 427.9,188.5 427.5,187.9 427.0,189.0 426.6,189.6 426.2,187.4 425.8,188.5 425.3,188.4 424.9,188.4 424.5,189.2 424.0,188.4 423.6,188.2 423.2,187.9 422.8,188.7 422.3,188.2 421.9,188.0 421.5,189.9 421.0,187.6 420.6,188.3 420.2,188.8 419.8,188.4 419.3,188.8 418.9,188.2 418.5,189.1 418.0,188.8 417.6,188.8 417.2,189.2 416.8,188.1 416.3,188.6 415.9,188.6 415.5,189.0 415.0,187.5 414.6,189.9 414.2,189.2 413.8,188.6 413.3,188.5 412.9,188.5 412.5,188.9 412.0,189.5 411.6,189.7 411.2,190.3 410.8,189.6 410.3,190.0 409.9,188.2 409.5,189.3 409.0,190.1 408.6,187.1 408.2,190.7 407.8,189.1 407.3,189.4 406.9,188.5 406.5,189.5 406.0,188.3 405.6,189.4 405.2,189.1 404.8,189.5 404.3,189.1 403.9,189.8 403.5,189.6 403.1,189.4 402.6,189.6 402.2,189.5 401.8,188.5 401.3,188.7 400.9,189.4 400.5,189.1 400.1,188.0 399.6,190.0 399.2,188.8 398.8,189.3 398.3,190.2 397.9,189.8 397.5,188.9 397.1,189.9 396.6,190.3 396.2,189.2 395.8,190.6 395.3,191.0 394.9,191.1 394.5,189.4 394.1,190.1 393.6,190.2 393.2,190.1 392.8,189.9 392.3,189.9 391.9,190.2 391.5,189.3 391.1,189.8 390.6,191.4 390.2,191.7 389.8,190.2 389.3,191.7 388.9,190.6 388.5,191.1 388.1,192.2 387.6,189.6 387.2,190.5 386.8,191.8 386.3,191.4 385.9,190.1 385.5,190.1 385.1,192.0 384.6,190.7 384.2,190.9 383.8,191.5 383.3,193.2 382.9,190.0 382.5,191.6 382.1,191.5 381.6,191.4 381.2,192.4 380.8,191.3 380.4,191.0 379.9,192.1 379.5,193.0 379.1,191.9 378.6,192.2 378.2,191.5 377.8,192.3 377.4,193.2 376.9,192.7 376.5,192.7 376.1,193.5 375.6,192.8 375.2,192.2 374.8,193.7 374.4,192.3 373.9,193.2 373.5,194.8 373.1,194.1 372.6,193.6 372.2,192.5 371.8,193.4 371.4,193.8 370.9,193.1 370.5,193.7 370.1,194.2 369.6,193.8 369.2,194.8 368.8,194.7 368.4,193.9 367.9,193.8 367.5,193.6 367.1,194.1 366.6,194.6 366.2,194.9 365.8,194.3 365.4,194.8 364.9,194.6 364.5,197.1 364.1,194.7 363.6,194.8 363.2,194.0 362.8,195.1 362.4,196.0 361.9,196.0 361.5,196.4 361.1,195.7 360.6,196.2 360.2,195.7 359.8,196.0 359.4,196.4 358.9,196.8 358.5,196.3 358.1,197.2 357.6,195.5 357.2,195.3 356.8,196.9 356.4,197.2 355.9,196.3 355.5,196.1 355.1,197.8 354.7,197.7 354.2,197.7 353.8,197.3 353.4,197.4 352.9,198.9 352.5,198.1 352.1,197.9 351.7,198.0 351.2,198.8 350.8,199.1 350.4,198.4 349.9,198.8 349.5,198.8 349.1,199.2 348.7,198.6 348.2,200.3 347.8,199.8 347.4,199.6 346.9,198.9 346.5,201.0 346.1,200.8 345.7,200.8 345.2,200.3 344.8,201.4 344.4,198.8 343.9,200.8 343.5,201.2 343.1,202.2 342.7,201.9 342.2,202.3 341.8,202.5 341.4,201.8 340.9,202.7 340.5,201.9 340.1,202.7 339.7,202.1 339.2,203.2 338.8,205.1 338.4,203.0 337.9,203.6 337.5,203.6 337.1,202.8 336.7,205.5 336.2,204.3 335.8,205.0 335.4,206.3 334.9,206.1 334.5,205.8 334.1,206.1 333.7,206.4 333.2,205.7 332.8,206.9 332.4,205.9 331.9,207.2 331.5,207.8 331.1,207.0 330.7,207.9 330.2,208.0 329.8,207.8 329.4,208.2 329.0,207.8 328.5,207.9 328.1,209.6 327.7,210.7 327.2,210.2 326.8,211.0 326.4,209.6 326.0,211.6 325.5,209.9 325.1,211.9 324.7,212.5 324.2,212.3 323.8,212.1 323.4,212.9 323.0,212.7 322.5,213.4 322.1,212.9 321.7,213.5 321.2,215.5 320.8,213.3 320.4,213.9 320.0,214.9 319.5,215.4 319.1,215.5 318.7,217.5 318.2,216.3 317.8,216.5 317.4,217.3 317.0,217.7 316.5,217.8 316.1,218.3 315.7,217.8 315.2,218.4 314.8,219.8 314.4,220.0 314.0,220.3 313.5,220.4 313.1,219.3 312.7,222.2 312.2,221.4 311.8,221.7 311.4,223.5 311.0,223.2 310.5,222.8 310.1,224.0 309.7,223.5 309.2,224.2 308.8,225.9 308.4,225.0 308.0,225.6 307.5,226.2 307.1,226.7 306.7,224.9 306.3,227.0 305.8,227.3 305.4,228.5 305.0,228.1 304.5,228.2 304.1,228.9 303.7,230.2 303.3,229.5 302.8,229.8 302.4,230.5 302.0,230.6 301.5,231.4 301.1,231.0 300.7,231.9 300.3,232.0 299.8,232.3 299.4,231.8 299.0,233.4 298.5,233.4 298.1,232.7 297.7,232.5 297.3,234.0 296.8,233.8 296.4,234.9 296.0,236.1 295.5,235.2 295.1,234.3 294.7,236.3 294.3,236.1 293.8,237.5 293.4,236.8 293.0,237.1 292.5,237.9 292.1,238.4 291.7,239.0 291.3,239.2 290.8,239.2 290.4,241.0 290.0,241.5 289.5,241.1 289.1,241.3 288.7,242.5 288.3,241.5 287.8,242.1 287.4,243.5 287.0,243.5 286.5,245.3 286.1,245.0 285.7,244.6 285.3,244.4 284.8,246.5 284.4,245.4 284.0,247.2 283.5,247.8 283.1,250.9 282.7,250.3 282.3,251.2 281.8,252.8 281.4,252.4 281.0,254.4 280.6,254.0 280.1,253.5 279.7,254.2 279.3,253.8 278.8,253.7 278.4,254.7 278.0,253.4 277.6,253.2 277.1,253.6 276.7,253.8 276.3,253.1 275.8,253.1 275.4,252.3 275.0,252.8 274.6,252.1 274.1,252.3 273.7,252.4 273.3,250.8 272.8,251.9 272.4,249.7 272.0,250.6 271.6,250.6 271.1,251.5 270.7,252.6" fill="#dd8452" fill-opacity="0.35"/>
<polyline points="270.7,251.9 271.1,249.8 271.6,249.8 272.0,249.2 272.4,248.2 272.8,250.2 273.3,249.3 273.7,250.5 274.1,250.3 274.6,250.4 275.0,250.8 275.4,250.8 275.8,251.4 276.3,251.3 276.7,251.9 277.1,251.7 277.6,252.3 278.0,251.6 278.4,252.5 278.8,251.7 279.3,252.2 279.7,252.2 280.1,251.5 280.6,252.0 281.0,252.6 281.4,250.7 281.8,251.1 282.3,248.5 282.7,247.9 283.1,247.6 283.5,246.2 284.0,245.8 284.4,244.1 284.8,244.6 285.3,242.9 285.7,242.6 286.1,243.0 286.5,242.5 287.0,241.1 287.4,241.2 287.8,240.6 288.3,240.3 288.7,240.2 289.1,239.4 289.5,239.3 290.0,239.1 290.4,238.1 290.8,236.8 291.3,236.5 291.7,236.8 292.1,236.3 292.5,235.8 293.0,235.0 293.4,235.0 293.8,235.0 294.3,234.5 294.7,233.4 295.1,232.4 295.5,233.4 296.0,233.7 296.4,232.0 296.8,232.1 297.3,231.7 297.7,230.9 298.1,231.1 298.5,231.4 299.0,231.4 299.4,230.2 299.8,230.5 300.3,229.5 300.7,229.9 301.1,229.3 301.5,229.5 302.0,228.7 302.4,228.4 302.8,227.7 303.3,227.0 303.7,227.4 304.1,227.4 304.5,225.8 305.0,226.2 305.4,225.7 305.8,225.4 306.3,224.6 306.7,224.4 307.1,224.2 307.5,223.7 308.0,224.0 308.4,223.5 308.8,222.9 309.2,222.3 309.7,221.9 310.1,221.4 310.5,221.1 311.0,220.9 311.4,221.0 311.8,219.5 312.2,219.2 312.7,219.5 313.1,218.4 313.5,218.1 314.0,217.9 314.4,218.4 314.8,217.7 315.2,217.1 315.7,215.7 316.1,216.4 316.5,215.8 317.0,215.8 317.4,215.2 317.8,214.4 318.2,215.2 318.7,215.1 319.1,213.2 319.5,213.2 320.0,213.1 320.4,212.1 320.8,211.7 321.2,212.8 321.7,211.6 322.1,210.8 322.5,211.3 323.0,210.8 323.4,209.9 323.8,210.2 324.2,210.3 324.7,209.8 325.1,209.8 325.5,208.7 326.0,209.4 326.4,207.9 326.8,208.8 327.2,207.8 327.7,208.2 328.1,207.4 328.5,206.5 329.0,206.2 329.4,205.9 329.8,206.2 330.2,205.9 330.7,205.6 331.1,205.1 331.5,205.4 331.9,204.4 332.4,204.5 332.8,203.9 333.2,204.0 333.7,203.7 334.1,204.1 334.5,203.7 334.9,203.9 335.4,203.2 335.8,202.9 336.2,202.2 336.7,203.0 337.1,200.7 337.5,202.1 337.9,201.2 338.4,201.1 338.8,202.6 339.2,201.3 339.7,200.4 340.1,201.9 340.5,200.3 340.9,200.9 341.4,200.5 341.8,200.0 342.2,200.8 342.7,199.7 343.1,199.9 343.5,199.7 343.9,198.9 344.4,197.5 344.8,198.7 345.2,198.5 345.7,198.6 346.1,198.7 346.5,198.1 346.9,197.4 347.4,197.8 347.8,197.4 348.2,197.7 348.7,196.3 349.1,198.1 349.5,196.9 349.9,196.8 350.4,196.8 350.8,197.3 351.2,197.1 351.7,196.6 352.1,196.3 352.5,196.8 352.9,196.6 353.4,195.7 353.8,195.4 354.2,196.0 354.7,196.0 355.1,195.9 355.5,194.3 355.9,195.1 356.4,195.3 356.8,194.7 357.2,194.0 357.6,194.4 358.1,195.5 358.5,194.8 358.9,194.8 359.4,194.7 359.8,195.0 360.2,194.6 360.6,194.8 361.1,194.1 361.5,194.2 361.9,194.7 362.4,194.8 362.8,194.2 363.2,193.6 363.6,193.6 364.1,193.8 364.5,195.2 364.9,193.8 365.4,193.9 365.8,193.6 366.2,194.0 366.6,193.5 367.1,193.6 367.5,192.0 367.9,192.8 368.4,193.1 368.8,193.0 369.2,193.0 369.6,192.8 370.1,193.0 370.5,192.7 370.9,192.2 371.4,192.2 371.8,192.4 372.2,191.8 372.6,192.3 373.1,192.7 373.5,193.0 373.9,192.5 374.4,192.1 374.8,191.8 375.2,191.4 375.6,192.1 376.1,192.1 376.5,191.3 376.9,191.0 377.4,191.7 377.8,191.2 378.2,190.7 378.6,191.1 379.1,191.1 379.5,192.0 379.9,190.3 380.4,190.6 380.8,190.7 381.2,190.9 381.6,191.2 382.1,190.6 382.5,190.5 382.9,189.8 383.3,190.8 383.8,189.5 384.2,190.1 384.6,189.5 385.1,190.4 385.5,189.7 385.9,189.3 386.3,189.7 386.8,190.3 387.2,189.8 387.6,189.3 388.1,190.1 388.5,190.1 388.9,189.3 389.3,189.8 389.8,189.0 390.2,189.8 390.6,190.0 391.1,189.5 391.5,188.5 391.9,189.5 392.3,189.1 392.8,188.9 393.2,189.4 393.6,188.5 394.1,188.9 394.5,188.7 394.9,189.7 395.3,189.7 395.8,190.1 396.2,188.9 396.6,188.9 397.1,188.4 397.5,188.1 397.9,188.8 398.3,188.8 398.8,188.5 399.2,188.0 399.6,189.0 400.1,188.3 400.5,188.7 400.9,188.7 401.3,188.2 401.8,188.9 402.2,189.0 402.6,188.2 403.1,188.5 403.5,188.6 403.9,188.5 404.3,188.2 404.8,188.6 405.2,188.0 405.6,188.1 406.0,187.6 406.5,187.7 406.9,187.9 407.3,188.3 407.8,188.2 408.2,188.5 408.6,186.9 409.0,188.2 409.5,187.9 409.9,187.5 410.3,188.7 410.8,188.4 411.2,188.2 411.6,188.4 412.0,188.5 412.5,188.2 412.9,187.3 413.3,187.6 413.8,187.8 414.2,187.8 414.6,188.6 415.0,187.5 415.5,187.6 415.9,188.2 416.3,187.6 416.8,187.8 417.2,187.9 417.6,188.1 418.0,187.9 418.5,188.0 418.9,187.4 419.3,187.4 419.8,187.4 420.2,187.6 420.6,187.6 421.0,186.5 421.5,188.3 421.9,186.8 422.3,187.2 422.8,187.3 423.2,187.5 423.6,187.4 424.0,187.8 424.5,187.9 424.9,187.3 425.3,187.9 425.8,186.8 426.2,186.6 426.6,188.7 427.0,187.8 427.5,186.9 427.9,186.9 428.3,187.0 428.8,186.8 429.2,186.6 429.6,186.5 430.0,186.1 430.5,186.9 430.9,186.5 431.3,187.6 431.7,186.9 432.2,187.3 432.6,186.1 433.0,185.7 433.5,186.5 433.9,187.3 434.3,186.7 434.7,186.6 435.2,186.5 435.6,186.1 436.0,186.1 436.5,187.7 436.9,185.9 437.3,186.7 437.7,186.7 438.2,185.8 438.6,186.5 439.0,187.0 439.5,186.9 439.9,186.3 440.3,185.9 440.7,185.6 441.2,186.3 441.6,186.4" fill="none" stroke="#dd8452" stroke-width="1.30" stroke-linejoin="round"/>
<polygon points="270.7,261.8 271.1,262.6 271.6,261.6 272.0,261.6 272.4,262.4 272.8,260.5 273.3,260.9 273.7,261.4 274.1,262.4 274.6,261.9 275.0,261.2 275.4,262.4 275.8,262.0 276.3,263.0 276.7,261.1 277.1,262.3 277.6,263.0 278.0,261.4 278.4,263.0 278.8,262.5 279.3,262.1 279.7,264.7 280.1,262.2 280.6,262.3 281.0,261.9 281.4,259.7 281.8,259.7 282.3,258.7 282.7,261.3 283.1,257.6 283.5,258.6 284.0,258.4 284.4,256.2 284.8,255.9 285.3,256.9 285.7,255.9 286.1,257.7 286.5,255.1 287.0,256.0 287.4,254.3 287.8,254.0 288.3,253.8 288.7,254.1 289.1,253.6 289.5,251.9 290.0,251.3 290.4,251.3 290.8,251.8 291.3,248.6 291.7,249.8 292.1,248.3 292.5,245.7 293.0,250.0 293.4,247.7 293.8,247.9 294.3,245.6 294.7,245.5 295.1,244.1 295.5,245.7 296.0,243.1 296.4,243.6 296.8,242.4 297.3,242.5 297.7,242.8 298.1,240.6 298.5,240.2 299.0,241.7 299.4,237.1 299.8,237.6 300.3,237.8 300.7,237.6 301.1,236.4 301.5,235.1 302.0,237.4 302.4,235.9 302.8,236.3 303.3,233.8 303.7,234.0 304.1,233.9 304.5,233.0 305.0,232.5 305.4,232.1 305.8,230.9 306.3,231.1 306.7,230.0 307.1,229.2 307.5,229.7 308.0,229.6 308.4,227.8 308.8,229.6 309.2,228.2 309.7,228.1 310.1,228.0 310.5,228.1 311.0,228.1 311.4,226.8 311.8,227.9 312.2,225.9 312.7,227.3 313.1,225.2 313.5,224.4 314.0,225.4 314.4,223.8 314.8,223.8 315.2,225.6 315.7,223.8 316.1,224.6 316.5,221.9 317.0,222.6 317.4,223.1 317.8,222.5 318.2,220.7 318.7,223.0 319.1,219.7 319.5,223.8 320.0,221.7 320.4,222.0 320.8,221.6 321.2,222.8 321.7,221.6 322.1,221.9 322.5,220.4 323.0,221.8 323.4,220.8 323.8,220.4 324.2,220.2 324.7,219.5 325.1,220.6 325.5,221.0 326.0,220.5 326.4,219.2 326.8,220.2 327.2,220.2 327.7,219.6 328.1,219.0 328.5,218.3 329.0,218.7 329.4,219.0 329.8,217.9 330.2,218.1 330.7,217.8 331.1,218.2 331.5,216.7 331.9,218.0 332.4,217.2 332.8,216.1 333.2,218.1 333.7,217.5 334.1,217.0 334.5,215.9 334.9,214.0 335.4,216.3 335.8,217.1 336.2,214.1 336.7,214.3 337.1,215.1 337.5,213.7 337.9,214.9 338.4,215.3 338.8,213.6 339.2,212.1 339.7,213.0 340.1,213.2 340.5,212.1 340.9,213.2 341.4,212.0 341.8,212.6 342.2,211.4 342.7,211.0 343.1,212.7 343.5,210.0 343.9,211.4 344.4,212.0 344.8,211.4 345.2,212.5 345.7,211.9 346.1,212.2 346.5,210.8 346.9,209.7 347.4,209.9 347.8,210.4 348.2,210.5 348.7,209.0 349.1,208.5 349.5,209.8 349.9,208.5 350.4,209.2 350.8,208.1 351.2,209.9 351.7,207.9 352.1,209.3 352.5,207.7 352.9,207.0 353.4,207.2 353.8,206.3 354.2,206.3 354.7,205.8 355.1,206.1 355.5,206.2 355.9,207.0 356.4,208.4 356.8,207.6 357.2,207.2 357.6,207.4 358.1,206.6 358.5,206.8 358.9,205.7 359.4,205.9 359.8,207.0 360.2,207.1 360.6,205.1 361.1,205.3 361.5,206.4 361.9,205.6 362.4,205.6 362.8,205.0 363.2,206.2 363.6,204.9 364.1,204.9 364.5,205.6 364.9,205.9 365.4,204.4 365.8,206.3 366.2,204.1 366.6,204.1 367.1,204.4 367.5,205.4 367.9,202.8 368.4,204.1 368.8,204.5 369.2,204.9 369.6,204.1 370.1,203.6 370.5,203.1 370.9,204.2 371.4,203.1 371.8,203.4 372.2,203.7 372.6,203.2 373.1,203.1 373.5,202.9 373.9,203.2 374.4,202.8 374.8,202.8 375.2,203.2 375.6,203.3 376.1,204.0 376.5,202.0 376.9,201.6 377.4,203.4 377.8,203.1 378.2,203.2 378.6,205.3 379.1,201.6 379.5,202.0 379.9,202.7 380.4,202.8 380.8,201.6 381.2,201.2 381.6,203.0 382.1,203.2 382.5,202.2 382.9,202.8 383.3,202.2 383.8,202.9 384.2,202.5 384.6,202.3 385.1,204.8 385.5,201.7 385.9,203.3 386.3,201.7 386.8,202.6 387.2,202.7 387.6,201.5 388.1,202.0 388.5,203.0 388.9,202.2 389.3,201.9 389.8,202.7 390.2,203.5 390.6,201.0 391.1,203.1 391.5,203.0 391.9,201.2 392.3,201.8 392.8,202.7 393.2,202.5 393.6,201.9 394.1,202.2 394.5,202.6 394.9,200.3 395.3,201.5 395.8,200.2 396.2,201.7 396.6,200.5 397.1,200.5 397.5,201.7 397.9,202.1 398.3,200.0 398.8,200.5 399.2,200.7 399.6,200.5 400.1,200.6 400.5,197.9 400.9,199.6 401.3,199.4 401.8,200.1 402.2,198.5 402.6,200.5 403.1,199.8 403.5,200.2 403.9,200.0 404.3,199.0 404.8,200.5 405.2,200.9 405.6,199.6 406.0,203.0 406.5,203.3 406.9,202.2 407.3,203.7 407.8,204.7 408.2,204.8 408.6,203.4 409.0,203.2 409.5,205.8 409.9,203.8 410.3,205.0 410.8,203.7 411.2,203.8 411.6,204.0 412.0,204.7 412.5,202.4 412.9,204.8 413.3,205.3 413.8,203.7 414.2,206.3 414.6,205.0 415.0,204.0 415.5,205.6 415.9,203.5 416.3,203.6 416.8,204.2 417.2,205.0 417.6,204.0 418.0,206.1 418.5,204.9 418.9,203.9 419.3,203.6 419.8,203.1 420.2,204.8 420.6,206.0 421.0,203.9 421.5,203.4 421.9,203.6 422.3,203.2 422.8,203.3 423.2,204.5 423.6,204.5 424.0,204.8 424.5,204.8 424.9,204.3 425.3,204.0 425.8,204.1 426.2,204.0 426.6,204.2 427.0,203.5 427.5,204.6 427.9,203.3 428.3,202.7 428.8,202.9 429.2,201.3 429.6,203.3 430.0,203.4 430.5,202.4 430.9,201.6 431.3,202.4 431.7,203.2 432.2,202.3 432.6,202.3 433.0,200.4 433.5,201.8 433.9,201.2 434.3,203.6 434.7,201.5 435.2,203.5 435.6,200.9 436.0,201.2 436.5,202.7 436.9,202.1 437.3,202.9 437.7,202.4 438.2,200.8 438.6,200.1 439.0,203.1 439.5,201.7 439.9,202.3 440.3,201.5 440.7,201.0 441.2,200.9 441.6,201.5 441.6,204.7 441.2,203.6 440.7,205.1 440.3,204.4 439.9,204.7 439.5,203.0 439.0,205.7 438.6,201.7 438.2,204.2 437.7,204.5 437.3,205.4 436.9,203.7 436.5,206.2 436.0,204.7 435.6,204.5 435.2,205.8 434.7,203.7 434.3,204.6 433.9,203.1 433.5,205.1 433.0,204.4 432.6,204.3 432.2,206.0 431.7,204.9 431.3,206.0 430.9,203.7 430.5,205.4 430.0,207.3 429.6,206.7 429.2,206.1 428.8,205.5 428.3,204.7 427.9,207.7 427.5,207.2 427.0,207.0 426.6,207.1 426.2,207.0 425.8,207.3 425.3,205.6 424.9,206.4 424.5,205.8 424.0,207.7 423.6,206.5 423.2,207.8 422.8,205.0 422.3,205.2 421.9,207.6 421.5,207.0 421.0,207.3 420.6,208.0 420.2,207.6 419.8,205.7 419.3,206.9 418.9,206.3 418.5,206.4 418.0,208.3 417.6,207.4 417.2,207.7 416.8,209.0 416.3,208.1 415.9,206.4 415.5,208.3 415.0,207.9 414.6,208.6 414.2,210.1 413.8,208.3 413.3,208.5 412.9,207.8 412.5,207.2 412.0,207.2 411.6,207.5 411.2,208.1 410.8,206.9 410.3,207.7 409.9,206.8 409.5,208.6 409.0,207.5 408.6,206.9 408.2,207.1 407.8,206.3 407.3,206.7 406.9,205.0 406.5,207.2 406.0,205.4 405.6,204.1 405.2,204.2 404.8,203.7 404.3,201.4 403.9,204.1 403.5,203.4 403.1,203.1 402.6,204.1 402.2,202.0 401.8,204.3 401.3,202.9 400.9,204.0 400.5,201.9 400.1,203.0 399.6,204.1 399.2,203.3 398.8,201.3 398.3,204.9 397.9,204.6 397.5,204.5 397.1,203.3 396.6,205.2 396.2,204.7 395.8,204.7 395.3,204.8 394.9,204.2 394.5,205.6 394.1,205.5 393.6,205.6 393.2,205.9 392.8,207.4 392.3,205.5 391.9,205.1 391.5,207.7 391.1,207.2 390.6,205.2 390.2,206.8 389.8,205.2 389.3,205.1 388.9,206.7 388.5,206.2 388.1,207.7 387.6,205.3 387.2,205.9 386.8,206.7 386.3,205.0 385.9,206.2 385.5,206.3 385.1,208.3 384.6,206.2 384.2,205.7 383.8,206.5 383.3,206.7 382.9,206.5 382.5,206.5 382.1,205.9 381.6,206.1 381.2,204.1 380.8,205.2 380.4,206.6 379.9,205.6 379.5,207.5 379.1,205.7 378.6,206.9 378.2,206.3 377.8,207.0 377.4,205.8 376.9,205.4 376.5,206.9 376.1,206.9 375.6,206.7 375.2,205.5 374.8,206.1 374.4,207.7 373.9,207.2 373.5,208.1 373.1,205.7 372.6,207.3 372.2,208.8 371.8,206.1 371.4,207.4 370.9,207.1 370.5,208.4 370.1,208.7 369.6,209.3 369.2,208.6 368.8,208.6 368.4,205.8 367.9,208.3 367.5,210.3 367.1,208.8 366.6,209.2 366.2,207.1 365.8,209.2 365.4,209.6 364.9,210.6 364.5,210.5 364.1,208.4 363.6,209.4 363.2,210.3 362.8,209.0 362.4,209.1 361.9,209.0 361.5,209.4 361.1,208.8 360.6,209.5 360.2,209.8 359.8,210.6 359.4,209.7 358.9,209.8 358.5,209.8 358.1,210.3 357.6,210.1 357.2,209.3 356.8,211.0 356.4,211.5 355.9,211.6 355.5,210.6 355.1,208.9 354.7,211.0 354.2,211.5 353.8,209.5 353.4,210.4 352.9,212.2 352.5,211.0 352.1,214.6 351.7,210.9 351.2,214.7 350.8,213.0 350.4,213.0 349.9,212.8 349.5,214.0 349.1,214.1 348.7,213.0 348.2,213.9 347.8,214.4 347.4,212.9 346.9,213.0 346.5,215.7 346.1,215.6 345.7,213.5 345.2,216.4 344.8,215.8 344.4,217.1 343.9,216.3 343.5,214.2 343.1,216.4 342.7,214.3 342.2,216.2 341.8,216.7 341.4,216.4 340.9,216.9 340.5,217.7 340.1,218.2 339.7,217.0 339.2,217.8 338.8,217.0 338.4,218.5 337.9,218.0 337.5,218.3 337.1,220.6 336.7,217.4 336.2,218.1 335.8,221.2 335.4,219.8 334.9,219.5 334.5,218.7 334.1,220.1 333.7,219.6 333.2,222.2 332.8,219.8 332.4,220.9 331.9,222.6 331.5,221.3 331.1,222.2 330.7,221.5 330.2,222.1 329.8,222.6 329.4,221.4 329.0,221.6 328.5,222.6 328.1,223.5 327.7,224.4 327.2,223.7 326.8,224.8 326.4,224.4 326.0,224.5 325.5,224.5 325.1,224.3 324.7,224.5 324.2,224.5 323.8,224.7 323.4,224.7 323.0,224.7 322.5,225.0 322.1,226.4 321.7,226.7 321.2,226.5 320.8,226.0 320.4,225.9 320.0,225.5 319.5,226.2 319.1,224.7 318.7,226.7 318.2,225.5 317.8,227.3 317.4,228.1 317.0,226.6 316.5,226.2 316.1,228.3 315.7,228.3 315.2,229.0 314.8,228.8 314.4,228.6 314.0,229.5 313.5,229.4 313.1,227.2 312.7,230.8 312.2,230.3 311.8,232.6 311.4,231.0 311.0,231.3 310.5,231.2 310.1,231.5 309.7,232.9 309.2,231.5 308.8,232.4 308.4,232.4 308.0,233.6 307.5,232.5 307.1,234.9 306.7,233.9 306.3,234.9 305.8,235.9 305.4,234.4 305.0,236.3 304.5,236.8 304.1,238.6 303.7,236.9 303.3,236.6 302.8,239.3 302.4,237.9 302.0,240.4 301.5,239.7 301.1,239.8 300.7,241.8 300.3,241.0 299.8,242.1 299.4,241.5 299.0,244.6 298.5,243.5 298.1,244.4 297.7,245.7 297.3,248.7 296.8,245.8 296.4,248.2 296.0,247.0 295.5,249.3 295.1,248.7 294.7,249.8 294.3,248.9 293.8,250.4 293.4,252.0 293.0,252.9 292.5,251.8 292.1,251.5 291.7,253.6 291.3,252.9 290.8,254.7 290.4,255.3 290.0,255.1 289.5,255.8 289.1,255.4 288.7,257.3 288.3,256.5 287.8,258.1 287.4,257.9 287.0,259.5 286.5,260.2 286.1,261.1 285.7,259.3 285.3,260.5 284.8,258.9 284.4,259.8 284.0,259.9 283.5,262.7 283.1,262.0 282.7,263.3 282.3,262.8 281.8,263.3 281.4,264.1 281.0,263.9 280.6,265.6 280.1,266.5 279.7,268.2 279.3,266.9 278.8,265.7 278.4,265.8 278.0,264.1 277.6,265.1 277.1,265.0 276.7,265.7 276.3,266.2 275.8,265.0 275.4,264.3 275.0,263.8 274.6,264.2 274.1,266.4 273.7,265.2 273.3,264.9 272.8,264.0 272.4,266.0 272.0,264.6 271.6,264.6 271.1,265.8 270.7,264.6" fill="#4c72b0" fill-opacity="0.30"/>
<polyline points="270.7,263.0 271.1,264.3 271.6,263.2 272.0,263.9 272.4,263.6 272.8,262.1 273.3,262.6 273.7,263.0 274.1,264.4 274.6,263.3 275.0,263.5 275.4,263.6 275.8,262.7 276.3,264.6 276.7,263.4 277.1,263.6 277.6,264.3 278.0,262.8 278.4,264.7 278.8,264.0 279.3,264.0 279.7,265.3 280.1,264.8 280.6,264.3 281.0,263.0 281.4,262.2 281.8,261.6 282.3,261.3 282.7,262.3 283.1,260.3 283.5,260.3 284.0,258.9 284.4,258.4 284.8,257.4 285.3,258.0 285.7,257.5 286.1,258.3 286.5,257.2 287.0,257.6 287.4,255.9 287.8,256.7 288.3,255.6 288.7,255.5 289.1,254.8 289.5,253.7 290.0,253.8 290.4,252.8 290.8,253.0 291.3,251.0 291.7,251.7 292.1,250.1 292.5,248.9 293.0,251.1 293.4,249.7 293.8,248.7 294.3,247.3 294.7,247.7 295.1,246.7 295.5,246.8 296.0,245.4 296.4,246.0 296.8,244.2 297.3,246.0 297.7,244.7 298.1,241.9 298.5,242.4 299.0,242.5 299.4,240.0 299.8,240.1 300.3,239.5 300.7,239.9 301.1,238.7 301.5,238.2 302.0,239.0 302.4,237.0 302.8,237.0 303.3,235.5 303.7,235.0 304.1,235.7 304.5,235.2 305.0,234.2 305.4,233.5 305.8,233.6 306.3,233.0 306.7,232.1 307.1,231.8 307.5,230.9 308.0,231.0 308.4,231.3 308.8,231.5 309.2,229.6 309.7,230.0 310.1,229.7 310.5,229.3 311.0,229.8 311.4,228.8 311.8,229.9 312.2,228.2 312.7,228.3 313.1,226.3 313.5,226.9 314.0,227.1 314.4,226.6 314.8,226.0 315.2,226.7 315.7,226.2 316.1,226.0 316.5,224.1 317.0,225.3 317.4,226.4 317.8,224.5 318.2,223.2 318.7,225.2 319.1,222.3 319.5,224.3 320.0,223.5 320.4,224.3 320.8,223.9 321.2,224.4 321.7,224.1 322.1,224.6 322.5,222.4 323.0,223.7 323.4,222.6 323.8,222.5 324.2,223.0 324.7,222.4 325.1,222.4 325.5,222.5 326.0,222.0 326.4,221.9 326.8,222.4 327.2,222.4 327.7,222.0 328.1,221.2 328.5,220.3 329.0,220.1 329.4,220.6 329.8,220.1 330.2,220.4 330.7,219.6 331.1,220.0 331.5,219.6 331.9,219.8 332.4,219.4 332.8,217.9 333.2,219.6 333.7,218.6 334.1,218.7 334.5,217.4 334.9,216.6 335.4,217.6 335.8,218.9 336.2,216.5 336.7,216.2 337.1,217.4 337.5,216.3 337.9,215.9 338.4,217.1 338.8,215.0 339.2,215.0 339.7,214.9 340.1,215.6 340.5,215.2 340.9,215.0 341.4,214.1 341.8,214.9 342.2,213.2 342.7,213.8 343.1,215.2 343.5,212.7 343.9,213.5 344.4,213.8 344.8,213.2 345.2,214.3 345.7,212.9 346.1,214.4 346.5,213.4 346.9,211.7 347.4,211.6 347.8,212.4 348.2,212.6 348.7,211.3 349.1,211.7 349.5,211.3 349.9,210.8 350.4,211.6 350.8,210.2 351.2,211.8 351.7,209.3 352.1,210.9 352.5,210.1 352.9,209.9 353.4,208.8 353.8,208.6 354.2,208.7 354.7,208.4 355.1,208.3 355.5,208.5 355.9,209.5 356.4,209.7 356.8,209.6 357.2,208.1 357.6,208.2 358.1,208.1 358.5,207.8 358.9,208.1 359.4,208.5 359.8,208.8 360.2,209.0 360.6,207.0 361.1,207.1 361.5,208.5 361.9,207.8 362.4,207.3 362.8,206.5 363.2,207.9 363.6,207.3 364.1,206.7 364.5,208.4 364.9,207.7 365.4,207.2 365.8,207.5 366.2,205.7 366.6,206.4 367.1,206.7 367.5,207.3 367.9,206.0 368.4,206.1 368.8,206.7 369.2,206.5 369.6,207.0 370.1,206.0 370.5,205.3 370.9,205.1 371.4,205.3 371.8,205.0 372.2,205.8 372.6,205.7 373.1,204.6 373.5,205.0 373.9,205.7 374.4,204.8 374.8,204.5 375.2,204.5 375.6,204.8 376.1,205.2 376.5,204.5 376.9,203.6 377.4,204.5 377.8,205.0 378.2,204.3 378.6,205.3 379.1,204.3 379.5,204.6 379.9,203.8 380.4,204.3 380.8,203.6 381.2,202.8 381.6,204.4 382.1,204.8 382.5,204.0 382.9,204.3 383.3,204.2 383.8,204.7 384.2,203.9 384.6,204.2 385.1,205.6 385.5,204.4 385.9,204.1 386.3,203.5 386.8,204.6 387.2,204.8 387.6,203.6 388.1,204.7 388.5,204.2 388.9,204.0 389.3,203.8 389.8,204.3 390.2,205.0 390.6,203.6 391.1,204.5 391.5,204.5 391.9,202.9 392.3,203.5 392.8,204.7 393.2,204.2 393.6,203.9 394.1,204.1 394.5,204.7 394.9,202.9 395.3,202.8 395.8,203.0 396.2,203.3 396.6,202.7 397.1,202.4 397.5,203.3 397.9,202.7 398.3,202.8 398.8,201.9 399.2,202.0 399.6,202.9 400.1,202.4 400.5,200.8 400.9,202.4 401.3,201.6 401.8,202.0 402.2,200.7 402.6,201.4 403.1,201.6 403.5,202.0 403.9,201.4 404.3,200.9 404.8,201.3 405.2,203.2 405.6,202.1 406.0,203.9 406.5,205.1 406.9,204.9 407.3,205.7 407.8,205.7 408.2,205.9 408.6,205.6 409.0,206.0 409.5,206.8 409.9,205.5 410.3,206.2 410.8,205.2 411.2,205.7 411.6,205.7 412.0,206.0 412.5,205.3 412.9,206.4 413.3,206.8 413.8,206.0 414.2,208.0 414.6,206.5 415.0,206.2 415.5,206.6 415.9,205.5 416.3,205.9 416.8,206.2 417.2,206.5 417.6,205.6 418.0,206.6 418.5,206.4 418.9,205.7 419.3,205.7 419.8,204.8 420.2,206.1 420.6,207.1 421.0,205.4 421.5,205.0 421.9,205.8 422.3,204.7 422.8,204.5 423.2,205.9 423.6,205.7 424.0,206.2 424.5,205.0 424.9,204.8 425.3,204.8 425.8,205.8 426.2,205.4 426.6,205.7 427.0,205.7 427.5,205.4 427.9,205.4 428.3,204.4 428.8,203.9 429.2,203.6 429.6,203.9 430.0,204.2 430.5,203.7 430.9,203.2 431.3,203.6 431.7,203.4 432.2,203.5 432.6,203.6 433.0,203.3 433.5,204.0 433.9,202.6 434.3,204.3 434.7,203.0 435.2,204.1 435.6,202.4 436.0,202.8 436.5,203.8 436.9,203.6 437.3,204.0 437.7,203.3 438.2,203.0 438.6,201.7 439.0,204.1 439.5,202.5 439.9,203.7 440.3,203.1 440.7,202.7 441.2,203.0 441.6,203.0" fill="none" stroke="#4c72b0" stroke-width="1.30" stroke-linejoin="round"/>
</g>
<rect x="262.40" y="181.50" width="187.80" height="107.80" fill="none" stroke="#dcdcdc" stroke-width="1.00"/>
<text x="270.70" y="301.97" font-size="9.40" text-anchor="middle" textLength="5.2" lengthAdjust="spacingAndGlyphs" fill="#262626" stroke="#262626" stroke-width="0.15">0</text>
<text x="304.88" y="301.97" font-size="9.40" text-anchor="middle" textLength="15.7" lengthAdjust="spacingAndGlyphs" fill="#262626" stroke="#262626" stroke-width="0.15">200</text>
<text x="339.06" y="301.97" font-size="9.40" text-anchor="middle" textLength="15.7" lengthAdjust="spacingAndGlyphs" fill="#262626" stroke="#262626" stroke-width="0.15">400</text>
<text x="373.24" y="301.97" font-size="9.40" text-anchor="middle" textLength="15.7" lengthAdjust="spacingAndGlyphs" fill="#262626" stroke="#262626" stroke-width="0.15">600</text>
<text x="407.42" y="301.97" font-size="9.40" text-anchor="middle" textLength="15.7" lengthAdjust="spacingAndGlyphs" fill="#262626" stroke="#262626" stroke-width="0.15">800</text>
<text x="441.60" y="301.97" font-size="9.40" text-anchor="middle" textLength="20.9" lengthAdjust="spacingAndGlyphs" fill="#262626" stroke="#262626" stroke-width="0.15">1000</text>
<text x="256.20" y="287.87" font-size="9.40" text-anchor="end" textLength="13.1" lengthAdjust="spacingAndGlyphs" fill="#262626" stroke="#262626" stroke-width="0.15">0.0</text>
<text x="256.20" y="267.77" font-size="9.40" text-anchor="end" textLength="13.1" lengthAdjust="spacingAndGlyphs" fill="#262626" stroke="#262626" stroke-width="0.15">0.2</text>
<text x="256.20" y="247.67" font-size="9.40" text-anchor="end" textLength="13.1" lengthAdjust="spacingAndGlyphs" fill="#262626" stroke="#262626" stroke-width="0.15">0.4</text>
<text x="256.20" y="227.57" font-size="9.40" text-anchor="end" textLength="13.1" lengthAdjust="spacingAndGlyphs" fill="#262626" stroke="#262626" stroke-width="0.15">0.6</text>
<text x="256.20" y="207.47" font-size="9.40" text-anchor="end" textLength="13.1" lengthAdjust="spacingAndGlyphs" fill="#262626" stroke="#262626" stroke-width="0.15">0.8</text>
<text x="256.20" y="187.37" font-size="9.40" text-anchor="end" textLength="13.1" lengthAdjust="spacingAndGlyphs" fill="#262626" stroke="#262626" stroke-width="0.15">1.0</text>
<text x="356.15" y="177.80" font-size="8.00" text-anchor="middle" textLength="32.9" lengthAdjust="spacingAndGlyphs" fill="#262626" stroke="#262626" stroke-width="0.15">ALFWorld</text>
<text x="356.00" y="312.50" font-size="9.00" text-anchor="middle" textLength="36.2" lengthAdjust="spacingAndGlyphs" fill="#262626" stroke="#262626" stroke-width="0.15">Episodes</text>
<text x="0" y="0" font-size="9.00" text-anchor="middle" textLength="79.6" lengthAdjust="spacingAndGlyphs" fill="#262626" stroke="#262626" stroke-width="0.15" transform="translate(240.34,234.80) rotate(-90)">Normalized Reward</text>
<clipPath id="clip6"><rect x="490.50" y="180.50" width="193.60" height="112.60"/></clipPath>
<line x1="499.40" y1="180.50" x2="499.40" y2="293.10" stroke="#e4e5e7" stroke-width="1.00"/>
<line x1="526.60" y1="180.50" x2="526.60" y2="293.10" stroke="#e4e5e7" stroke-width="1.00"/>
<line x1="553.80" y1="180.50" x2="553.80" y2="293.10" stroke="#e4e5e7" stroke-width="1.00"/>
<line x1="581.00" y1="180.50" x2="581.00" y2="293.10" stroke="#e4e5e7" stroke-width="1.00"/>
<line x1="608.20" y1="180.50" x2="608.20" y2="293.10" stroke="#e4e5e7" stroke-width="1.00"/>
<line x1="635.40" y1="180.50" x2="635.40" y2="293.10" stroke="#e4e5e7" stroke-width="1.00"/>
<line x1="662.60" y1="180.50" x2="662.60" y2="293.10" stroke="#e4e5e7" stroke-width="1.00"/>
<line x1="490.50" y1="288.00" x2="684.10" y2="288.00" stroke="#e4e5e7" stroke-width="1.00"/>
<line x1="490.50" y1="267.92" x2="684.10" y2="267.92" stroke="#e4e5e7" stroke-width="1.00"/>
<line x1="490.50" y1="247.84" x2="684.10" y2="247.84" stroke="#e4e5e7" stroke-width="1.00"/>
<line x1="490.50" y1="227.76" x2="684.10" y2="227.76" stroke="#e4e5e7" stroke-width="1.00"/>
<line x1="490.50" y1="207.68" x2="684.10" y2="207.68" stroke="#e4e5e7" stroke-width="1.00"/>
<line x1="490.50" y1="187.60" x2="684.10" y2="187.60" stroke="#e4e5e7" stroke-width="1.00"/>
<g clip-path="url(#clip6)">
<polygon points="499.4,283.5 500.2,283.6 501.0,283.5 501.8,283.3 502.6,282.9 503.4,282.3 504.2,282.2 505.0,282.1 505.8,281.7 506.6,281.3 507.4,281.0 508.3,280.4 509.1,279.9 509.9,279.6 510.7,279.2 511.5,278.5 512.3,278.0 513.1,277.7 513.9,277.2 514.7,276.8 515.5,276.0 516.3,275.4 517.1,274.7 517.9,274.0 518.7,273.9 519.5,273.9 520.3,272.6 521.1,271.4 521.9,270.4 522.7,269.3 523.5,269.1 524.3,267.9 525.2,266.6 526.0,265.8 526.8,264.9 527.6,263.6 528.4,261.6 529.2,261.0 530.0,259.7 530.8,258.7 531.6,258.5 532.4,258.2 533.2,258.4 534.0,255.7 534.8,253.1 535.6,252.7 536.4,253.4 537.2,253.0 538.0,251.2 538.8,250.4 539.6,249.7 540.4,249.4 541.3,248.9 542.1,248.3 542.9,247.8 543.7,246.4 544.5,246.1 545.3,245.9 546.1,245.2 546.9,244.7 547.7,243.6 548.5,243.1 549.3,243.0 550.1,243.4 550.9,243.4 551.7,241.8 552.5,241.6 553.3,241.8 554.1,241.4 554.9,240.0 555.7,239.3 556.5,239.9 557.3,238.9 558.2,237.5 559.0,237.1 559.8,236.6 560.6,236.3 561.4,236.3 562.2,236.1 563.0,235.7 563.8,235.2 564.6,234.2 565.4,233.3 566.2,232.8 567.0,231.8 567.8,231.1 568.6,231.4 569.4,231.0 570.2,230.0 571.0,229.6 571.8,227.9 572.6,226.4 573.4,225.9 574.2,224.5 575.1,222.1 575.9,220.3 576.7,218.9 577.5,217.3 578.3,216.6 579.1,214.9 579.9,213.1 580.7,212.0 581.5,211.4 582.3,210.2 583.1,208.8 583.9,207.1 584.7,204.9 585.5,202.5 586.3,200.4 587.1,199.4 587.9,198.3 588.7,197.3 589.5,195.4 590.3,193.9 591.1,193.3 592.0,193.3 592.8,193.8 593.6,193.0 594.4,192.6 595.2,192.6 596.0,192.8 596.8,192.2 597.6,191.3 598.4,191.1 599.2,190.9 600.0,192.0 600.8,191.3 601.6,189.6 602.4,190.3 603.2,191.1 604.0,190.5 604.8,190.0 605.6,190.6 606.4,189.5 607.2,188.1 608.1,189.2 608.9,190.6 609.7,190.1 610.5,188.1 611.3,187.9 612.1,188.3 612.9,189.1 613.7,189.5 614.5,189.8 615.3,188.9 616.1,187.8 616.9,189.8 617.7,191.0 618.5,189.6 619.3,188.6 620.1,188.9 620.9,188.7 621.7,187.8 622.5,187.9 623.3,189.2 624.1,189.3 625.0,189.1 625.8,189.2 626.6,188.7 627.4,188.6 628.2,188.9 629.0,188.8 629.8,188.8 630.6,188.7 631.4,188.6 632.2,188.6 633.0,188.6 633.8,188.5 634.6,188.5 635.4,188.6 636.2,188.7 637.0,188.7 637.8,188.8 638.6,188.5 639.4,188.4 640.2,188.7 641.0,188.6 641.9,188.7 642.7,188.6 643.5,188.6 644.3,188.7 645.1,188.8 645.9,188.9 646.7,188.8 647.5,188.5 648.3,188.5 649.1,188.8 649.9,188.7 650.7,188.3 651.5,188.6 652.3,188.9 653.1,188.7 653.9,188.4 654.7,188.6 655.5,188.9 656.3,188.8 657.1,188.5 657.9,188.4 658.8,188.3 659.6,188.3 660.4,188.4 661.2,188.3 662.0,188.3 662.8,188.4 663.6,188.4 664.4,188.5 665.2,188.3 666.0,188.3 666.8,188.4 667.6,188.3 668.4,188.1 669.2,188.2 670.0,188.3 670.8,188.2 671.6,187.8 672.4,188.0 673.2,188.5 674.0,188.4 674.9,188.3 675.7,188.4 675.7,190.3 674.9,190.2 674.0,190.0 673.2,190.2 672.4,190.2 671.6,190.2 670.8,190.1 670.0,190.0 669.2,190.0 668.4,190.0 667.6,190.0 666.8,190.0 666.0,190.2 665.2,190.4 664.4,190.3 663.6,190.1 662.8,190.1 662.0,190.2 661.2,190.5 660.4,190.5 659.6,190.3 658.8,190.3 657.9,190.4 657.1,190.6 656.3,190.5 655.5,190.5 654.7,190.6 653.9,190.6 653.1,190.7 652.3,190.6 651.5,190.7 650.7,191.0 649.9,190.9 649.1,190.9 648.3,191.2 647.5,191.1 646.7,191.2 645.9,191.4 645.1,191.3 644.3,191.5 643.5,191.5 642.7,191.5 641.9,191.7 641.0,192.0 640.2,192.2 639.4,191.8 638.6,191.6 637.8,191.7 637.0,192.1 636.2,192.3 635.4,192.3 634.6,192.6 633.8,192.8 633.0,193.1 632.2,193.3 631.4,193.2 630.6,193.7 629.8,194.0 629.0,194.2 628.2,194.9 627.4,195.0 626.6,195.6 625.8,196.1 625.0,196.5 624.1,197.8 623.3,198.2 622.5,198.3 621.7,199.4 620.9,200.6 620.1,202.2 619.3,203.1 618.5,203.2 617.7,204.1 616.9,205.0 616.1,205.6 615.3,206.6 614.5,207.3 613.7,209.0 612.9,211.0 612.1,212.4 611.3,213.1 610.5,213.6 609.7,215.6 608.9,217.2 608.1,217.6 607.2,219.1 606.4,220.1 605.6,221.3 604.8,223.8 604.0,225.7 603.2,226.1 602.4,227.5 601.6,230.4 600.8,230.9 600.0,232.3 599.2,233.9 598.4,234.4 597.6,236.0 596.8,238.5 596.0,240.6 595.2,242.5 594.4,244.1 593.6,244.7 592.8,245.0 592.0,245.7 591.1,246.7 590.3,247.8 589.5,247.9 588.7,248.3 587.9,249.5 587.1,250.8 586.3,251.6 585.5,251.3 584.7,251.1 583.9,253.0 583.1,254.0 582.3,254.5 581.5,256.0 580.7,256.2 579.9,256.2 579.1,256.5 578.3,256.0 577.5,256.4 576.7,258.0 575.9,258.9 575.1,259.9 574.2,260.1 573.4,260.6 572.6,260.4 571.8,261.0 571.0,263.3 570.2,263.5 569.4,262.6 568.6,263.0 567.8,263.0 567.0,263.5 566.2,263.5 565.4,263.6 564.6,265.4 563.8,265.4 563.0,264.3 562.2,264.2 561.4,265.3 560.6,265.8 559.8,265.5 559.0,265.7 558.2,265.9 557.3,265.2 556.5,266.2 555.7,267.0 554.9,266.6 554.1,266.4 553.3,266.5 552.5,266.3 551.7,266.5 550.9,267.2 550.1,268.0 549.3,268.4 548.5,268.8 547.7,269.0 546.9,268.3 546.1,268.6 545.3,268.6 544.5,267.8 543.7,269.0 542.9,270.1 542.1,269.1 541.3,268.9 540.4,269.6 539.6,269.7 538.8,269.6 538.0,269.8 537.2,270.2 536.4,271.1 535.6,271.4 534.8,271.1 534.0,270.5 533.2,271.0 532.4,271.8 531.6,272.2 530.8,273.7 530.0,274.3 529.2,273.8 528.4,274.8 527.6,275.9 526.8,276.0 526.0,275.5 525.2,275.4 524.3,277.0 523.5,278.4 522.7,278.0 521.9,278.4 521.1,279.2 520.3,279.5 519.5,280.0 518.7,280.3 517.9,280.6 517.1,281.1 516.3,281.1 515.5,281.1 514.7,281.8 513.9,282.1 513.1,282.0 512.3,282.3 511.5,282.8 510.7,282.9 509.9,283.2 509.1,283.5 508.3,283.6 507.4,283.6 506.6,283.8 505.8,284.1 505.0,284.1 504.2,284.7 503.4,285.1 502.6,284.7 501.8,284.5 501.0,284.6 500.2,285.0 499.4,285.1" fill="#dd8452" fill-opacity="0.35"/>
<polyline points="499.4,284.6 500.2,284.3 501.0,284.0 501.8,284.0 502.6,283.8 503.4,283.8 504.2,283.7 505.0,283.4 505.8,283.0 506.6,282.8 507.4,282.6 508.3,282.1 509.1,281.8 509.9,281.6 510.7,281.1 511.5,280.9 512.3,280.6 513.1,280.2 513.9,279.8 514.7,279.4 515.5,279.1 516.3,278.7 517.1,278.3 517.9,277.9 518.7,277.3 519.5,276.9 520.3,276.4 521.1,276.2 521.9,275.5 522.7,274.5 523.5,274.4 524.3,273.9 525.2,272.7 526.0,272.3 526.8,272.0 527.6,270.8 528.4,270.0 529.2,269.7 530.0,268.3 530.8,267.7 531.6,267.8 532.4,267.6 533.2,267.0 534.0,266.1 534.8,264.6 535.6,263.3 536.4,263.5 537.2,262.7 538.0,261.5 538.8,261.5 539.6,260.9 540.4,260.1 541.3,260.0 542.1,260.1 542.9,259.7 543.7,258.7 544.5,258.0 545.3,257.8 546.1,256.9 546.9,256.6 547.7,256.2 548.5,255.6 549.3,255.4 550.1,255.2 550.9,254.9 551.7,254.5 552.5,254.8 553.3,254.4 554.1,253.7 554.9,253.4 555.7,253.2 556.5,253.7 557.3,253.9 558.2,254.2 559.0,254.3 559.8,253.1 560.6,252.3 561.4,252.3 562.2,252.5 563.0,252.2 563.8,251.7 564.6,251.8 565.4,251.5 566.2,249.9 567.0,248.5 567.8,248.0 568.6,247.7 569.4,247.2 570.2,246.6 571.0,246.1 571.8,245.9 572.6,244.9 573.4,243.8 574.2,243.3 575.1,242.0 575.9,241.1 576.7,241.2 577.5,240.5 578.3,240.0 579.1,239.2 579.9,237.9 580.7,237.6 581.5,236.7 582.3,235.5 583.1,235.0 583.9,234.9 584.7,233.4 585.5,232.2 586.3,231.6 587.1,230.9 587.9,230.3 588.7,229.4 589.5,228.3 590.3,227.2 591.1,226.5 592.0,224.8 592.8,223.2 593.6,222.9 594.4,221.6 595.2,219.9 596.0,218.7 596.8,217.3 597.6,215.8 598.4,214.5 599.2,213.5 600.0,212.9 600.8,211.8 601.6,209.9 602.4,209.1 603.2,208.3 604.0,206.9 604.8,206.4 605.6,205.8 606.4,205.3 607.2,205.0 608.1,204.6 608.9,203.8 609.7,202.7 610.5,202.6 611.3,202.3 612.1,202.4 612.9,202.6 613.7,202.0 614.5,200.9 615.3,200.5 616.1,200.5 616.9,200.6 617.7,200.6 618.5,199.5 619.3,199.3 620.1,200.0 620.9,199.6 621.7,198.5 622.5,197.9 623.3,197.7 624.1,197.9 625.0,197.6 625.8,196.8 626.6,196.4 627.4,196.0 628.2,195.5 629.0,195.0 629.8,194.4 630.6,194.0 631.4,193.4 632.2,192.9 633.0,192.7 633.8,192.5 634.6,192.2 635.4,191.9 636.2,191.8 637.0,191.7 637.8,191.5 638.6,191.3 639.4,191.4 640.2,191.4 641.0,191.1 641.9,190.9 642.7,190.7 643.5,190.7 644.3,190.6 645.1,190.5 645.9,190.5 646.7,190.4 647.5,190.3 648.3,190.1 649.1,190.1 649.9,190.1 650.7,190.2 651.5,190.2 652.3,190.2 653.1,190.1 653.9,190.0 654.7,189.9 655.5,189.8 656.3,189.8 657.1,189.8 657.9,189.7 658.8,189.7 659.6,189.7 660.4,189.6 661.2,189.6 662.0,189.6 662.8,189.7 663.6,189.8 664.4,189.5 665.2,189.3 666.0,189.4 666.8,189.4 667.6,189.4 668.4,189.1 669.2,189.1 670.0,189.2 670.8,189.1 671.6,189.1 672.4,189.1 673.2,189.0 674.0,188.8 674.9,188.7 675.7,188.6" fill="none" stroke="#dd8452" stroke-width="1.30" stroke-linejoin="round"/>
<polygon points="499.4,285.7 500.2,285.6 501.0,285.4 501.8,285.0 502.6,284.7 503.4,285.2 504.2,285.1 505.0,284.3 505.8,284.1 506.6,283.9 507.4,283.7 508.3,283.5 509.1,283.3 509.9,283.0 510.7,282.7 511.5,282.2 512.3,281.9 513.1,282.2 513.9,281.4 514.7,280.5 515.5,280.2 516.3,279.6 517.1,279.2 517.9,279.1 518.7,278.6 519.5,277.8 520.3,277.2 521.1,276.0 521.9,275.8 522.7,276.0 523.5,274.7 524.3,274.2 525.2,274.4 526.0,273.7 526.8,271.6 527.6,270.5 528.4,269.9 529.2,269.3 530.0,268.5 530.8,267.5 531.6,267.6 532.4,266.1 533.2,264.4 534.0,262.3 534.8,262.6 535.6,262.4 536.4,258.6 537.2,256.8 538.0,257.3 538.8,257.8 539.6,256.7 540.4,254.6 541.3,252.8 542.1,251.5 542.9,249.9 543.7,249.7 544.5,249.8 545.3,248.5 546.1,247.2 546.9,244.7 547.7,241.8 548.5,238.0 549.3,236.2 550.1,236.6 550.9,234.2 551.7,233.1 552.5,232.4 553.3,229.3 554.1,227.3 554.9,226.0 555.7,225.2 556.5,224.8 557.3,222.9 558.2,220.6 559.0,218.3 559.8,216.3 560.6,214.8 561.4,214.6 562.2,212.9 563.0,210.9 563.8,211.6 564.6,210.7 565.4,208.7 566.2,205.5 567.0,203.2 567.8,204.0 568.6,203.6 569.4,201.8 570.2,202.4 571.0,202.3 571.8,201.9 572.6,201.0 573.4,200.8 574.2,200.1 575.1,198.0 575.9,197.4 576.7,196.7 577.5,194.6 578.3,193.8 579.1,194.2 579.9,193.0 580.7,192.2 581.5,192.1 582.3,193.1 583.1,194.4 583.9,194.4 584.7,193.8 585.5,193.0 586.3,192.6 587.1,191.6 587.9,191.5 588.7,190.9 589.5,189.8 590.3,191.6 591.1,191.7 592.0,193.5 592.8,193.0 593.6,190.3 594.4,191.0 595.2,192.6 596.0,190.8 596.8,189.5 597.6,191.6 598.4,190.4 599.2,190.3 600.0,191.8 600.8,191.1 601.6,191.1 602.4,191.0 603.2,190.0 604.0,189.6 604.8,190.7 605.6,190.6 606.4,189.4 607.2,188.8 608.1,189.5 608.9,189.6 609.7,188.5 610.5,189.4 611.3,190.6 612.1,190.7 612.9,189.6 613.7,190.7 614.5,192.2 615.3,192.2 616.1,190.1 616.9,189.3 617.7,189.7 618.5,189.6 619.3,190.3 620.1,190.3 620.9,190.8 621.7,190.0 622.5,189.5 623.3,190.3 624.1,191.6 625.0,191.5 625.8,190.9 626.6,191.6 627.4,190.2 628.2,190.7 629.0,191.7 629.8,190.3 630.6,189.2 631.4,190.1 632.2,190.8 633.0,190.1 633.8,191.3 634.6,193.3 635.4,193.9 636.2,191.7 637.0,190.0 637.8,191.6 638.6,192.2 639.4,191.5 640.2,191.2 641.0,190.9 641.9,188.8 642.7,189.5 643.5,191.1 644.3,191.1 645.1,191.7 645.9,191.8 646.7,191.5 647.5,191.2 648.3,190.8 649.1,190.2 649.9,191.2 650.7,189.8 651.5,190.0 652.3,191.3 653.1,188.6 653.9,189.4 654.7,190.1 655.5,188.4 656.3,189.2 657.1,191.8 657.9,191.0 658.8,189.4 659.6,191.0 660.4,190.0 661.2,190.2 662.0,190.3 662.8,190.2 663.6,190.6 664.4,191.1 665.2,191.8 666.0,191.7 666.8,191.9 667.6,191.0 668.4,190.6 669.2,190.6 670.0,189.4 670.8,189.7 671.6,192.2 672.4,192.4 673.2,190.8 674.0,189.7 674.9,188.9 675.7,189.0 675.7,215.2 674.9,214.7 674.0,214.0 673.2,213.8 672.4,215.0 671.6,214.9 670.8,213.0 670.0,215.5 669.2,218.0 668.4,214.8 667.6,212.9 666.8,214.4 666.0,213.0 665.2,213.2 664.4,215.6 663.6,216.1 662.8,213.5 662.0,212.7 661.2,214.5 660.4,216.2 659.6,215.0 658.8,213.2 657.9,215.6 657.1,216.6 656.3,215.8 655.5,215.7 654.7,216.8 653.9,216.4 653.1,215.8 652.3,216.4 651.5,215.0 650.7,215.6 649.9,217.2 649.1,217.0 648.3,215.6 647.5,215.3 646.7,216.6 645.9,218.0 645.1,218.5 644.3,217.9 643.5,216.9 642.7,217.1 641.9,217.3 641.0,218.1 640.2,219.6 639.4,220.4 638.6,221.6 637.8,223.1 637.0,223.8 636.2,223.2 635.4,223.8 634.6,225.0 633.8,225.4 633.0,224.8 632.2,224.2 631.4,225.0 630.6,226.8 629.8,226.2 629.0,227.9 628.2,230.1 627.4,228.8 626.6,228.7 625.8,228.4 625.0,230.2 624.1,231.4 623.3,229.9 622.5,230.3 621.7,231.8 620.9,232.3 620.1,231.3 619.3,231.0 618.5,230.5 617.7,230.9 616.9,232.3 616.1,230.2 615.3,231.1 614.5,232.1 613.7,232.7 612.9,236.2 612.1,237.0 611.3,236.2 610.5,235.0 609.7,236.1 608.9,237.9 608.1,236.9 607.2,236.3 606.4,238.8 605.6,240.2 604.8,239.9 604.0,239.2 603.2,239.3 602.4,240.8 601.6,240.6 600.8,239.8 600.0,240.7 599.2,241.8 598.4,240.3 597.6,239.3 596.8,238.2 596.0,237.1 595.2,238.0 594.4,239.2 593.6,238.7 592.8,238.7 592.0,240.2 591.1,242.0 590.3,242.5 589.5,242.3 588.7,242.5 587.9,240.8 587.1,239.0 586.3,241.1 585.5,241.7 584.7,239.4 583.9,241.0 583.1,241.0 582.3,241.6 581.5,242.5 580.7,242.7 579.9,241.8 579.1,241.3 578.3,242.1 577.5,241.8 576.7,243.4 575.9,245.4 575.1,246.3 574.2,246.0 573.4,246.3 572.6,245.8 571.8,248.1 571.0,250.1 570.2,248.6 569.4,248.6 568.6,249.4 567.8,250.6 567.0,251.9 566.2,254.0 565.4,254.6 564.6,252.8 563.8,252.7 563.0,255.7 562.2,256.7 561.4,255.4 560.6,256.2 559.8,256.9 559.0,257.4 558.2,260.3 557.3,259.8 556.5,261.5 555.7,263.5 554.9,263.6 554.1,265.0 553.3,265.3 552.5,266.8 551.7,267.0 550.9,267.9 550.1,268.6 549.3,268.4 548.5,268.5 547.7,267.6 546.9,268.9 546.1,271.4 545.3,269.5 544.5,267.6 543.7,268.0 542.9,269.9 542.1,270.8 541.3,270.8 540.4,272.5 539.6,273.2 538.8,274.3 538.0,274.6 537.2,274.3 536.4,277.1 535.6,277.9 534.8,277.3 534.0,279.9 533.2,281.2 532.4,279.6 531.6,279.2 530.8,279.9 530.0,278.9 529.2,279.7 528.4,281.1 527.6,282.5 526.8,283.7 526.0,284.2 525.2,284.8 524.3,283.5 523.5,282.1 522.7,283.2 521.9,284.3 521.1,284.3 520.3,283.6 519.5,283.3 518.7,284.0 517.9,284.6 517.1,284.0 516.3,283.9 515.5,285.1 514.7,285.3 513.9,285.0 513.1,285.4 512.3,285.8 511.5,286.1 510.7,286.2 509.9,285.7 509.1,285.8 508.3,286.3 507.4,285.7 506.6,285.9 505.8,286.4 505.0,286.4 504.2,286.9 503.4,286.8 502.6,286.8 501.8,287.4 501.0,287.1 500.2,287.4 499.4,287.3" fill="#4c72b0" fill-opacity="0.30"/>
<polyline points="499.4,286.6 500.2,286.3 501.0,285.9 501.8,285.6 502.6,285.4 503.4,285.4 504.2,285.2 505.0,285.0 505.8,285.0 506.6,284.9 507.4,284.5 508.3,284.1 509.1,284.2 509.9,284.2 510.7,284.0 511.5,283.8 512.3,283.5 513.1,283.4 513.9,283.3 514.7,283.4 515.5,283.3 516.3,283.2 517.1,282.7 517.9,281.9 518.7,281.8 519.5,281.6 520.3,281.0 521.1,280.7 521.9,281.1 522.7,281.0 523.5,280.8 524.3,280.6 525.2,279.7 526.0,278.9 526.8,277.8 527.6,277.6 528.4,277.2 529.2,276.1 530.0,275.5 530.8,275.1 531.6,275.6 532.4,275.1 533.2,272.9 534.0,272.0 534.8,272.5 535.6,272.2 536.4,270.7 537.2,270.4 538.0,269.5 538.8,268.7 539.6,268.5 540.4,267.5 541.3,265.4 542.1,264.7 542.9,265.3 543.7,263.9 544.5,262.9 545.3,262.1 546.1,261.8 546.9,260.5 547.7,257.9 548.5,257.3 549.3,255.1 550.1,253.1 550.9,252.5 551.7,251.8 552.5,251.4 553.3,249.9 554.1,248.8 554.9,247.3 555.7,245.1 556.5,244.7 557.3,245.0 558.2,243.9 559.0,242.8 559.8,241.6 560.6,240.1 561.4,239.6 562.2,238.8 563.0,237.3 563.8,235.7 564.6,235.7 565.4,235.5 566.2,234.6 567.0,234.8 567.8,233.3 568.6,231.9 569.4,231.7 570.2,231.0 571.0,230.3 571.8,230.3 572.6,228.5 573.4,226.7 574.2,226.7 575.1,225.9 575.9,224.6 576.7,224.4 577.5,224.0 578.3,223.4 579.1,222.7 579.9,222.0 580.7,220.5 581.5,219.9 582.3,220.2 583.1,219.2 583.9,219.0 584.7,218.2 585.5,217.7 586.3,218.1 587.1,218.0 587.9,218.2 588.7,217.7 589.5,217.1 590.3,217.4 591.1,218.5 592.0,219.0 592.8,218.9 593.6,219.1 594.4,218.1 595.2,217.9 596.0,218.4 596.8,217.5 597.6,216.4 598.4,215.5 599.2,216.4 600.0,216.6 600.8,215.5 601.6,215.9 602.4,215.7 603.2,216.2 604.0,217.8 604.8,218.3 605.6,217.8 606.4,216.8 607.2,217.2 608.1,218.4 608.9,218.3 609.7,217.1 610.5,215.3 611.3,214.3 612.1,214.4 612.9,214.5 613.7,214.6 614.5,213.9 615.3,213.3 616.1,214.6 616.9,213.0 617.7,211.2 618.5,211.4 619.3,211.3 620.1,211.9 620.9,211.3 621.7,211.1 622.5,210.5 623.3,209.6 624.1,211.2 625.0,210.6 625.8,208.4 626.6,208.7 627.4,208.9 628.2,208.5 629.0,209.1 629.8,209.9 630.6,208.7 631.4,207.3 632.2,207.4 633.0,207.4 633.8,207.8 634.6,206.3 635.4,205.8 636.2,206.2 637.0,206.3 637.8,205.7 638.6,204.3 639.4,204.3 640.2,204.5 641.0,204.5 641.9,203.5 642.7,203.0 643.5,203.6 644.3,202.3 645.1,202.2 645.9,203.7 646.7,203.9 647.5,203.3 648.3,201.8 649.1,201.5 649.9,202.4 650.7,202.0 651.5,201.2 652.3,201.9 653.1,201.7 653.9,200.8 654.7,201.2 655.5,202.7 656.3,202.7 657.1,200.6 657.9,200.5 658.8,199.8 659.6,199.3 660.4,200.7 661.2,200.2 662.0,199.3 662.8,199.1 663.6,199.4 664.4,199.1 665.2,199.3 666.0,199.9 666.8,200.3 667.6,200.7 668.4,200.0 669.2,200.0 670.0,200.4 670.8,200.2 671.6,200.0 672.4,199.6 673.2,199.4 674.0,199.4 674.9,199.9 675.7,200.8" fill="none" stroke="#4c72b0" stroke-width="1.30" stroke-linejoin="round"/>
<polygon points="499.4,284.9 500.2,284.7 501.0,284.5 501.8,284.1 502.6,283.9 503.4,283.5 504.2,283.2 505.0,283.1 505.8,282.8 506.6,282.5 507.4,282.4 508.3,282.3 509.1,281.8 509.9,281.3 510.7,281.1 511.5,281.2 512.3,280.9 513.1,280.6 513.9,280.7 514.7,280.5 515.5,280.2 516.3,279.9 517.1,279.8 517.9,279.9 518.7,279.6 519.5,279.3 520.3,279.0 521.1,278.7 521.9,278.4 522.7,278.0 523.5,277.9 524.3,277.9 525.2,277.8 526.0,277.7 526.8,277.7 527.6,277.7 528.4,277.4 529.2,277.3 530.0,277.1 530.8,277.1 531.6,276.9 532.4,277.2 533.2,277.3 534.0,276.9 534.8,276.7 535.6,276.5 536.4,276.5 537.2,276.1 538.0,275.7 538.8,276.0 539.6,275.9 540.4,275.7 541.3,275.6 542.1,275.5 542.9,275.8 543.7,275.6 544.5,275.1 545.3,275.4 546.1,275.4 546.9,275.2 547.7,275.1 548.5,275.1 549.3,275.0 550.1,274.6 550.9,274.9 551.7,275.1 552.5,274.9 553.3,274.6 554.1,274.8 554.9,274.7 555.7,274.6 556.5,274.4 557.3,274.1 558.2,274.3 559.0,275.2 559.8,274.8 560.6,273.9 561.4,274.1 562.2,274.1 563.0,274.3 563.8,274.7 564.6,274.5 565.4,273.9 566.2,274.5 567.0,274.7 567.8,273.7 568.6,273.8 569.4,274.0 570.2,273.3 571.0,273.2 571.8,273.2 572.6,273.2 573.4,273.7 574.2,274.0 575.1,273.8 575.9,273.6 576.7,273.7 577.5,273.2 578.3,273.0 579.1,273.9 579.9,273.7 580.7,273.0 581.5,272.9 582.3,273.4 583.1,273.6 583.9,273.2 584.7,273.4 585.5,273.5 586.3,273.3 587.1,273.1 587.9,273.1 588.7,273.4 589.5,273.2 590.3,272.5 591.1,272.2 592.0,272.5 592.8,272.4 593.6,272.7 594.4,273.1 595.2,273.1 596.0,272.9 596.8,272.7 597.6,272.8 598.4,272.6 599.2,272.5 600.0,272.3 600.8,272.5 601.6,272.3 602.4,272.2 603.2,272.7 604.0,272.7 604.8,272.6 605.6,272.3 606.4,271.7 607.2,271.5 608.1,271.5 608.9,271.2 609.7,271.7 610.5,272.4 611.3,272.1 612.1,272.1 612.9,272.4 613.7,272.1 614.5,272.2 615.3,272.3 616.1,271.9 616.9,271.9 617.7,272.6 618.5,272.3 619.3,272.2 620.1,272.6 620.9,272.3 621.7,271.9 622.5,271.6 623.3,271.5 624.1,271.6 625.0,271.9 625.8,272.6 626.6,273.0 627.4,272.9 628.2,272.4 629.0,272.0 629.8,271.9 630.6,272.4 631.4,273.0 632.2,273.0 633.0,272.2 633.8,272.5 634.6,272.8 635.4,271.8 636.2,271.5 637.0,271.8 637.8,271.9 638.6,271.3 639.4,271.5 640.2,272.2 641.0,272.3 641.9,272.1 642.7,271.7 643.5,271.5 644.3,271.6 645.1,271.7 645.9,271.6 646.7,271.4 647.5,271.9 648.3,272.1 649.1,271.6 649.9,271.8 650.7,272.1 651.5,271.6 652.3,271.2 653.1,271.5 653.9,271.7 654.7,271.4 655.5,271.2 656.3,271.0 657.1,270.4 657.9,271.0 658.8,271.3 659.6,271.3 660.4,271.5 661.2,271.4 662.0,271.2 662.8,271.3 663.6,271.9 664.4,271.7 665.2,271.2 666.0,271.5 666.8,272.4 667.6,272.3 668.4,271.6 669.2,271.2 670.0,270.9 670.8,270.5 671.6,270.7 672.4,270.8 673.2,270.8 674.0,270.6 674.9,270.4 675.7,270.4 675.7,279.0 674.9,279.1 674.0,279.0 673.2,279.2 672.4,279.6 671.6,279.6 670.8,279.1 670.0,279.6 669.2,280.5 668.4,280.4 667.6,279.8 666.8,280.4 666.0,279.8 665.2,279.0 664.4,279.5 663.6,280.1 662.8,279.8 662.0,279.6 661.2,279.5 660.4,280.0 659.6,280.1 658.8,279.6 657.9,279.2 657.1,279.0 656.3,279.3 655.5,279.1 654.7,279.5 653.9,279.2 653.1,278.9 652.3,279.7 651.5,280.4 650.7,280.0 649.9,280.1 649.1,280.3 648.3,279.8 647.5,280.1 646.7,279.9 645.9,279.5 645.1,280.0 644.3,279.9 643.5,280.2 642.7,280.1 641.9,279.7 641.0,280.1 640.2,279.9 639.4,279.4 638.6,279.4 637.8,279.9 637.0,279.8 636.2,279.3 635.4,279.7 634.6,280.7 633.8,280.6 633.0,279.9 632.2,280.1 631.4,280.5 630.6,280.4 629.8,279.8 629.0,279.2 628.2,280.0 627.4,280.3 626.6,279.8 625.8,279.6 625.0,279.4 624.1,279.6 623.3,280.2 622.5,279.7 621.7,279.2 620.9,279.5 620.1,279.8 619.3,279.6 618.5,279.6 617.7,279.8 616.9,279.9 616.1,280.5 615.3,280.2 614.5,279.4 613.7,279.4 612.9,279.6 612.1,279.4 611.3,279.9 610.5,279.9 609.7,279.5 608.9,279.4 608.1,279.6 607.2,279.7 606.4,279.3 605.6,279.3 604.8,280.0 604.0,280.0 603.2,279.4 602.4,279.4 601.6,280.0 600.8,280.3 600.0,280.4 599.2,280.2 598.4,279.5 597.6,279.5 596.8,280.1 596.0,280.5 595.2,280.6 594.4,280.5 593.6,280.2 592.8,279.9 592.0,279.4 591.1,279.2 590.3,279.6 589.5,279.9 588.7,279.7 587.9,279.7 587.1,280.2 586.3,280.5 585.5,281.0 584.7,280.7 583.9,280.4 583.1,280.4 582.3,280.3 581.5,280.6 580.7,280.4 579.9,280.5 579.1,280.8 578.3,280.3 577.5,280.5 576.7,280.0 575.9,279.9 575.1,280.5 574.2,280.4 573.4,280.1 572.6,279.8 571.8,279.9 571.0,280.5 570.2,280.7 569.4,280.6 568.6,280.6 567.8,280.6 567.0,281.4 566.2,281.2 565.4,281.3 564.6,281.2 563.8,280.3 563.0,280.6 562.2,280.8 561.4,280.7 560.6,281.0 559.8,281.4 559.0,281.7 558.2,281.0 557.3,280.7 556.5,281.2 555.7,281.2 554.9,281.5 554.1,281.2 553.3,280.9 552.5,281.0 551.7,281.1 550.9,281.0 550.1,280.4 549.3,280.6 548.5,281.0 547.7,281.3 546.9,281.6 546.1,281.5 545.3,281.5 544.5,281.4 543.7,281.5 542.9,281.6 542.1,281.5 541.3,281.5 540.4,281.6 539.6,281.7 538.8,281.6 538.0,281.4 537.2,281.7 536.4,281.9 535.6,281.7 534.8,282.1 534.0,282.3 533.2,282.6 532.4,282.6 531.6,282.4 530.8,282.2 530.0,282.1 529.2,282.3 528.4,282.4 527.6,282.5 526.8,283.0 526.0,283.2 525.2,283.1 524.3,283.1 523.5,282.8 522.7,282.9 521.9,283.5 521.1,283.6 520.3,283.6 519.5,283.9 518.7,284.1 517.9,284.4 517.1,284.3 516.3,284.2 515.5,284.5 514.7,284.4 513.9,284.0 513.1,284.2 512.3,284.5 511.5,284.6 510.7,284.6 509.9,284.7 509.1,285.0 508.3,285.3 507.4,285.2 506.6,285.2 505.8,285.7 505.0,286.0 504.2,286.1 503.4,286.2 502.6,286.3 501.8,286.5 501.0,286.7 500.2,286.9 499.4,287.1" fill="#55a868" fill-opacity="0.36"/>
<polyline points="499.4,286.0 500.2,285.7 501.0,285.6 501.8,285.3 502.6,285.0 503.4,284.8 504.2,284.7 505.0,284.5 505.8,284.3 506.6,284.1 507.4,284.0 508.3,283.7 509.1,283.4 509.9,283.1 510.7,283.0 511.5,283.0 512.3,282.8 513.1,282.6 513.9,282.5 514.7,282.4 515.5,282.3 516.3,282.1 517.1,281.9 517.9,281.8 518.7,281.8 519.5,281.6 520.3,281.2 521.1,281.1 521.9,281.0 522.7,280.7 523.5,280.6 524.3,280.6 525.2,280.6 526.0,280.7 526.8,280.6 527.6,280.2 528.4,280.2 529.2,280.0 530.0,279.6 530.8,279.7 531.6,279.7 532.4,279.7 533.2,279.8 534.0,279.6 534.8,279.4 535.6,279.3 536.4,279.3 537.2,279.0 538.0,278.8 538.8,278.9 539.6,278.8 540.4,278.7 541.3,278.8 542.1,278.8 542.9,278.9 543.7,278.6 544.5,278.4 545.3,278.8 546.1,278.7 546.9,278.6 547.7,278.2 548.5,277.9 549.3,277.9 550.1,277.7 550.9,277.8 551.7,277.8 552.5,278.0 553.3,278.0 554.1,278.0 554.9,277.9 555.7,277.9 556.5,277.7 557.3,277.5 558.2,277.6 559.0,277.9 559.8,277.8 560.6,277.4 561.4,277.5 562.2,277.7 563.0,277.6 563.8,277.3 564.6,277.6 565.4,277.6 566.2,277.6 567.0,277.6 567.8,277.1 568.6,277.1 569.4,277.2 570.2,277.3 571.0,277.3 571.8,276.9 572.6,276.7 573.4,277.1 574.2,277.3 575.1,277.2 575.9,276.8 576.7,276.7 577.5,276.9 578.3,276.9 579.1,277.3 579.9,277.0 580.7,276.8 581.5,277.1 582.3,277.1 583.1,277.1 583.9,277.0 584.7,277.1 585.5,276.8 586.3,276.5 587.1,276.5 587.9,276.6 588.7,276.6 589.5,276.5 590.3,276.3 591.1,276.2 592.0,276.3 592.8,276.5 593.6,276.7 594.4,276.7 595.2,276.5 596.0,276.5 596.8,276.5 597.6,276.1 598.4,275.9 599.2,276.4 600.0,276.6 600.8,276.5 601.6,276.2 602.4,275.8 603.2,276.0 604.0,276.1 604.8,275.9 605.6,275.8 606.4,275.5 607.2,275.7 608.1,275.8 608.9,275.8 609.7,276.0 610.5,276.2 611.3,276.1 612.1,275.9 612.9,276.0 613.7,276.0 614.5,276.0 615.3,276.2 616.1,276.2 616.9,275.8 617.7,275.8 618.5,275.8 619.3,275.9 620.1,276.4 620.9,276.2 621.7,275.8 622.5,275.9 623.3,276.0 624.1,275.7 625.0,275.6 625.8,275.8 626.6,276.0 627.4,276.2 628.2,276.2 629.0,275.9 629.8,275.7 630.6,275.9 631.4,276.3 632.2,276.3 633.0,276.0 633.8,276.2 634.6,276.6 635.4,275.8 636.2,275.5 637.0,276.1 637.8,276.2 638.6,275.8 639.4,275.7 640.2,275.9 641.0,276.1 641.9,275.9 642.7,275.8 643.5,275.8 644.3,275.7 645.1,275.9 645.9,275.7 646.7,275.7 647.5,275.8 648.3,275.9 649.1,276.0 649.9,275.9 650.7,275.9 651.5,275.8 652.3,275.5 653.1,275.1 653.9,275.1 654.7,275.4 655.5,275.4 656.3,275.3 657.1,275.2 657.9,275.5 658.8,275.5 659.6,275.4 660.4,275.4 661.2,275.4 662.0,275.4 662.8,275.3 663.6,275.8 664.4,275.9 665.2,275.6 666.0,275.4 666.8,275.7 667.6,275.9 668.4,275.6 669.2,275.4 670.0,275.2 670.8,275.2 671.6,275.5 672.4,275.3 673.2,275.0 674.0,274.9 674.9,274.9 675.7,274.9" fill="none" stroke="#55a868" stroke-width="1.30" stroke-linejoin="round"/>
</g>
<rect x="490.50" y="180.50" width="193.60" height="112.60" fill="none" stroke="#dcdcdc" stroke-width="1.00"/>
<text x="499.40" y="303.98" font-size="7.20" text-anchor="middle" textLength="4.0" lengthAdjust="spacingAndGlyphs" fill="#262626" stroke="#262626" stroke-width="0.05">0</text>
<text x="526.60" y="303.98" font-size="7.20" text-anchor="middle" textLength="12.0" lengthAdjust="spacingAndGlyphs" fill="#262626" stroke="#262626" stroke-width="0.05">100</text>
<text x="553.80" y="303.98" font-size="7.20" text-anchor="middle" textLength="12.0" lengthAdjust="spacingAndGlyphs" fill="#262626" stroke="#262626" stroke-width="0.05">200</text>
<text x="581.00" y="303.98" font-size="7.20" text-anchor="middle" textLength="12.0" lengthAdjust="spacingAndGlyphs" fill="#262626" stroke="#262626" stroke-width="0.05">300</text>
<text x="608.20" y="303.98" font-size="7.20" text-anchor="middle" textLength="12.0" lengthAdjust="spacingAndGlyphs" fill="#262626" stroke="#262626" stroke-width="0.05">400</text>
<text x="635.40" y="303.98" font-size="7.20" text-anchor="middle" textLength="12.0" lengthAdjust="spacingAndGlyphs" fill="#262626" stroke="#262626" stroke-width="0.05">500</text>
<text x="662.60" y="303.98" font-size="7.20" text-anchor="middle" textLength="12.0" lengthAdjust="spacingAndGlyphs" fill="#262626" stroke="#262626" stroke-width="0.05">600</text>
<text x="485.20" y="290.08" font-size="7.20" text-anchor="end" textLength="10.0" lengthAdjust="spacingAndGlyphs" fill="#262626" stroke="#262626" stroke-width="0.05">0.0</text>
<text x="485.20" y="270.00" font-size="7.20" text-anchor="end" textLength="10.0" lengthAdjust="spacingAndGlyphs" fill="#262626" stroke="#262626" stroke-width="0.05">0.2</text>
<text x="485.20" y="249.92" font-size="7.20" text-anchor="end" textLength="10.0" lengthAdjust="spacingAndGlyphs" fill="#262626" stroke="#262626" stroke-width="0.05">0.4</text>
<text x="485.20" y="229.84" font-size="7.20" text-anchor="end" textLength="10.0" lengthAdjust="spacingAndGlyphs" fill="#262626" stroke="#262626" stroke-width="0.05">0.6</text>
<text x="485.20" y="209.76" font-size="7.20" text-anchor="end" textLength="10.0" lengthAdjust="spacingAndGlyphs" fill="#262626" stroke="#262626" stroke-width="0.05">0.8</text>
<text x="485.20" y="189.68" font-size="7.20" text-anchor="end" textLength="10.0" lengthAdjust="spacingAndGlyphs" fill="#262626" stroke="#262626" stroke-width="0.05">1.0</text>
<text x="587.80" y="177.00" font-size="7.60" text-anchor="middle" textLength="82.4" lengthAdjust="spacingAndGlyphs" fill="#262626" stroke="#262626" stroke-width="0.05">Overcooked-Simple-Salad</text>
<text x="587.60" y="312.40" font-size="7.50" text-anchor="middle" textLength="28.6" lengthAdjust="spacingAndGlyphs" fill="#262626" stroke="#262626" stroke-width="0.05">Episodes</text>
<text x="0" y="0" font-size="7.50" text-anchor="middle" textLength="62.6" lengthAdjust="spacingAndGlyphs" fill="#262626" stroke="#262626" stroke-width="0.05" transform="translate(470.90,236.70) rotate(-90)">Normalized Reward</text>
<clipPath id="clip7"><rect x="141.30" y="327.00" width="193.70" height="112.10"/></clipPath>
<line x1="149.40" y1="327.00" x2="149.40" y2="439.10" stroke="#e4e5e7" stroke-width="1.00"/>
<line x1="176.60" y1="327.00" x2="176.60" y2="439.10" stroke="#e4e5e7" stroke-width="1.00"/>
<line x1="203.80" y1="327.00" x2="203.80" y2="439.10" stroke="#e4e5e7" stroke-width="1.00"/>
<line x1="231.00" y1="327.00" x2="231.00" y2="439.10" stroke="#e4e5e7" stroke-width="1.00"/>
<line x1="258.20" y1="327.00" x2="258.20" y2="439.10" stroke="#e4e5e7" stroke-width="1.00"/>
<line x1="285.40" y1="327.00" x2="285.40" y2="439.10" stroke="#e4e5e7" stroke-width="1.00"/>
<line x1="312.60" y1="327.00" x2="312.60" y2="439.10" stroke="#e4e5e7" stroke-width="1.00"/>
<line x1="141.30" y1="434.40" x2="335.00" y2="434.40" stroke="#e4e5e7" stroke-width="1.00"/>
<line x1="141.30" y1="414.28" x2="335.00" y2="414.28" stroke="#e4e5e7" stroke-width="1.00"/>
<line x1="141.30" y1="394.16" x2="335.00" y2="394.16" stroke="#e4e5e7" stroke-width="1.00"/>
<line x1="141.30" y1="374.04" x2="335.00" y2="374.04" stroke="#e4e5e7" stroke-width="1.00"/>
<line x1="141.30" y1="353.92" x2="335.00" y2="353.92" stroke="#e4e5e7" stroke-width="1.00"/>
<line x1="141.30" y1="333.80" x2="335.00" y2="333.80" stroke="#e4e5e7" stroke-width="1.00"/>
<g clip-path="url(#clip7)">
<polygon points="149.4,420.4 150.2,420.9 151.0,420.7 151.8,420.9 152.6,421.4 153.4,421.5 154.2,421.8 155.0,422.2 155.8,422.0 156.7,421.9 157.5,422.0 158.3,422.2 159.1,422.5 159.9,422.3 160.7,422.2 161.5,422.4 162.3,422.5 163.1,422.6 163.9,422.5 164.7,422.8 165.5,422.7 166.3,421.9 167.1,421.5 167.9,421.2 168.7,421.1 169.6,420.6 170.4,420.1 171.2,419.6 172.0,418.8 172.8,419.2 173.6,418.2 174.4,416.0 175.2,415.2 176.0,415.0 176.8,414.2 177.6,412.5 178.4,412.9 179.2,412.9 180.0,410.2 180.8,408.0 181.6,406.5 182.4,404.8 183.3,402.4 184.1,401.6 184.9,401.8 185.7,400.0 186.5,398.7 187.3,397.2 188.1,395.2 188.9,394.5 189.7,393.1 190.5,390.3 191.3,388.7 192.1,387.1 192.9,385.8 193.7,385.7 194.5,384.0 195.3,382.3 196.2,380.9 197.0,380.1 197.8,381.0 198.6,380.2 199.4,377.6 200.2,375.3 201.0,374.2 201.8,372.6 202.6,371.9 203.4,371.7 204.2,369.3 205.0,367.6 205.8,367.0 206.6,365.1 207.4,363.3 208.2,363.5 209.0,362.9 209.9,362.4 210.7,361.5 211.5,359.4 212.3,359.4 213.1,357.8 213.9,354.7 214.7,354.4 215.5,354.1 216.3,352.7 217.1,352.6 217.9,352.1 218.7,351.1 219.5,352.0 220.3,352.2 221.1,351.1 221.9,349.4 222.8,348.6 223.6,348.2 224.4,348.0 225.2,348.9 226.0,347.0 226.8,344.3 227.6,344.9 228.4,346.1 229.2,345.2 230.0,345.4 230.8,345.7 231.6,345.5 232.4,344.6 233.2,343.2 234.0,343.2 234.8,343.3 235.6,343.4 236.5,343.1 237.3,341.0 238.1,340.3 238.9,339.8 239.7,339.7 240.5,340.1 241.3,339.5 242.1,339.2 242.9,338.1 243.7,338.9 244.5,338.6 245.3,336.8 246.1,336.9 246.9,337.1 247.7,337.0 248.5,336.4 249.4,336.0 250.2,336.7 251.0,336.4 251.8,335.2 252.6,334.9 253.4,335.2 254.2,335.2 255.0,335.3 255.8,335.6 256.6,336.3 257.4,336.0 258.2,334.3 259.0,334.3 259.8,335.3 260.6,334.5 261.4,333.8 262.2,334.1 263.1,333.9 263.9,333.5 264.7,333.7 265.5,334.6 266.3,333.5 267.1,332.9 267.9,334.3 268.7,334.2 269.5,333.0 270.3,333.9 271.1,333.9 271.9,333.1 272.7,332.7 273.5,332.3 274.3,333.5 275.1,333.1 276.0,332.4 276.8,333.3 277.6,333.9 278.4,334.0 279.2,333.6 280.0,334.1 280.8,334.7 281.6,335.1 282.4,334.7 283.2,334.7 284.0,335.7 284.8,334.2 285.6,333.8 286.4,334.3 287.2,334.6 288.0,334.6 288.8,335.1 289.7,334.6 290.5,333.2 291.3,332.9 292.1,333.4 292.9,333.1 293.7,332.8 294.5,333.0 295.3,333.0 296.1,333.6 296.9,334.2 297.7,335.7 298.5,334.9 299.3,333.5 300.1,332.7 300.9,333.8 301.7,334.4 302.6,333.9 303.4,334.3 304.2,334.3 305.0,334.1 305.8,333.6 306.6,333.3 307.4,333.2 308.2,333.4 309.0,332.8 309.8,332.8 310.6,333.6 311.4,333.2 312.2,333.2 313.0,333.6 313.8,333.7 314.6,334.4 315.4,335.9 316.3,335.1 317.1,334.1 317.9,334.0 318.7,332.3 319.5,333.5 320.3,334.0 321.1,333.3 321.9,333.6 322.7,334.2 323.5,334.5 324.3,333.7 325.1,332.9 325.9,331.8 325.9,349.2 325.1,349.9 324.3,348.6 323.5,348.2 322.7,349.8 321.9,348.9 321.1,348.1 320.3,349.5 319.5,349.4 318.7,349.3 317.9,350.0 317.1,348.1 316.3,347.7 315.4,349.0 314.6,348.1 313.8,348.4 313.0,350.3 312.2,350.6 311.4,350.4 310.6,349.9 309.8,350.0 309.0,350.0 308.2,349.7 307.4,348.9 306.6,348.6 305.8,350.5 305.0,351.3 304.2,348.9 303.4,348.7 302.6,349.8 301.7,349.5 300.9,349.6 300.1,349.1 299.3,348.7 298.5,349.6 297.7,351.3 296.9,349.9 296.1,348.4 295.3,349.7 294.5,349.3 293.7,349.0 292.9,350.9 292.1,351.9 291.3,351.2 290.5,350.0 289.7,349.8 288.8,350.9 288.0,350.6 287.2,349.6 286.4,350.8 285.6,352.0 284.8,351.4 284.0,351.1 283.2,352.2 282.4,353.6 281.6,353.8 280.8,353.2 280.0,353.4 279.2,352.9 278.4,352.6 277.6,353.6 276.8,353.9 276.0,353.9 275.1,354.0 274.3,353.8 273.5,354.7 272.7,354.1 271.9,353.7 271.1,354.4 270.3,354.2 269.5,354.1 268.7,354.1 267.9,354.2 267.1,355.0 266.3,358.1 265.5,358.4 264.7,356.9 263.9,358.3 263.1,359.7 262.2,360.4 261.4,360.6 260.6,361.0 259.8,361.5 259.0,362.4 258.2,364.0 257.4,365.0 256.6,364.8 255.8,365.5 255.0,365.7 254.2,366.6 253.4,368.1 252.6,369.2 251.8,371.0 251.0,372.8 250.2,373.6 249.4,374.1 248.5,375.7 247.7,377.3 246.9,378.7 246.1,379.5 245.3,379.7 244.5,381.0 243.7,382.3 242.9,383.6 242.1,384.6 241.3,385.0 240.5,386.6 239.7,388.3 238.9,388.7 238.1,389.8 237.3,392.1 236.5,393.6 235.6,393.3 234.8,393.9 234.0,395.2 233.2,395.9 232.4,397.6 231.6,397.7 230.8,397.7 230.0,398.7 229.2,399.8 228.4,400.4 227.6,399.2 226.8,398.5 226.0,399.8 225.2,401.8 224.4,402.0 223.6,401.5 222.8,400.7 221.9,402.9 221.1,404.8 220.3,403.8 219.5,404.2 218.7,404.0 217.9,404.4 217.1,405.0 216.3,406.1 215.5,405.2 214.7,404.0 213.9,404.5 213.1,405.1 212.3,404.7 211.5,403.9 210.7,405.4 209.9,407.5 209.0,408.0 208.2,407.1 207.4,407.1 206.6,409.0 205.8,409.6 205.0,409.9 204.2,410.9 203.4,411.5 202.6,412.4 201.8,413.7 201.0,415.3 200.2,415.1 199.4,415.9 198.6,417.1 197.8,416.9 197.0,417.7 196.2,418.2 195.3,419.2 194.5,420.7 193.7,420.3 192.9,419.6 192.1,421.1 191.3,422.8 190.5,423.2 189.7,422.9 188.9,423.0 188.1,424.2 187.3,425.7 186.5,426.5 185.7,426.2 184.9,426.1 184.1,426.2 183.3,425.9 182.4,426.0 181.6,425.8 180.8,426.1 180.0,426.9 179.2,426.7 178.4,425.8 177.6,424.7 176.8,425.2 176.0,426.1 175.2,425.7 174.4,425.8 173.6,425.8 172.8,425.6 172.0,426.3 171.2,426.7 170.4,427.0 169.6,426.8 168.7,426.0 167.9,426.0 167.1,426.0 166.3,426.2 165.5,426.2 164.7,426.2 163.9,426.4 163.1,426.7 162.3,426.9 161.5,427.0 160.7,426.7 159.9,426.4 159.1,426.8 158.3,426.9 157.5,427.1 156.7,426.8 155.8,426.5 155.0,426.8 154.2,427.2 153.4,427.7 152.6,427.5 151.8,427.4 151.0,427.5 150.2,427.3 149.4,427.5" fill="#dd8452" fill-opacity="0.35"/>
<polyline points="149.4,424.4 150.2,424.4 151.0,424.2 151.8,424.5 152.6,425.2 153.4,425.0 154.2,424.7 155.0,424.9 155.8,425.1 156.7,424.7 157.5,424.8 158.3,425.3 159.1,425.3 159.9,425.1 160.7,425.1 161.5,425.3 162.3,425.2 163.1,425.2 163.9,425.2 164.7,425.1 165.5,425.2 166.3,425.1 167.1,425.0 167.9,424.7 168.7,424.3 169.6,424.2 170.4,424.0 171.2,423.7 172.0,423.2 172.8,422.4 173.6,421.7 174.4,421.5 175.2,421.6 176.0,421.7 176.8,420.8 177.6,420.5 178.4,419.5 179.2,418.6 180.0,418.5 180.8,417.7 181.6,417.2 182.4,416.5 183.3,416.1 184.1,415.6 184.9,414.3 185.7,413.8 186.5,413.6 187.3,413.1 188.1,412.5 188.9,411.4 189.7,410.8 190.5,411.1 191.3,410.2 192.1,408.8 192.9,407.9 193.7,407.1 194.5,405.9 195.3,405.6 196.2,405.8 197.0,404.2 197.8,403.4 198.6,402.7 199.4,401.4 200.2,401.4 201.0,400.2 201.8,398.0 202.6,397.2 203.4,397.4 204.2,396.2 205.0,395.1 205.8,394.5 206.6,392.9 207.4,392.1 208.2,392.0 209.0,391.0 209.9,389.6 210.7,389.2 211.5,388.8 212.3,387.5 213.1,386.6 213.9,386.3 214.7,385.8 215.5,384.8 216.3,383.7 217.1,382.9 217.9,382.6 218.7,381.8 219.5,380.6 220.3,379.6 221.1,378.0 221.9,376.9 222.8,376.3 223.6,375.9 224.4,375.6 225.2,374.8 226.0,374.3 226.8,373.9 227.6,373.4 228.4,372.7 229.2,371.7 230.0,370.3 230.8,369.3 231.6,369.4 232.4,368.4 233.2,367.6 234.0,366.6 234.8,365.3 235.6,363.8 236.5,363.8 237.3,364.3 238.1,363.2 238.9,362.4 239.7,361.4 240.5,361.2 241.3,361.0 242.1,359.6 242.9,358.0 243.7,357.4 244.5,357.3 245.3,355.3 246.1,353.4 246.9,352.5 247.7,352.6 248.5,352.4 249.4,351.4 250.2,350.5 251.0,350.1 251.8,349.8 252.6,348.9 253.4,348.6 254.2,348.8 255.0,348.4 255.8,348.0 256.6,347.4 257.4,347.0 258.2,347.0 259.0,346.1 259.8,345.5 260.6,345.9 261.4,345.3 262.2,345.2 263.1,345.4 263.9,345.0 264.7,345.1 265.5,345.0 266.3,344.5 267.1,344.8 267.9,344.8 268.7,344.0 269.5,343.6 270.3,343.4 271.1,342.5 271.9,342.2 272.7,343.0 273.5,343.2 274.3,343.1 275.1,342.8 276.0,342.8 276.8,342.3 277.6,342.5 278.4,342.7 279.2,342.0 280.0,342.6 280.8,342.5 281.6,341.8 282.4,342.2 283.2,341.5 284.0,340.9 284.8,341.8 285.6,342.2 286.4,342.3 287.2,341.9 288.0,341.6 288.8,342.1 289.7,342.5 290.5,342.2 291.3,341.9 292.1,341.7 292.9,341.8 293.7,341.3 294.5,340.7 295.3,340.8 296.1,342.0 296.9,342.0 297.7,340.9 298.5,340.8 299.3,340.8 300.1,340.7 300.9,341.3 301.7,342.2 302.6,341.2 303.4,340.3 304.2,340.2 305.0,340.0 305.8,340.1 306.6,339.3 307.4,339.5 308.2,339.9 309.0,339.7 309.8,339.6 310.6,338.9 311.4,338.5 312.2,338.6 313.0,339.3 313.8,339.3 314.6,338.4 315.4,338.2 316.3,337.7 317.1,337.9 317.9,339.1 318.7,339.6 319.5,339.2 320.3,338.7 321.1,339.2 321.9,339.4 322.7,338.8 323.5,339.6 324.3,339.7 325.1,339.8 325.9,340.2" fill="none" stroke="#dd8452" stroke-width="1.30" stroke-linejoin="round"/>
<polygon points="149.4,430.3 150.2,429.5 151.0,429.1 151.8,428.9 152.6,428.1 153.4,427.1 154.2,426.5 155.0,425.7 155.8,425.2 156.7,425.4 157.5,424.4 158.3,423.0 159.1,422.2 159.9,420.6 160.7,420.2 161.5,420.1 162.3,419.9 163.1,419.1 163.9,417.8 164.7,417.4 165.5,416.4 166.3,416.6 167.1,416.2 167.9,414.7 168.7,413.5 169.6,414.3 170.4,414.7 171.2,411.7 172.0,411.3 172.8,412.2 173.6,410.2 174.4,407.6 175.2,407.8 176.0,408.7 176.8,408.1 177.6,406.6 178.4,405.0 179.2,403.3 180.0,400.6 180.8,397.8 181.6,395.3 182.4,392.9 183.3,391.6 184.1,389.0 184.9,386.1 185.7,385.1 186.5,383.7 187.3,381.6 188.1,379.9 188.9,378.6 189.7,376.8 190.5,374.6 191.3,373.8 192.1,372.9 192.9,371.8 193.7,370.3 194.5,367.7 195.3,365.3 196.2,363.7 197.0,362.6 197.8,361.5 198.6,359.8 199.4,358.8 200.2,357.9 201.0,356.3 201.8,356.0 202.6,354.9 203.4,353.6 204.2,352.6 205.0,352.0 205.8,351.4 206.6,349.5 207.4,349.1 208.2,349.1 209.0,349.2 209.9,349.6 210.7,350.2 211.5,350.1 212.3,349.6 213.1,349.5 213.9,350.0 214.7,350.6 215.5,349.3 216.3,348.6 217.1,349.6 217.9,350.1 218.7,347.6 219.5,346.9 220.3,348.3 221.1,350.4 221.9,351.1 222.8,349.3 223.6,348.8 224.4,349.0 225.2,348.8 226.0,349.2 226.8,349.4 227.6,350.9 228.4,350.4 229.2,350.0 230.0,352.2 230.8,351.4 231.6,350.6 232.4,350.9 233.2,351.5 234.0,351.7 234.8,350.7 235.6,351.3 236.5,351.5 237.3,350.7 238.1,350.4 238.9,350.4 239.7,350.6 240.5,349.6 241.3,348.4 242.1,347.7 242.9,347.7 243.7,348.5 244.5,349.1 245.3,348.5 246.1,347.7 246.9,346.5 247.7,344.8 248.5,344.9 249.4,346.7 250.2,348.3 251.0,347.8 251.8,347.4 252.6,346.3 253.4,345.7 254.2,346.6 255.0,346.6 255.8,345.5 256.6,345.9 257.4,346.3 258.2,346.3 259.0,346.6 259.8,346.1 260.6,345.7 261.4,345.0 262.2,344.4 263.1,343.9 263.9,344.8 264.7,345.9 265.5,345.9 266.3,345.2 267.1,344.7 267.9,344.7 268.7,343.8 269.5,342.6 270.3,343.3 271.1,343.9 271.9,343.8 272.7,343.3 273.5,343.0 274.3,343.7 275.1,343.7 276.0,343.6 276.8,343.1 277.6,341.3 278.4,341.7 279.2,341.8 280.0,341.3 280.8,341.6 281.6,339.9 282.4,338.7 283.2,339.4 284.0,340.0 284.8,340.0 285.6,339.7 286.4,339.6 287.2,339.9 288.0,340.2 288.8,339.8 289.7,340.5 290.5,339.2 291.3,337.9 292.1,339.3 292.9,340.6 293.7,340.5 294.5,340.1 295.3,340.0 296.1,340.3 296.9,340.4 297.7,339.4 298.5,338.6 299.3,339.8 300.1,340.0 300.9,339.3 301.7,339.9 302.6,339.4 303.4,339.1 304.2,338.4 305.0,337.5 305.8,338.1 306.6,338.8 307.4,337.5 308.2,335.9 309.0,336.7 309.8,337.8 310.6,337.4 311.4,336.4 312.2,337.3 313.0,337.1 313.8,336.9 314.6,337.3 315.4,337.5 316.3,338.2 317.1,338.2 317.9,338.4 318.7,337.6 319.5,338.3 320.3,339.2 321.1,338.5 321.9,338.8 322.7,338.1 323.5,338.9 324.3,338.8 325.1,338.5 325.9,339.6 325.9,389.6 325.1,391.4 324.3,391.5 323.5,391.9 322.7,393.5 321.9,391.9 321.1,392.7 320.3,394.9 319.5,394.2 318.7,393.5 317.9,393.3 317.1,394.1 316.3,395.3 315.4,395.9 314.6,396.2 313.8,395.8 313.0,396.9 312.2,396.9 311.4,397.2 310.6,399.1 309.8,399.1 309.0,399.0 308.2,398.8 307.4,398.4 306.6,399.4 305.8,400.0 305.0,399.9 304.2,400.5 303.4,401.5 302.6,402.6 301.7,402.1 300.9,402.7 300.1,403.4 299.3,402.9 298.5,402.5 297.7,402.6 296.9,403.3 296.1,404.0 295.3,405.1 294.5,406.4 293.7,407.9 292.9,408.5 292.1,407.1 291.3,406.8 290.5,407.2 289.7,408.4 288.8,409.7 288.0,409.6 287.2,410.0 286.4,410.1 285.6,410.6 284.8,410.5 284.0,410.3 283.2,410.6 282.4,411.2 281.6,411.7 280.8,412.4 280.0,411.9 279.2,411.0 278.4,411.8 277.6,412.8 276.8,413.5 276.0,414.5 275.1,416.3 274.3,414.6 273.5,413.6 272.7,415.1 271.9,415.4 271.1,414.9 270.3,414.6 269.5,415.5 268.7,416.3 267.9,416.5 267.1,415.9 266.3,416.7 265.5,417.9 264.7,417.4 263.9,417.0 263.1,416.1 262.2,414.7 261.4,415.8 260.6,416.6 259.8,417.8 259.0,418.2 258.2,416.8 257.4,417.7 256.6,417.3 255.8,416.8 255.0,418.1 254.2,418.2 253.4,417.4 252.6,416.4 251.8,416.8 251.0,417.3 250.2,417.2 249.4,416.5 248.5,417.5 247.7,416.7 246.9,415.1 246.1,417.2 245.3,417.0 244.5,416.5 243.7,416.5 242.9,415.1 242.1,415.6 241.3,416.0 240.5,414.1 239.7,413.1 238.9,413.7 238.1,413.5 237.3,412.4 236.5,413.2 235.6,412.6 234.8,411.0 234.0,411.5 233.2,411.4 232.4,410.5 231.6,411.7 230.8,411.1 230.0,410.2 229.2,411.1 228.4,410.3 227.6,410.1 226.8,409.7 226.0,408.5 225.2,408.6 224.4,408.0 223.6,407.4 222.8,406.5 221.9,405.3 221.1,405.2 220.3,404.7 219.5,404.0 218.7,403.0 217.9,402.7 217.1,400.6 216.3,399.3 215.5,401.0 214.7,399.6 213.9,397.3 213.1,398.1 212.3,398.3 211.5,398.8 210.7,400.7 209.9,399.9 209.0,398.8 208.2,398.8 207.4,398.4 206.6,398.7 205.8,399.4 205.0,400.4 204.2,401.2 203.4,400.8 202.6,401.7 201.8,403.0 201.0,403.5 200.2,404.3 199.4,404.4 198.6,405.7 197.8,406.1 197.0,404.9 196.2,405.4 195.3,406.9 194.5,408.0 193.7,408.3 192.9,410.0 192.1,411.1 191.3,411.3 190.5,413.3 189.7,414.9 188.9,416.3 188.1,418.5 187.3,419.8 186.5,421.2 185.7,422.1 184.9,423.0 184.1,424.2 183.3,423.3 182.4,424.0 181.6,424.9 180.8,424.0 180.0,425.0 179.2,425.3 178.4,424.8 177.6,425.1 176.8,426.6 176.0,426.9 175.2,425.8 174.4,426.2 173.6,426.8 172.8,427.9 172.0,428.3 171.2,428.1 170.4,429.1 169.6,429.1 168.7,429.0 167.9,430.3 167.1,430.4 166.3,429.6 165.5,429.8 164.7,431.1 163.9,430.4 163.1,429.6 162.3,430.9 161.5,431.5 160.7,431.3 159.9,431.6 159.1,432.2 158.3,432.1 157.5,432.3 156.7,433.1 155.8,432.5 155.0,432.4 154.2,433.0 153.4,433.2 152.6,433.7 151.8,433.7 151.0,433.4 150.2,433.3 149.4,433.3" fill="#4c72b0" fill-opacity="0.30"/>
<polyline points="149.4,432.7 150.2,430.6 151.0,428.4 151.8,426.7 152.6,426.2 153.4,425.7 154.2,425.2 155.0,424.7 155.8,424.6 156.7,424.5 157.5,423.7 158.3,423.1 159.1,423.2 159.9,423.3 160.7,423.2 161.5,422.8 162.3,422.5 163.1,422.5 163.9,422.1 164.7,422.0 165.5,421.5 166.3,420.9 167.1,420.8 167.9,420.4 168.7,419.8 169.6,419.5 170.4,419.4 171.2,418.9 172.0,417.9 172.8,417.0 173.6,416.7 174.4,416.7 175.2,416.3 176.0,415.0 176.8,414.1 177.6,414.5 178.4,414.2 179.2,413.3 180.0,412.7 180.8,412.3 181.6,411.3 182.4,410.4 183.3,409.8 184.1,407.8 184.9,406.4 185.7,406.5 186.5,406.5 187.3,405.8 188.1,405.3 188.9,404.5 189.7,403.0 190.5,401.9 191.3,400.1 192.1,398.1 192.9,396.9 193.7,394.4 194.5,392.1 195.3,390.9 196.2,388.7 197.0,386.7 197.8,386.3 198.6,385.6 199.4,384.7 200.2,384.8 201.0,383.3 201.8,381.8 202.6,382.5 203.4,382.4 204.2,382.0 205.0,381.2 205.8,379.6 206.6,379.0 207.4,377.2 208.2,375.8 209.0,375.2 209.9,373.9 210.7,373.4 211.5,373.3 212.3,373.3 213.1,373.4 213.9,373.3 214.7,373.6 215.5,374.5 216.3,374.4 217.1,374.4 217.9,374.8 218.7,375.4 219.5,376.5 220.3,376.9 221.1,377.1 221.9,378.0 222.8,378.9 223.6,379.5 224.4,379.7 225.2,378.8 226.0,378.4 226.8,378.9 227.6,378.6 228.4,378.5 229.2,378.8 230.0,379.6 230.8,380.4 231.6,380.7 232.4,381.9 233.2,382.8 234.0,383.5 234.8,383.6 235.6,384.7 236.5,384.9 237.3,384.9 238.1,385.8 238.9,386.7 239.7,386.7 240.5,385.6 241.3,385.9 242.1,386.3 242.9,386.8 243.7,387.1 244.5,386.7 245.3,387.1 246.1,387.5 246.9,387.3 247.7,387.7 248.5,388.0 249.4,387.9 250.2,388.2 251.0,387.4 251.8,387.3 252.6,387.6 253.4,387.0 254.2,388.3 255.0,388.6 255.8,387.3 256.6,387.0 257.4,387.7 258.2,387.8 259.0,387.8 259.8,388.2 260.6,387.7 261.4,387.1 262.2,386.2 263.1,385.9 263.9,385.7 264.7,386.0 265.5,386.4 266.3,385.7 267.1,384.1 267.9,384.0 268.7,384.8 269.5,383.9 270.3,382.4 271.1,382.6 271.9,382.7 272.7,382.3 273.5,381.3 274.3,380.1 275.1,380.2 276.0,380.2 276.8,380.0 277.6,379.6 278.4,379.4 279.2,379.5 280.0,379.4 280.8,378.7 281.6,378.3 282.4,377.6 283.2,377.8 284.0,377.7 284.8,376.4 285.6,375.9 286.4,375.9 287.2,376.8 288.0,376.8 288.8,375.6 289.7,375.2 290.5,375.6 291.3,375.5 292.1,375.2 292.9,374.9 293.7,375.3 294.5,375.3 295.3,374.1 296.1,373.1 296.9,373.4 297.7,373.9 298.5,373.1 299.3,372.7 300.1,373.4 300.9,373.1 301.7,372.0 302.6,371.0 303.4,371.1 304.2,371.0 305.0,370.5 305.8,369.9 306.6,369.2 307.4,369.0 308.2,369.1 309.0,368.8 309.8,368.1 310.6,369.0 311.4,368.1 312.2,366.3 313.0,366.3 313.8,366.1 314.6,365.7 315.4,365.2 316.3,365.4 317.1,365.2 317.9,364.3 318.7,364.1 319.5,364.4 320.3,364.2 321.1,363.9 321.9,363.4 322.7,362.2 323.5,361.8 324.3,362.2 325.1,362.5 325.9,362.4" fill="none" stroke="#4c72b0" stroke-width="1.30" stroke-linejoin="round"/>
<polygon points="149.4,422.8 150.2,423.3 151.0,423.9 151.8,423.7 152.6,423.4 153.4,423.3 154.2,423.4 155.0,423.5 155.8,423.8 156.7,423.9 157.5,423.6 158.3,424.1 159.1,424.0 159.9,423.9 160.7,424.4 161.5,424.3 162.3,424.6 163.1,424.5 163.9,424.7 164.7,425.1 165.5,425.2 166.3,425.3 167.1,425.1 167.9,425.4 168.7,425.5 169.6,425.5 170.4,425.6 171.2,425.4 172.0,425.7 172.8,425.7 173.6,425.4 174.4,425.6 175.2,425.8 176.0,426.0 176.8,426.1 177.6,426.1 178.4,426.5 179.2,426.7 180.0,426.6 180.8,426.2 181.6,425.9 182.4,426.0 183.3,426.0 184.1,425.9 184.9,425.7 185.7,425.5 186.5,425.9 187.3,426.0 188.1,425.6 188.9,426.0 189.7,426.3 190.5,426.2 191.3,426.0 192.1,425.4 192.9,425.7 193.7,425.9 194.5,426.0 195.3,425.9 196.2,425.5 197.0,425.4 197.8,425.7 198.6,425.9 199.4,425.6 200.2,425.4 201.0,425.6 201.8,425.7 202.6,425.6 203.4,425.3 204.2,425.5 205.0,425.8 205.8,425.8 206.6,425.5 207.4,425.6 208.2,426.1 209.0,426.0 209.9,425.5 210.7,425.7 211.5,426.0 212.3,426.1 213.1,426.2 213.9,425.9 214.7,425.9 215.5,426.1 216.3,425.9 217.1,426.0 217.9,425.9 218.7,426.2 219.5,426.5 220.3,425.9 221.1,425.9 221.9,425.9 222.8,425.9 223.6,426.0 224.4,426.1 225.2,426.4 226.0,426.1 226.8,426.0 227.6,426.2 228.4,426.4 229.2,426.5 230.0,426.4 230.8,426.3 231.6,426.4 232.4,426.2 233.2,426.3 234.0,426.8 234.8,426.8 235.6,426.5 236.5,426.1 237.3,426.1 238.1,426.2 238.9,426.1 239.7,425.8 240.5,425.9 241.3,426.4 242.1,426.5 242.9,426.3 243.7,426.3 244.5,426.5 245.3,426.4 246.1,426.1 246.9,426.0 247.7,426.2 248.5,426.4 249.4,426.2 250.2,425.9 251.0,425.7 251.8,425.9 252.6,426.2 253.4,425.9 254.2,425.8 255.0,425.9 255.8,426.0 256.6,426.1 257.4,426.1 258.2,425.9 259.0,426.3 259.8,426.6 260.6,426.3 261.4,426.2 262.2,426.1 263.1,425.9 263.9,425.8 264.7,425.7 265.5,425.8 266.3,426.1 267.1,426.1 267.9,425.9 268.7,425.8 269.5,426.1 270.3,425.9 271.1,425.9 271.9,426.2 272.7,426.3 273.5,426.5 274.3,426.3 275.1,425.9 276.0,425.8 276.8,425.8 277.6,426.2 278.4,426.1 279.2,426.0 280.0,426.4 280.8,426.2 281.6,426.2 282.4,426.4 283.2,426.3 284.0,426.0 284.8,425.9 285.6,425.9 286.4,425.7 287.2,425.7 288.0,426.2 288.8,426.4 289.7,426.3 290.5,426.2 291.3,426.2 292.1,426.3 292.9,426.1 293.7,426.0 294.5,426.2 295.3,426.1 296.1,426.0 296.9,426.3 297.7,426.5 298.5,426.7 299.3,426.3 300.1,425.9 300.9,426.2 301.7,426.4 302.6,426.1 303.4,426.2 304.2,426.4 305.0,426.4 305.8,426.5 306.6,426.4 307.4,426.3 308.2,426.1 309.0,425.8 309.8,426.1 310.6,426.3 311.4,426.2 312.2,425.9 313.0,425.7 313.8,426.0 314.6,426.5 315.4,426.1 316.3,425.9 317.1,426.0 317.9,425.9 318.7,425.9 319.5,425.8 320.3,425.7 321.1,425.5 321.9,425.7 322.7,425.8 323.5,425.9 324.3,426.1 325.1,425.9 325.9,425.8 325.9,429.7 325.1,429.6 324.3,429.9 323.5,430.0 322.7,430.0 321.9,430.0 321.1,429.7 320.3,429.7 319.5,429.9 318.7,430.3 317.9,430.4 317.1,430.2 316.3,430.0 315.4,430.1 314.6,430.2 313.8,429.9 313.0,429.8 312.2,430.0 311.4,430.5 310.6,430.6 309.8,430.2 309.0,430.2 308.2,430.2 307.4,430.3 306.6,430.4 305.8,430.3 305.0,430.6 304.2,430.6 303.4,430.3 302.6,430.2 301.7,430.3 300.9,430.3 300.1,430.6 299.3,430.6 298.5,430.4 297.7,430.4 296.9,430.3 296.1,430.5 295.3,430.7 294.5,430.7 293.7,430.6 292.9,430.7 292.1,430.9 291.3,430.5 290.5,430.4 289.7,430.9 288.8,431.1 288.0,430.6 287.2,430.3 286.4,430.3 285.6,430.5 284.8,430.5 284.0,430.3 283.2,430.5 282.4,430.7 281.6,430.8 280.8,430.6 280.0,430.8 279.2,431.1 278.4,430.8 277.6,430.4 276.8,430.5 276.0,430.8 275.1,431.0 274.3,431.1 273.5,431.0 272.7,431.0 271.9,431.0 271.1,430.7 270.3,430.5 269.5,430.4 268.7,430.5 267.9,430.8 267.1,430.9 266.3,430.8 265.5,430.7 264.7,430.6 263.9,430.5 263.1,430.7 262.2,431.0 261.4,430.9 260.6,430.9 259.8,431.0 259.0,430.8 258.2,430.7 257.4,430.7 256.6,430.5 255.8,430.6 255.0,430.7 254.2,430.4 253.4,430.5 252.6,430.9 251.8,431.2 251.0,430.9 250.2,431.0 249.4,431.3 248.5,431.0 247.7,430.9 246.9,430.9 246.1,430.7 245.3,430.8 244.5,431.0 243.7,431.0 242.9,431.3 242.1,431.3 241.3,430.9 240.5,431.0 239.7,431.1 238.9,431.3 238.1,431.5 237.3,431.3 236.5,430.8 235.6,431.4 234.8,432.1 234.0,431.6 233.2,431.4 232.4,431.4 231.6,430.9 230.8,431.0 230.0,431.6 229.2,431.7 228.4,431.4 227.6,430.9 226.8,430.9 226.0,431.1 225.2,431.2 224.4,431.2 223.6,431.3 222.8,431.0 221.9,431.0 221.1,431.5 220.3,431.5 219.5,431.4 218.7,431.1 217.9,431.2 217.1,431.6 216.3,431.1 215.5,431.0 214.7,431.4 213.9,431.5 213.1,431.2 212.3,431.4 211.5,431.3 210.7,430.8 209.9,431.0 209.0,431.1 208.2,431.0 207.4,431.0 206.6,430.9 205.8,430.9 205.0,430.9 204.2,431.3 203.4,431.5 202.6,431.2 201.8,431.5 201.0,431.5 200.2,431.1 199.4,431.0 198.6,431.0 197.8,431.2 197.0,430.9 196.2,430.7 195.3,431.0 194.5,431.1 193.7,431.1 192.9,431.0 192.1,431.0 191.3,431.4 190.5,431.8 189.7,431.9 188.9,431.6 188.1,431.3 187.3,431.6 186.5,431.8 185.7,431.5 184.9,431.4 184.1,431.8 183.3,431.7 182.4,431.3 181.6,431.5 180.8,431.7 180.0,431.6 179.2,431.8 178.4,432.2 177.6,432.2 176.8,432.4 176.0,431.9 175.2,431.4 174.4,431.4 173.6,431.4 172.8,431.9 172.0,432.0 171.2,431.2 170.4,431.0 169.6,431.3 168.7,431.0 167.9,430.8 167.1,430.8 166.3,430.6 165.5,430.8 164.7,430.9 163.9,430.2 163.1,430.2 162.3,430.1 161.5,430.5 160.7,430.9 159.9,430.5 159.1,430.2 158.3,429.8 157.5,429.6 156.7,429.4 155.8,428.9 155.0,429.1 154.2,429.2 153.4,429.4 152.6,429.7 151.8,429.5 151.0,429.8 150.2,429.3 149.4,429.0" fill="#55a868" fill-opacity="0.36"/>
<polyline points="149.4,426.1 150.2,426.1 151.0,426.6 151.8,426.7 152.6,426.6 153.4,426.5 154.2,426.5 155.0,426.4 155.8,426.4 156.7,426.8 157.5,426.9 158.3,427.1 159.1,427.2 159.9,427.2 160.7,427.5 161.5,427.3 162.3,427.2 163.1,427.2 163.9,427.5 164.7,427.9 165.5,427.8 166.3,427.8 167.1,427.9 167.9,428.1 168.7,428.2 169.6,428.4 170.4,428.3 171.2,428.3 172.0,428.7 172.8,428.7 173.6,428.6 174.4,428.7 175.2,428.8 176.0,428.9 176.8,428.9 177.6,429.1 178.4,429.3 179.2,429.2 180.0,429.0 180.8,428.7 181.6,428.7 182.4,428.9 183.3,428.7 184.1,428.7 184.9,428.7 185.7,428.6 186.5,428.8 187.3,428.8 188.1,428.6 188.9,428.8 189.7,428.9 190.5,428.9 191.3,428.6 192.1,428.2 192.9,428.2 193.7,428.3 194.5,428.5 195.3,428.5 196.2,428.1 197.0,428.0 197.8,428.3 198.6,428.4 199.4,428.3 200.2,428.3 201.0,428.3 201.8,428.4 202.6,428.4 203.4,428.4 204.2,428.3 205.0,428.3 205.8,428.2 206.6,428.2 207.4,428.3 208.2,428.4 209.0,428.4 209.9,428.3 210.7,428.3 211.5,428.4 212.3,428.5 213.1,428.5 213.9,428.6 214.7,428.8 215.5,428.7 216.3,428.5 217.1,428.7 217.9,428.5 218.7,428.6 219.5,428.7 220.3,428.6 221.1,428.7 221.9,428.6 222.8,428.5 223.6,428.7 224.4,428.9 225.2,429.1 226.0,428.9 226.8,428.6 227.6,428.6 228.4,428.8 229.2,428.8 230.0,428.8 230.8,428.6 231.6,428.8 232.4,428.9 233.2,428.8 234.0,428.9 234.8,429.0 235.6,428.8 236.5,428.6 237.3,428.8 238.1,428.8 238.9,428.7 239.7,428.6 240.5,428.5 241.3,428.6 242.1,428.8 242.9,428.8 243.7,428.7 244.5,428.7 245.3,428.5 246.1,428.3 246.9,428.3 247.7,428.4 248.5,428.6 249.4,428.7 250.2,428.5 251.0,428.4 251.8,428.5 252.6,428.5 253.4,428.3 254.2,428.1 255.0,428.3 255.8,428.3 256.6,428.2 257.4,428.2 258.2,428.3 259.0,428.5 259.8,428.7 260.6,428.7 261.4,428.8 262.2,428.6 263.1,428.3 263.9,428.4 264.7,428.4 265.5,428.3 266.3,428.3 267.1,428.5 267.9,428.4 268.7,428.1 269.5,428.3 270.3,428.2 271.1,428.2 271.9,428.4 272.7,428.5 273.5,428.6 274.3,428.6 275.1,428.6 276.0,428.4 276.8,428.2 277.6,428.5 278.4,428.4 279.2,428.5 280.0,428.5 280.8,428.3 281.6,428.3 282.4,428.5 283.2,428.5 284.0,428.4 284.8,428.4 285.6,428.2 286.4,428.1 287.2,428.1 288.0,428.3 288.8,428.5 289.7,428.4 290.5,428.3 291.3,428.5 292.1,428.6 292.9,428.2 293.7,428.3 294.5,428.5 295.3,428.5 296.1,428.3 296.9,428.3 297.7,428.3 298.5,428.5 299.3,428.4 300.1,428.2 300.9,428.3 301.7,428.3 302.6,428.2 303.4,428.3 304.2,428.5 305.0,428.5 305.8,428.4 306.6,428.6 307.4,428.5 308.2,428.1 309.0,428.1 309.8,428.1 310.6,428.3 311.4,428.4 312.2,428.0 313.0,427.8 313.8,428.0 314.6,428.2 315.4,428.1 316.3,428.1 317.1,428.2 317.9,428.2 318.7,428.1 319.5,428.0 320.3,427.8 321.1,427.8 321.9,428.0 322.7,428.0 323.5,428.0 324.3,428.0 325.1,427.9 325.9,427.8" fill="none" stroke="#55a868" stroke-width="1.30" stroke-linejoin="round"/>
</g>
<rect x="141.30" y="327.00" width="193.70" height="112.10" fill="none" stroke="#dcdcdc" stroke-width="1.00"/>
<text x="149.40" y="449.88" font-size="7.20" text-anchor="middle" textLength="4.0" lengthAdjust="spacingAndGlyphs" fill="#262626" stroke="#262626" stroke-width="0.05">0</text>
<text x="176.60" y="449.88" font-size="7.20" text-anchor="middle" textLength="12.0" lengthAdjust="spacingAndGlyphs" fill="#262626" stroke="#262626" stroke-width="0.05">100</text>
<text x="203.80" y="449.88" font-size="7.20" text-anchor="middle" textLength="12.0" lengthAdjust="spacingAndGlyphs" fill="#262626" stroke="#262626" stroke-width="0.05">200</text>
<text x="231.00" y="449.88" font-size="7.20" text-anchor="middle" textLength="12.0" lengthAdjust="spacingAndGlyphs" fill="#262626" stroke="#262626" stroke-width="0.05">300</text>
<text x="258.20" y="449.88" font-size="7.20" text-anchor="middle" textLength="12.0" lengthAdjust="spacingAndGlyphs" fill="#262626" stroke="#262626" stroke-width="0.05">400</text>
<text x="285.40" y="449.88" font-size="7.20" text-anchor="middle" textLength="12.0" lengthAdjust="spacingAndGlyphs" fill="#262626" stroke="#262626" stroke-width="0.05">500</text>
<text x="312.60" y="449.88" font-size="7.20" text-anchor="middle" textLength="12.0" lengthAdjust="spacingAndGlyphs" fill="#262626" stroke="#262626" stroke-width="0.05">600</text>
<text x="135.20" y="436.48" font-size="7.20" text-anchor="end" textLength="10.0" lengthAdjust="spacingAndGlyphs" fill="#262626" stroke="#262626" stroke-width="0.05">0.0</text>
<text x="135.20" y="416.36" font-size="7.20" text-anchor="end" textLength="10.0" lengthAdjust="spacingAndGlyphs" fill="#262626" stroke="#262626" stroke-width="0.05">0.2</text>
<text x="135.20" y="396.24" font-size="7.20" text-anchor="end" textLength="10.0" lengthAdjust="spacingAndGlyphs" fill="#262626" stroke="#262626" stroke-width="0.05">0.4</text>
<text x="135.20" y="376.12" font-size="7.20" text-anchor="end" textLength="10.0" lengthAdjust="spacingAndGlyphs" fill="#262626" stroke="#262626" stroke-width="0.05">0.6</text>
<text x="135.20" y="356.00" font-size="7.20" text-anchor="end" textLength="10.0" lengthAdjust="spacingAndGlyphs" fill="#262626" stroke="#262626" stroke-width="0.05">0.8</text>
<text x="135.20" y="335.88" font-size="7.20" text-anchor="end" textLength="10.0" lengthAdjust="spacingAndGlyphs" fill="#262626" stroke="#262626" stroke-width="0.05">1.0</text>
<text x="238.50" y="323.30" font-size="7.60" text-anchor="middle" textLength="88.0" lengthAdjust="spacingAndGlyphs" fill="#262626" stroke="#262626" stroke-width="0.05">Overcooked-Simple-Tomato</text>
<text x="237.90" y="458.40" font-size="7.50" text-anchor="middle" textLength="28.4" lengthAdjust="spacingAndGlyphs" fill="#262626" stroke="#262626" stroke-width="0.05">Episodes</text>
<text x="0" y="0" font-size="7.50" text-anchor="middle" textLength="62.7" lengthAdjust="spacingAndGlyphs" fill="#262626" stroke="#262626" stroke-width="0.05" transform="translate(122.40,383.40) rotate(-90)">Normalized Reward</text>
<clipPath id="clip8"><rect x="374.50" y="326.30" width="193.60" height="111.90"/></clipPath>
<line x1="383.40" y1="326.30" x2="383.40" y2="438.20" stroke="#e4e5e7" stroke-width="1.00"/>
<line x1="405.44" y1="326.30" x2="405.44" y2="438.20" stroke="#e4e5e7" stroke-width="1.00"/>
<line x1="427.48" y1="326.30" x2="427.48" y2="438.20" stroke="#e4e5e7" stroke-width="1.00"/>
<line x1="449.52" y1="326.30" x2="449.52" y2="438.20" stroke="#e4e5e7" stroke-width="1.00"/>
<line x1="471.56" y1="326.30" x2="471.56" y2="438.20" stroke="#e4e5e7" stroke-width="1.00"/>
<line x1="493.60" y1="326.30" x2="493.60" y2="438.20" stroke="#e4e5e7" stroke-width="1.00"/>
<line x1="515.64" y1="326.30" x2="515.64" y2="438.20" stroke="#e4e5e7" stroke-width="1.00"/>
<line x1="537.68" y1="326.30" x2="537.68" y2="438.20" stroke="#e4e5e7" stroke-width="1.00"/>
<line x1="559.72" y1="326.30" x2="559.72" y2="438.20" stroke="#e4e5e7" stroke-width="1.00"/>
<line x1="374.50" y1="433.00" x2="568.10" y2="433.00" stroke="#e4e5e7" stroke-width="1.00"/>
<line x1="374.50" y1="408.02" x2="568.10" y2="408.02" stroke="#e4e5e7" stroke-width="1.00"/>
<line x1="374.50" y1="383.04" x2="568.10" y2="383.04" stroke="#e4e5e7" stroke-width="1.00"/>
<line x1="374.50" y1="358.06" x2="568.10" y2="358.06" stroke="#e4e5e7" stroke-width="1.00"/>
<line x1="374.50" y1="333.08" x2="568.10" y2="333.08" stroke="#e4e5e7" stroke-width="1.00"/>
<g clip-path="url(#clip8)">
<polygon points="383.4,433.0 385.2,432.8 387.0,432.3 388.7,431.6 390.5,431.0 392.3,430.2 394.1,429.3 395.9,428.5 397.6,427.6 399.4,426.8 401.2,425.7 403.0,424.5 404.8,423.4 406.6,422.1 408.3,420.8 410.1,419.2 411.9,417.6 413.7,415.9 415.5,414.1 417.2,412.1 419.0,409.9 420.8,407.6 422.6,405.6 424.4,403.6 426.1,400.8 427.9,399.3 429.7,397.6 431.5,394.8 433.3,391.9 435.0,388.9 436.8,386.8 438.6,385.6 440.4,385.1 442.2,384.5 444.0,383.7 445.7,383.2 447.5,383.0 449.3,382.4 451.1,382.0 452.9,381.8 454.6,381.2 456.4,381.1 458.2,380.5 460.0,379.5 461.8,378.9 463.5,378.0 465.3,377.4 467.1,376.4 468.9,375.6 470.7,376.3 472.5,377.2 474.2,377.0 476.0,376.8 477.8,377.5 479.6,378.4 481.4,379.4 483.1,380.3 484.9,379.7 486.7,379.0 488.5,379.6 490.3,379.2 492.0,379.1 493.8,379.1 495.6,378.1 497.4,378.1 499.2,378.0 500.9,377.7 502.7,377.1 504.5,376.1 506.3,375.5 508.1,375.3 509.9,374.8 511.6,374.9 513.4,374.3 515.2,373.4 517.0,373.9 518.8,373.5 520.5,373.0 522.3,372.5 524.1,371.9 525.9,372.1 527.7,371.4 529.4,370.0 531.2,370.2 533.0,369.8 534.8,368.8 536.6,368.5 538.3,367.9 540.1,367.9 541.9,367.4 543.7,366.6 545.5,365.6 547.3,365.1 549.0,365.6 550.8,365.1 552.6,364.7 554.4,365.1 556.2,365.4 557.9,365.6 559.7,365.7 559.7,417.0 557.9,417.7 556.2,417.8 554.4,417.8 552.6,418.1 550.8,419.1 549.0,419.7 547.3,419.3 545.5,419.1 543.7,419.4 541.9,419.3 540.1,419.3 538.3,419.8 536.6,419.9 534.8,419.8 533.0,420.2 531.2,420.6 529.4,420.5 527.7,420.7 525.9,421.2 524.1,421.1 522.3,421.1 520.5,421.0 518.8,421.2 517.0,421.0 515.2,421.1 513.4,421.3 511.6,420.9 509.9,421.1 508.1,421.0 506.3,420.5 504.5,420.0 502.7,419.8 500.9,420.0 499.2,420.0 497.4,419.4 495.6,418.9 493.8,418.8 492.0,419.1 490.3,419.3 488.5,419.1 486.7,418.6 484.9,418.1 483.1,417.7 481.4,417.2 479.6,416.7 477.8,416.7 476.0,416.7 474.2,416.6 472.5,416.7 470.7,416.3 468.9,415.9 467.1,416.5 465.3,417.1 463.5,417.6 461.8,417.4 460.0,416.9 458.2,417.4 456.4,417.6 454.6,417.5 452.9,417.8 451.1,417.4 449.3,417.2 447.5,417.6 445.7,417.7 444.0,417.5 442.2,417.6 440.4,417.4 438.6,417.6 436.8,417.6 435.0,417.8 433.3,418.4 431.5,418.9 429.7,419.4 427.9,419.4 426.1,420.0 424.4,421.1 422.6,421.4 420.8,422.0 419.0,422.4 417.2,422.7 415.5,423.5 413.7,424.2 411.9,424.8 410.1,425.3 408.3,426.0 406.6,426.5 404.8,426.9 403.0,427.5 401.2,428.1 399.4,428.6 397.6,429.0 395.9,429.4 394.1,429.9 392.3,430.3 390.5,430.8 388.7,431.5 387.0,432.1 385.2,432.6 383.4,433.0" fill="#4c72b0" fill-opacity="0.30"/>
<polyline points="383.4,433.0 385.2,432.9 387.0,432.9 388.7,432.9 390.5,432.6 392.3,432.0 394.1,431.3 395.9,430.4 397.6,429.4 399.4,428.3 401.2,427.3 403.0,426.2 404.8,425.3 406.6,424.6 408.3,423.8 410.1,423.2 411.9,422.5 413.7,421.7 415.5,420.4 417.2,419.0 419.0,417.4 420.8,415.8 422.6,414.1 424.4,412.5 426.1,411.2 427.9,409.7 429.7,408.6 431.5,407.4 433.3,406.0 435.0,404.7 436.8,403.8 438.6,403.1 440.4,402.4 442.2,402.0 444.0,401.7 445.7,401.4 447.5,400.5 449.3,399.9 451.1,399.5 452.9,398.8 454.6,398.4 456.4,398.9 458.2,399.0 460.0,398.8 461.8,398.6 463.5,398.6 465.3,398.4 467.1,397.7 468.9,397.4 470.7,397.2 472.5,397.3 474.2,397.4 476.0,397.6 477.8,397.9 479.6,397.8 481.4,398.2 483.1,399.0 484.9,399.4 486.7,399.2 488.5,399.1 490.3,399.0 492.0,398.9 493.8,398.9 495.6,398.7 497.4,398.4 499.2,398.1 500.9,397.8 502.7,397.4 504.5,397.5 506.3,397.6 508.1,398.0 509.9,398.2 511.6,397.9 513.4,397.8 515.2,398.3 517.0,398.7 518.8,398.1 520.5,397.8 522.3,397.6 524.1,397.2 525.9,396.9 527.7,396.9 529.4,396.8 531.2,396.2 533.0,395.8 534.8,395.7 536.6,395.3 538.3,394.6 540.1,393.8 541.9,392.6 543.7,391.9 545.5,392.0 547.3,391.9 549.0,392.1 550.8,392.1 552.6,391.9 554.4,392.0 556.2,391.9 557.9,391.4 559.7,391.2" fill="none" stroke="#4c72b0" stroke-width="1.30" stroke-linejoin="round"/>
<polygon points="383.4,433.0 385.2,432.4 387.0,431.8 388.7,431.3 390.5,430.6 392.3,429.8 394.1,429.0 395.9,428.3 397.6,427.6 399.4,426.8 401.2,426.1 403.0,425.5 404.8,424.7 406.6,423.9 408.3,423.2 410.1,422.3 411.9,421.5 413.7,420.7 415.5,420.0 417.2,419.2 419.0,418.2 420.8,417.5 422.6,416.7 424.4,415.7 426.1,415.0 427.9,414.1 429.7,413.1 431.5,412.3 433.3,411.1 435.0,410.2 436.8,409.4 438.6,408.3 440.4,407.4 442.2,406.5 444.0,405.5 445.7,404.7 447.5,404.0 449.3,402.9 451.1,402.1 452.9,401.3 454.6,400.4 456.4,399.0 458.2,397.8 460.0,396.8 461.8,395.9 463.5,394.6 465.3,393.0 467.1,391.8 468.9,390.3 470.7,389.5 472.5,388.0 474.2,386.4 476.0,386.0 477.8,385.1 479.6,383.3 481.4,381.5 483.1,380.6 484.9,379.7 486.7,378.5 488.5,377.8 490.3,376.7 492.0,375.6 493.8,374.9 495.6,374.0 497.4,371.8 499.2,369.3 500.9,367.7 502.7,365.1 504.5,362.6 506.3,361.6 508.1,360.4 509.9,358.3 511.6,356.5 513.4,354.9 515.2,352.4 517.0,350.3 518.8,349.6 520.5,348.9 522.3,347.5 524.1,346.6 525.9,346.0 527.7,344.5 529.4,342.8 531.2,341.6 533.0,340.0 534.8,339.1 536.6,337.8 538.3,336.8 540.1,336.5 541.9,336.0 543.7,335.3 545.5,334.4 547.3,334.3 549.0,334.0 550.8,333.6 552.6,333.8 554.4,333.5 556.2,332.8 557.9,332.4 559.7,332.2 559.7,368.8 557.9,368.9 556.2,368.9 554.4,368.9 552.6,369.3 550.8,369.9 549.0,370.0 547.3,370.6 545.5,371.2 543.7,371.9 541.9,373.1 540.1,373.6 538.3,374.7 536.6,375.5 534.8,376.4 533.0,377.2 531.2,377.8 529.4,378.5 527.7,379.5 525.9,381.2 524.1,382.2 522.3,383.1 520.5,384.1 518.8,385.1 517.0,387.0 515.2,388.5 513.4,389.9 511.6,391.9 509.9,393.7 508.1,395.3 506.3,397.8 504.5,399.4 502.7,400.7 500.9,402.7 499.2,404.6 497.4,406.4 495.6,407.4 493.8,408.5 492.0,409.2 490.3,409.5 488.5,410.7 486.7,411.6 484.9,411.0 483.1,410.4 481.4,409.7 479.6,408.5 477.8,407.7 476.0,406.5 474.2,405.7 472.5,405.4 470.7,405.4 468.9,405.9 467.1,406.5 465.3,407.5 463.5,409.3 461.8,410.9 460.0,411.8 458.2,413.0 456.4,413.7 454.6,413.9 452.9,414.6 451.1,414.7 449.3,414.8 447.5,415.2 445.7,415.1 444.0,415.2 442.2,415.4 440.4,415.5 438.6,415.6 436.8,415.8 435.0,416.1 433.3,416.4 431.5,417.0 429.7,417.4 427.9,417.7 426.1,418.2 424.4,418.9 422.6,419.3 420.8,419.8 419.0,420.2 417.2,420.7 415.5,421.2 413.7,421.8 411.9,422.4 410.1,423.0 408.3,423.5 406.6,423.9 404.8,424.5 403.0,425.1 401.2,425.8 399.4,426.5 397.6,427.1 395.9,427.8 394.1,428.5 392.3,429.2 390.5,430.0 388.7,430.5 387.0,431.3 385.2,432.2 383.4,433.0" fill="#dd8452" fill-opacity="0.35"/>
<polyline points="383.4,433.0 385.2,432.8 387.0,432.5 388.7,432.1 390.5,431.7 392.3,431.3 394.1,430.7 395.9,429.9 397.6,429.1 399.4,428.1 401.2,427.1 403.0,426.1 404.8,425.2 406.6,424.4 408.3,423.6 410.1,422.9 411.9,422.1 413.7,421.3 415.5,420.6 417.2,419.8 419.0,419.1 420.8,418.5 422.6,417.8 424.4,417.2 426.1,416.6 427.9,416.2 429.7,415.8 431.5,415.4 433.3,415.1 435.0,414.8 436.8,414.5 438.6,414.1 440.4,413.7 442.2,413.5 444.0,413.0 445.7,412.4 447.5,412.0 449.3,411.4 451.1,410.5 452.9,408.6 454.6,406.6 456.4,405.1 458.2,403.4 460.0,402.0 461.8,400.6 463.5,399.6 465.3,398.2 467.1,397.5 468.9,397.5 470.7,397.2 472.5,397.0 474.2,396.6 476.0,396.5 477.8,396.5 479.6,396.0 481.4,395.8 483.1,395.6 484.9,395.4 486.7,395.2 488.5,394.2 490.3,392.5 492.0,390.4 493.8,388.6 495.6,387.0 497.4,385.4 499.2,383.9 500.9,382.3 502.7,381.0 504.5,379.4 506.3,377.8 508.1,376.4 509.9,374.6 511.6,373.2 513.4,372.1 515.2,370.5 517.0,369.0 518.8,367.6 520.5,366.2 522.3,364.5 524.1,363.2 525.9,362.3 527.7,360.5 529.4,359.0 531.2,358.2 533.0,357.6 534.8,357.0 536.6,356.2 538.3,355.7 540.1,355.6 541.9,354.8 543.7,353.6 545.5,352.2 547.3,351.1 549.0,350.5 550.8,350.4 552.6,350.3 554.4,350.3 556.2,350.6 557.9,351.0 559.7,351.4" fill="none" stroke="#dd8452" stroke-width="1.30" stroke-linejoin="round"/>
<polygon points="383.4,432.8 384.2,432.7 385.0,432.7 385.8,432.6 386.6,432.6 387.4,432.6 388.2,432.5 389.0,432.5 389.8,432.5 390.6,432.4 391.5,432.4 392.3,432.4 393.1,432.3 393.9,432.3 394.7,432.3 395.5,432.2 396.3,432.2 397.1,432.2 397.9,432.1 398.7,432.1 399.5,432.1 400.3,432.0 401.1,432.0 401.9,432.0 402.7,431.9 403.5,431.9 404.3,431.9 405.1,431.8 405.9,431.8 406.7,431.8 407.6,431.7 408.4,431.7 409.2,431.7 410.0,431.7 410.8,431.6 411.6,431.6 412.4,431.6 413.2,431.5 414.0,431.5 414.8,431.5 415.6,431.4 416.4,431.4 417.2,431.4 418.0,431.4 418.8,431.3 419.6,431.3 420.4,431.3 421.2,431.2 422.0,431.2 422.9,431.2 423.7,431.2 424.5,431.1 425.3,431.1 426.1,431.1 426.9,431.1 427.7,431.0 428.5,431.0 429.3,431.0 430.1,431.0 430.9,430.9 431.7,430.9 432.5,430.9 433.3,430.9 434.1,430.8 434.9,430.8 435.7,430.8 436.5,430.8 437.3,430.7 438.1,430.7 439.0,430.7 439.8,430.7 440.6,430.7 441.4,430.6 442.2,430.6 443.0,430.6 443.8,430.6 444.6,430.6 445.4,430.5 446.2,430.5 447.0,430.5 447.8,430.5 448.6,430.5 449.4,430.5 450.2,430.5 451.0,430.4 451.8,430.4 452.6,430.4 453.4,430.4 454.3,430.4 455.1,430.4 455.9,430.4 456.7,430.4 457.5,430.3 458.3,430.3 459.1,430.3 459.9,430.3 460.7,430.3 461.5,430.3 462.3,430.3 463.1,430.3 463.9,430.3 464.7,430.3 465.5,430.3 466.3,430.3 467.1,430.3 467.9,430.3 468.7,430.3 469.5,430.3 470.4,430.3 471.2,430.3 472.0,430.3 472.8,430.3 473.6,430.3 474.4,430.3 475.2,430.3 476.0,430.3 476.8,430.3 477.6,430.3 478.4,430.3 479.2,430.3 480.0,430.3 480.8,430.3 481.6,430.3 482.4,430.3 483.2,430.3 484.0,430.3 484.8,430.3 485.6,430.3 486.5,430.3 487.3,430.3 488.1,430.3 488.9,430.3 489.7,430.3 490.5,430.3 491.3,430.3 492.1,430.3 492.9,430.3 493.7,430.3 494.5,430.3 495.3,430.3 496.1,430.3 496.9,430.3 497.7,430.3 498.5,430.3 499.3,430.3 500.1,430.3 500.9,430.3 501.8,430.3 502.6,430.3 503.4,430.3 504.2,430.3 505.0,430.3 505.8,430.3 506.6,430.3 507.4,430.3 508.2,430.3 509.0,430.3 509.8,430.3 510.6,430.3 511.4,430.3 512.2,430.3 513.0,430.3 513.8,430.3 514.6,430.3 515.4,430.3 516.2,430.3 517.0,430.3 517.9,430.3 518.7,430.3 519.5,430.3 520.3,430.3 521.1,430.3 521.9,430.3 522.7,430.3 523.5,430.3 524.3,430.3 525.1,430.3 525.9,430.3 526.7,430.3 527.5,430.3 528.3,430.3 529.1,430.3 529.9,430.3 530.7,430.3 531.5,430.3 532.3,430.3 533.2,430.3 534.0,430.3 534.8,430.3 535.6,430.3 536.4,430.3 537.2,430.3 538.0,430.3 538.8,430.3 539.6,430.3 540.4,430.3 541.2,430.3 542.0,430.3 542.8,430.3 543.6,430.3 544.4,430.3 545.2,430.3 546.0,430.3 546.8,430.3 547.6,430.3 548.4,430.3 549.3,430.3 550.1,430.3 550.9,430.3 551.7,430.3 552.5,430.3 553.3,430.3 554.1,430.3 554.9,430.3 555.7,430.3 556.5,430.3 557.3,430.3 558.1,430.3 558.9,430.3 559.7,430.3 559.7,430.8 558.9,430.8 558.1,430.8 557.3,430.8 556.5,430.8 555.7,430.8 554.9,430.8 554.1,430.8 553.3,430.8 552.5,430.8 551.7,430.8 550.9,430.8 550.1,430.8 549.3,430.8 548.4,430.8 547.6,430.8 546.8,430.8 546.0,430.8 545.2,430.8 544.4,430.8 543.6,430.8 542.8,430.8 542.0,430.8 541.2,430.8 540.4,430.8 539.6,430.8 538.8,430.8 538.0,430.8 537.2,430.8 536.4,430.8 535.6,430.8 534.8,430.8 534.0,430.8 533.2,430.8 532.3,430.8 531.5,430.8 530.7,430.8 529.9,430.8 529.1,430.8 528.3,430.8 527.5,430.8 526.7,430.8 525.9,430.8 525.1,430.8 524.3,430.8 523.5,430.8 522.7,430.8 521.9,430.8 521.1,430.8 520.3,430.8 519.5,430.8 518.7,430.8 517.9,430.8 517.0,430.8 516.2,430.8 515.4,430.8 514.6,430.8 513.8,430.8 513.0,430.8 512.2,430.8 511.4,430.8 510.6,430.8 509.8,430.8 509.0,430.8 508.2,430.8 507.4,430.8 506.6,430.8 505.8,430.8 505.0,430.8 504.2,430.8 503.4,430.8 502.6,430.8 501.8,430.8 500.9,430.8 500.1,430.8 499.3,430.8 498.5,430.8 497.7,430.8 496.9,430.8 496.1,430.8 495.3,430.8 494.5,430.8 493.7,430.8 492.9,430.8 492.1,430.8 491.3,430.8 490.5,430.8 489.7,430.8 488.9,430.8 488.1,430.8 487.3,430.8 486.5,430.8 485.6,430.8 484.8,430.8 484.0,430.8 483.2,430.8 482.4,430.8 481.6,430.8 480.8,430.8 480.0,430.8 479.2,430.8 478.4,430.8 477.6,430.8 476.8,430.8 476.0,430.8 475.2,430.8 474.4,430.8 473.6,430.8 472.8,430.8 472.0,430.8 471.2,430.8 470.4,430.8 469.5,430.8 468.7,430.8 467.9,430.8 467.1,430.8 466.3,430.8 465.5,430.8 464.7,430.8 463.9,430.8 463.1,430.8 462.3,430.8 461.5,430.8 460.7,430.8 459.9,430.8 459.1,430.8 458.3,430.8 457.5,430.8 456.7,430.9 455.9,430.9 455.1,430.9 454.3,430.9 453.4,430.9 452.6,430.9 451.8,430.9 451.0,430.9 450.2,431.0 449.4,431.0 448.6,431.0 447.8,431.0 447.0,431.0 446.2,431.0 445.4,431.0 444.6,431.1 443.8,431.1 443.0,431.1 442.2,431.1 441.4,431.1 440.6,431.2 439.8,431.2 439.0,431.2 438.1,431.2 437.3,431.2 436.5,431.3 435.7,431.3 434.9,431.3 434.1,431.3 433.3,431.4 432.5,431.4 431.7,431.4 430.9,431.4 430.1,431.5 429.3,431.5 428.5,431.5 427.7,431.5 426.9,431.6 426.1,431.6 425.3,431.6 424.5,431.6 423.7,431.7 422.9,431.7 422.0,431.7 421.2,431.7 420.4,431.8 419.6,431.8 418.8,431.8 418.0,431.9 417.2,431.9 416.4,431.9 415.6,431.9 414.8,432.0 414.0,432.0 413.2,432.0 412.4,432.1 411.6,432.1 410.8,432.1 410.0,432.2 409.2,432.2 408.4,432.2 407.6,432.2 406.7,432.3 405.9,432.3 405.1,432.3 404.3,432.4 403.5,432.4 402.7,432.4 401.9,432.5 401.1,432.5 400.3,432.5 399.5,432.6 398.7,432.6 397.9,432.6 397.1,432.7 396.3,432.7 395.5,432.7 394.7,432.8 393.9,432.8 393.1,432.8 392.3,432.9 391.5,432.9 390.6,432.9 389.8,433.0 389.0,433.0 388.2,433.0 387.4,433.1 386.6,433.1 385.8,433.1 385.0,433.2 384.2,433.2 383.4,433.2" fill="#55a868" fill-opacity="0.36"/>
<polyline points="383.4,433.0 384.2,433.0 385.0,432.9 385.8,432.9 386.6,432.9 387.4,432.8 388.2,432.8 389.0,432.8 389.8,432.7 390.6,432.7 391.5,432.7 392.3,432.6 393.1,432.6 393.9,432.6 394.7,432.5 395.5,432.5 396.3,432.5 397.1,432.4 397.9,432.4 398.7,432.4 399.5,432.3 400.3,432.3 401.1,432.3 401.9,432.2 402.7,432.2 403.5,432.2 404.3,432.1 405.1,432.1 405.9,432.1 406.7,432.0 407.6,432.0 408.4,432.0 409.2,431.9 410.0,431.9 410.8,431.9 411.6,431.8 412.4,431.8 413.2,431.8 414.0,431.8 414.8,431.7 415.6,431.7 416.4,431.7 417.2,431.6 418.0,431.6 418.8,431.6 419.6,431.5 420.4,431.5 421.2,431.5 422.0,431.5 422.9,431.4 423.7,431.4 424.5,431.4 425.3,431.4 426.1,431.3 426.9,431.3 427.7,431.3 428.5,431.3 429.3,431.2 430.1,431.2 430.9,431.2 431.7,431.2 432.5,431.1 433.3,431.1 434.1,431.1 434.9,431.1 435.7,431.0 436.5,431.0 437.3,431.0 438.1,431.0 439.0,431.0 439.8,430.9 440.6,430.9 441.4,430.9 442.2,430.9 443.0,430.9 443.8,430.8 444.6,430.8 445.4,430.8 446.2,430.8 447.0,430.8 447.8,430.7 448.6,430.7 449.4,430.7 450.2,430.7 451.0,430.7 451.8,430.7 452.6,430.7 453.4,430.6 454.3,430.6 455.1,430.6 455.9,430.6 456.7,430.6 457.5,430.6 458.3,430.6 459.1,430.6 459.9,430.6 460.7,430.6 461.5,430.5 462.3,430.5 463.1,430.5 463.9,430.5 464.7,430.5 465.5,430.5 466.3,430.5 467.1,430.5 467.9,430.5 468.7,430.5 469.5,430.5 470.4,430.5 471.2,430.5 472.0,430.5 472.8,430.5 473.6,430.5 474.4,430.5 475.2,430.5 476.0,430.5 476.8,430.5 477.6,430.5 478.4,430.5 479.2,430.5 480.0,430.5 480.8,430.5 481.6,430.5 482.4,430.5 483.2,430.5 484.0,430.5 484.8,430.5 485.6,430.5 486.5,430.5 487.3,430.5 488.1,430.5 488.9,430.5 489.7,430.5 490.5,430.5 491.3,430.5 492.1,430.5 492.9,430.5 493.7,430.5 494.5,430.5 495.3,430.5 496.1,430.5 496.9,430.5 497.7,430.5 498.5,430.5 499.3,430.5 500.1,430.5 500.9,430.5 501.8,430.5 502.6,430.5 503.4,430.5 504.2,430.5 505.0,430.5 505.8,430.5 506.6,430.5 507.4,430.5 508.2,430.5 509.0,430.5 509.8,430.5 510.6,430.5 511.4,430.5 512.2,430.5 513.0,430.5 513.8,430.5 514.6,430.5 515.4,430.5 516.2,430.5 517.0,430.5 517.9,430.5 518.7,430.5 519.5,430.5 520.3,430.5 521.1,430.5 521.9,430.5 522.7,430.5 523.5,430.5 524.3,430.5 525.1,430.5 525.9,430.5 526.7,430.5 527.5,430.5 528.3,430.5 529.1,430.5 529.9,430.5 530.7,430.5 531.5,430.5 532.3,430.5 533.2,430.5 534.0,430.5 534.8,430.5 535.6,430.5 536.4,430.5 537.2,430.5 538.0,430.5 538.8,430.5 539.6,430.5 540.4,430.5 541.2,430.5 542.0,430.5 542.8,430.5 543.6,430.5 544.4,430.5 545.2,430.5 546.0,430.5 546.8,430.5 547.6,430.5 548.4,430.5 549.3,430.5 550.1,430.5 550.9,430.5 551.7,430.5 552.5,430.5 553.3,430.5 554.1,430.5 554.9,430.5 555.7,430.5 556.5,430.5 557.3,430.5 558.1,430.5 558.9,430.5 559.7,430.5" fill="none" stroke="#55a868" stroke-width="1.30" stroke-linejoin="round"/>
</g>
<rect x="374.50" y="326.30" width="193.60" height="111.90" fill="none" stroke="#dcdcdc" stroke-width="1.00"/>
<text x="383.40" y="448.88" font-size="7.20" text-anchor="middle" textLength="4.0" lengthAdjust="spacingAndGlyphs" fill="#262626" stroke="#262626" stroke-width="0.05">0</text>
<text x="405.44" y="448.88" font-size="7.20" text-anchor="middle" textLength="12.0" lengthAdjust="spacingAndGlyphs" fill="#262626" stroke="#262626" stroke-width="0.05">500</text>
<text x="427.48" y="448.88" font-size="7.20" text-anchor="middle" textLength="16.0" lengthAdjust="spacingAndGlyphs" fill="#262626" stroke="#262626" stroke-width="0.05">1000</text>
<text x="449.52" y="448.88" font-size="7.20" text-anchor="middle" textLength="16.0" lengthAdjust="spacingAndGlyphs" fill="#262626" stroke="#262626" stroke-width="0.05">1500</text>
<text x="471.56" y="448.88" font-size="7.20" text-anchor="middle" textLength="16.0" lengthAdjust="spacingAndGlyphs" fill="#262626" stroke="#262626" stroke-width="0.05">2000</text>
<text x="493.60" y="448.88" font-size="7.20" text-anchor="middle" textLength="16.0" lengthAdjust="spacingAndGlyphs" fill="#262626" stroke="#262626" stroke-width="0.05">2500</text>
<text x="515.64" y="448.88" font-size="7.20" text-anchor="middle" textLength="16.0" lengthAdjust="spacingAndGlyphs" fill="#262626" stroke="#262626" stroke-width="0.05">3000</text>
<text x="537.68" y="448.88" font-size="7.20" text-anchor="middle" textLength="16.0" lengthAdjust="spacingAndGlyphs" fill="#262626" stroke="#262626" stroke-width="0.05">3500</text>
<text x="559.72" y="448.88" font-size="7.20" text-anchor="middle" textLength="16.0" lengthAdjust="spacingAndGlyphs" fill="#262626" stroke="#262626" stroke-width="0.05">4000</text>
<text x="368.70" y="435.08" font-size="7.20" text-anchor="end" textLength="10.0" lengthAdjust="spacingAndGlyphs" fill="#262626" stroke="#262626" stroke-width="0.05">0.0</text>
<text x="368.70" y="410.10" font-size="7.20" text-anchor="end" textLength="10.0" lengthAdjust="spacingAndGlyphs" fill="#262626" stroke="#262626" stroke-width="0.05">0.2</text>
<text x="368.70" y="385.12" font-size="7.20" text-anchor="end" textLength="10.0" lengthAdjust="spacingAndGlyphs" fill="#262626" stroke="#262626" stroke-width="0.05">0.4</text>
<text x="368.70" y="360.14" font-size="7.20" text-anchor="end" textLength="10.0" lengthAdjust="spacingAndGlyphs" fill="#262626" stroke="#262626" stroke-width="0.05">0.6</text>
<text x="368.70" y="335.16" font-size="7.20" text-anchor="end" textLength="10.0" lengthAdjust="spacingAndGlyphs" fill="#262626" stroke="#262626" stroke-width="0.05">0.8</text>
<text x="471.25" y="322.40" font-size="7.60" text-anchor="middle" textLength="78.3" lengthAdjust="spacingAndGlyphs" fill="#262626" stroke="#262626" stroke-width="0.05">Overcooked-Large-Salad</text>
<text x="471.30" y="457.40" font-size="7.50" text-anchor="middle" textLength="28.8" lengthAdjust="spacingAndGlyphs" fill="#262626" stroke="#262626" stroke-width="0.05">Episodes</text>
<text x="0" y="0" font-size="7.50" text-anchor="middle" textLength="62.7" lengthAdjust="spacingAndGlyphs" fill="#262626" stroke="#262626" stroke-width="0.05" transform="translate(355.40,382.00) rotate(-90)">Normalized Reward</text><rect x="173.5" y="1.5" width="339.6" height="19.5" rx="2" ry="2" fill="#fff" stroke="#d6d6d6" stroke-width="0.8"/>
<line x1="177.0" y1="10.5" x2="201.0" y2="10.5" stroke="#1f77b4" stroke-width="1.4"/>
<text x="225.05" y="14.50" font-size="11.80" text-anchor="middle" textLength="31.7" lengthAdjust="spacingAndGlyphs" fill="#262626" stroke="#262626" stroke-width="0.15">GFlan</text>
<line x1="263.0" y1="10.5" x2="287.0" y2="10.5" stroke="#ff7f0e" stroke-width="1.4"/>
<text x="343.30" y="14.50" font-size="11.80" text-anchor="middle" textLength="96.6" lengthAdjust="spacingAndGlyphs" fill="#262626" stroke="#262626" stroke-width="0.15">Bilevel-LLM(ours)</text>
<line x1="413.7" y1="10.5" x2="437.0" y2="10.5" stroke="#2ca02c" stroke-width="1.4"/>
<text x="477.15" y="14.50" font-size="11.80" text-anchor="middle" textLength="62.3" lengthAdjust="spacingAndGlyphs" fill="#262626" stroke="#262626" stroke-width="0.15">Vanilla PPO</text></g></svg></body></html>
